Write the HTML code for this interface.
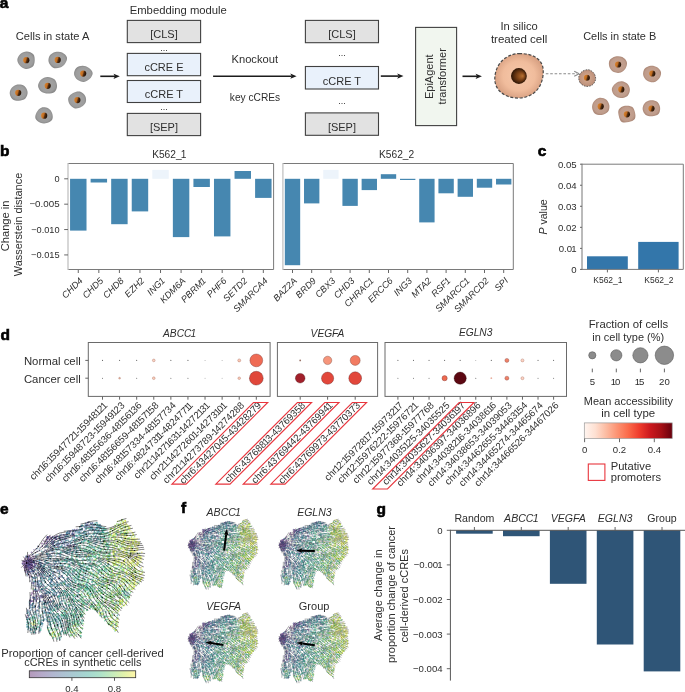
<!DOCTYPE html>
<html><head><meta charset="utf-8"><title>Figure</title>
<style>html,body{margin:0;padding:0;background:#fff;} svg{display:block;} text{font-family:'Liberation Sans', Arial, sans-serif;}</style>
</head><body>
<svg width="685" height="692" viewBox="0 0 685 692">
<defs>
<radialGradient id="gcell" cx="0.5" cy="0.5" r="0.5">
<stop offset="0" stop-color="#a6a6a6"/><stop offset="0.8" stop-color="#9d9d9d"/><stop offset="1" stop-color="#8a8a8a"/></radialGradient>
<radialGradient id="pcell" cx="0.5" cy="0.5" r="0.5">
<stop offset="0" stop-color="#c6a595"/><stop offset="0.8" stop-color="#bf9c8b"/><stop offset="1" stop-color="#ac8877"/></radialGradient>
<linearGradient id="nuc" x1="0" x2="1" y1="0.3" y2="0.6">
<stop offset="0" stop-color="#d8842e"/><stop offset="0.42" stop-color="#c06c22"/><stop offset="0.62" stop-color="#4e2a0e"/><stop offset="1" stop-color="#1a0d04"/></linearGradient>
<radialGradient id="bigcell" cx="0.5" cy="0.5" r="0.55">
<stop offset="0" stop-color="#f6c8aa"/><stop offset="0.6" stop-color="#f0bc9c"/><stop offset="1" stop-color="#d49c7e"/></radialGradient>
<radialGradient id="bignuc" cx="0.5" cy="0.5" r="0.5" fx="0.75" fy="0.5">
<stop offset="0" stop-color="#b87030"/><stop offset="0.5" stop-color="#7a4016"/><stop offset="1" stop-color="#2c1405"/></radialGradient>
<radialGradient id="smallcell" cx="0.5" cy="0.5" r="0.55">
<stop offset="0" stop-color="#d7ad94"/><stop offset="1" stop-color="#b98c76"/></radialGradient>

<linearGradient id="reds" x1="0" x2="1" y1="0" y2="0">
<stop offset="0" stop-color="#fff5f0"/><stop offset="0.125" stop-color="#fee0d2"/><stop offset="0.25" stop-color="#fcbba1"/>
<stop offset="0.375" stop-color="#fc9272"/><stop offset="0.5" stop-color="#fb6a4a"/><stop offset="0.625" stop-color="#ef3b2c"/>
<stop offset="0.75" stop-color="#cb181d"/><stop offset="0.875" stop-color="#a50f15"/><stop offset="1" stop-color="#67000d"/></linearGradient>
<linearGradient id="vir" x1="0" x2="1" y1="0" y2="0"><stop offset="0.000" stop-color="rgb(68, 1, 84)" stop-opacity="0.4"/><stop offset="0.111" stop-color="rgb(72, 40, 120)" stop-opacity="0.4"/><stop offset="0.222" stop-color="rgb(62, 74, 137)" stop-opacity="0.4"/><stop offset="0.333" stop-color="rgb(49, 104, 142)" stop-opacity="0.4"/><stop offset="0.444" stop-color="rgb(38, 130, 142)" stop-opacity="0.4"/><stop offset="0.556" stop-color="rgb(31, 158, 137)" stop-opacity="0.4"/><stop offset="0.667" stop-color="rgb(53, 183, 121)" stop-opacity="0.4"/><stop offset="0.778" stop-color="rgb(109, 205, 89)" stop-opacity="0.4"/><stop offset="0.889" stop-color="rgb(180, 222, 44)" stop-opacity="0.4"/><stop offset="1.000" stop-color="rgb(253, 231, 37)" stop-opacity="0.4"/></linearGradient>
<g id="fblob"><path d="M36.2 566.9h0M27.4 561.8h0M30.5 567.2h0M28.2 563.1h0M29.4 563.2h0M26.0 561.6h0M31.7 563.0h0M33.1 558.9h0M29.1 564.2h0M23.1 564.8h0M29.2 562.5h0M23.6 564.7h0M28.0 558.6h0M28.4 563.3h0M30.2 561.5h0M27.0 562.9h0M28.0 562.6h0M33.6 565.7h0M28.8 566.1h0M28.8 563.8h0M29.4 563.2h0M28.0 562.3h0M28.6 562.0h0M25.0 563.8h0M30.4 562.3h0M31.3 567.7h0M29.0 564.0h0M36.7 562.6h0M29.8 557.6h0M27.9 563.4h0M28.8 563.1h0M28.3 561.1h0M26.6 559.9h0M28.0 563.0h0M27.6 563.7h0M30.3 564.7h0M27.4 562.8h0M27.5 568.6h0M31.9 563.6h0M28.3 563.8h0M31.3 563.4h0M25.1 563.4h0M25.4 564.0h0M28.6 563.1h0M29.1 561.9h0M26.5 555.8h0M29.4 556.1h0M28.1 563.7h0M32.3 561.5h0M29.9 559.8h0M30.2 557.9h0M28.2 564.4h0M30.3 564.7h0M27.8 559.9h0M29.8 554.3h0M24.7 563.6h0M31.4 561.4h0M32.2 561.8h0M25.7 557.2h0M29.6 572.2h0M29.2 563.1h0M29.4 561.9h0M30.2 570.1h0M30.2 568.9h0M27.1 561.4h0M27.5 562.4h0M29.0 562.9h0M28.6 557.0h0M28.2 563.6h0M29.8 566.4h0M23.4 567.7h0M27.3 564.5h0M29.1 563.1h0M26.3 566.3h0M27.2 560.6h0M27.5 566.9h0M25.7 557.4h0M32.0 566.2h0M25.0 558.0h0M26.2 563.9h0M25.4 566.9h0M30.5 564.5h0M28.0 563.3h0M34.9 558.4h0M30.1 562.0h0M25.0 567.8h0M28.2 562.6h0M31.4 572.3h0M30.3 563.4h0M24.4 565.3h0M29.7 560.1h0M29.0 565.1h0M26.8 565.4h0M28.6 563.2h0M28.9 560.0h0M29.7 560.4h0M24.8 561.7h0M34.2 550.9h0M25.1 562.3h0M30.1 562.9h0M28.4 563.1h0M28.6 566.2h0M28.8 563.5h0M25.3 562.4h0M32.7 569.9h0M29.9 563.7h0M27.3 555.1h0M25.7 559.1h0M27.5 567.3h0M28.8 559.1h0M27.8 559.7h0M30.1 563.4h0M29.3 565.9h0M25.4 558.7h0M28.2 563.1h0M54.6 548.3h0M39.0 555.7h0M26.5 568.0h0M48.2 543.4h0M40.4 589.4h0M28.8 558.4h0M53.4 541.3h0M36.2 605.8h0M35.7 601.3h0M74.0 549.5h0M31.8 611.5h0M42.4 542.3h0M28.7 563.9h0M41.5 562.8h0M32.6 581.2h0M41.6 585.5h0M31.5 561.8h0M49.1 537.0h0M26.1 572.6h0M50.0 596.1h0M26.3 566.4h0M53.4 537.2h0M26.3 567.0h0M25.8 572.1h0M71.6 547.9h0M58.9 535.2h0M51.2 539.9h0M47.9 546.1h0M55.4 539.8h0M69.1 577.9h0M28.8 562.1h0M33.9 595.0h0M25.9 559.9h0M48.9 547.9h0M27.5 563.4h0M27.1 561.6h0M33.7 562.1h0M49.9 540.1h0M29.0 564.1h0M53.3 543.2h0M45.2 544.9h0M41.8 569.4h0M28.4 566.4h0M33.3 563.6h0M29.2 563.5h0M52.6 538.0h0M41.8 597.5h0M23.4 560.9h0M51.3 538.9h0M26.9 560.0h0M41.9 544.9h0M23.3 567.3h0M48.4 539.5h0M49.2 564.6h0M30.5 573.6h0M34.1 592.0h0M37.8 565.2h0M30.9 565.1h0M43.6 546.0h0M40.4 544.7h0M27.3 569.7h0M23.1 563.0h0M68.8 540.5h0M38.9 597.6h0M47.6 541.6h0M30.7 563.0h0M35.3 556.1h0M46.9 572.6h0M36.4 586.3h0M25.1 563.5h0M36.6 573.7h0M37.9 600.2h0M57.0 536.8h0M25.8 560.6h0M29.5 602.1h0M24.2 563.6h0M47.7 545.8h0M50.1 537.8h0" stroke="rgb(70, 16, 98)" stroke-opacity="0.5" stroke-width="2.5" stroke-linecap="round" fill="none"/>
<path d="M28.0 555.2h0M28.0 558.7h0M28.0 563.6h0M28.1 563.9h0M30.1 561.3h0M28.5 563.0h0M25.7 572.8h0M26.3 562.8h0M30.3 564.2h0M32.8 559.2h0M27.3 562.8h0M29.0 565.8h0M28.0 559.6h0M29.7 562.5h0M32.1 570.3h0M30.2 566.2h0M27.6 565.0h0M28.2 564.0h0M30.7 560.0h0M26.0 565.8h0M28.3 563.2h0M24.4 562.7h0M28.5 563.6h0M28.5 563.1h0M28.2 562.9h0M29.6 563.7h0M29.2 562.6h0M30.4 569.7h0M27.8 571.2h0M27.8 563.1h0M28.4 562.7h0M31.2 562.9h0M30.5 564.2h0M34.9 562.4h0M28.2 562.3h0M31.5 566.5h0M28.5 563.8h0M27.7 563.4h0M29.1 562.2h0M27.3 560.1h0M33.7 563.8h0M26.9 561.3h0M31.8 566.3h0M28.4 563.0h0M32.6 564.0h0M32.1 557.3h0M27.7 563.4h0M28.9 562.7h0M25.9 562.3h0M31.2 562.0h0M28.6 564.9h0M29.0 569.7h0M24.7 566.7h0M30.6 560.3h0M27.8 560.6h0M28.5 560.5h0M28.6 554.8h0M26.2 565.5h0M30.2 561.7h0M27.1 560.7h0M30.1 561.9h0M28.5 563.0h0M28.6 565.0h0M30.1 559.8h0M26.1 560.2h0M33.6 558.9h0M28.9 561.2h0M28.5 563.0h0M28.6 563.1h0M26.1 559.8h0M28.7 563.4h0M27.2 564.3h0M34.6 586.7h0M37.7 560.9h0M87.9 528.2h0M27.8 557.1h0M99.3 525.4h0M33.9 604.1h0M24.9 568.6h0M61.9 536.2h0M66.5 557.4h0M56.6 535.8h0M25.8 572.7h0M29.9 571.0h0M43.4 571.5h0M63.5 544.2h0M32.4 562.6h0M60.5 541.7h0M33.3 551.9h0M30.0 554.0h0M62.0 538.3h0M35.0 594.7h0M34.0 599.6h0M28.3 566.3h0M49.2 542.6h0M32.0 603.3h0M38.2 578.9h0M34.2 567.2h0M32.3 554.4h0M42.7 594.9h0M41.2 564.3h0M35.2 548.9h0M62.2 538.8h0M65.4 568.9h0M55.9 538.1h0M90.5 529.6h0M88.6 527.2h0M72.5 547.7h0M58.6 535.2h0M54.5 601.6h0M23.1 564.3h0M36.9 601.4h0M58.0 538.7h0M32.4 579.1h0M25.3 557.2h0M53.4 543.3h0M36.3 560.8h0M29.4 603.7h0M52.1 593.3h0M48.5 539.9h0M31.7 563.1h0M33.5 555.3h0M64.2 547.3h0M83.2 528.4h0M47.8 581.4h0M44.0 558.1h0M49.2 602.0h0M62.8 536.9h0M35.9 575.3h0M39.9 560.3h0M49.0 563.7h0M58.2 535.2h0M39.5 594.6h0M31.0 567.4h0M96.8 527.0h0M38.6 574.1h0M85.3 524.6h0M47.0 537.7h0M51.1 593.0h0M35.2 589.0h0M52.0 538.3h0M97.6 539.7h0M55.4 540.1h0M48.1 587.3h0M34.4 598.6h0M61.1 557.3h0M77.3 537.8h0M33.2 565.9h0M34.5 596.0h0M32.3 566.2h0M36.5 557.4h0M56.1 542.4h0M44.6 553.2h0M44.0 560.1h0M39.6 593.6h0M33.4 605.7h0M71.8 565.2h0M58.5 537.0h0M57.8 578.2h0M67.1 535.5h0M91.7 529.4h0M43.4 548.9h0M35.1 584.5h0M65.4 539.4h0M46.3 554.2h0M53.5 544.8h0M56.2 570.3h0" stroke="rgb(71, 44, 122)" stroke-opacity="0.5" stroke-width="2.5" stroke-linecap="round" fill="none"/>
<path d="M24.7 569.7h0M24.8 567.4h0M30.2 562.4h0M27.7 560.9h0M25.5 557.4h0M40.5 592.9h0M39.0 594.7h0M64.9 535.4h0M50.3 558.8h0M45.0 571.6h0M49.1 615.4h0M32.3 571.1h0M53.5 578.3h0M49.6 541.5h0M47.7 604.9h0M58.7 617.6h0M79.3 532.1h0M27.5 558.2h0M36.1 601.5h0M34.9 568.6h0M59.9 613.3h0M45.6 588.8h0M65.1 556.0h0M41.0 591.5h0M60.3 576.1h0M75.8 529.9h0M56.9 583.7h0M61.9 573.3h0M54.0 575.5h0M56.8 582.7h0M31.1 579.4h0M67.5 547.4h0M93.9 534.3h0M64.6 532.8h0M52.0 614.9h0M57.6 567.4h0M55.3 573.9h0M53.7 556.9h0M54.0 571.7h0M66.9 592.3h0M58.1 556.9h0M72.3 532.6h0M34.8 554.3h0M91.1 522.7h0M46.4 603.8h0M32.4 596.7h0M46.8 577.9h0M71.1 542.0h0M34.7 587.6h0M31.2 617.8h0M33.2 566.1h0M39.2 592.1h0M56.8 575.7h0M49.2 551.0h0M62.7 583.7h0M36.5 588.9h0M85.9 525.2h0M46.2 557.4h0M56.3 544.3h0M31.2 570.5h0M53.2 597.5h0M29.6 558.5h0M36.5 613.5h0M71.9 543.7h0M55.6 549.6h0M39.5 567.6h0M65.0 538.5h0M31.6 601.8h0M39.6 584.2h0M40.0 609.6h0M68.0 548.4h0M53.1 552.8h0M88.0 523.7h0M57.7 578.5h0M33.8 591.7h0M61.6 541.5h0M47.8 536.5h0M28.6 573.6h0M52.2 537.3h0M34.4 586.9h0M57.3 581.4h0M39.7 574.1h0M84.0 526.7h0M54.8 564.5h0M36.9 631.5h0M39.0 577.6h0M62.0 542.1h0M59.8 578.8h0M46.6 554.7h0M71.7 554.8h0M62.1 615.6h0M43.9 554.1h0M68.9 540.7h0M50.8 548.8h0M38.5 590.2h0M35.9 614.0h0M27.7 618.6h0M41.8 595.0h0M53.2 573.0h0M68.0 539.7h0M33.5 586.7h0M29.0 557.7h0M49.2 606.7h0M39.1 553.0h0M88.7 532.1h0M34.1 564.2h0M53.0 537.4h0M37.4 565.7h0M63.4 535.7h0M50.9 593.4h0M86.9 525.6h0M41.6 590.9h0M83.7 554.0h0M61.7 536.7h0M56.8 539.2h0M56.3 551.2h0M67.5 536.5h0M48.7 608.5h0M66.2 583.0h0M56.5 595.6h0M40.9 590.3h0M49.5 546.5h0M39.8 601.2h0M58.9 554.8h0M77.4 559.3h0M97.5 525.4h0M38.1 594.2h0M31.0 573.9h0M33.3 609.8h0M31.6 578.1h0M38.4 569.9h0M94.5 522.9h0M74.9 542.8h0M36.0 575.3h0M59.6 538.5h0M41.6 565.6h0M50.7 558.7h0M71.0 534.4h0M48.7 546.5h0M50.0 598.7h0M50.8 573.4h0M61.5 542.9h0M53.4 605.6h0M58.1 535.3h0M32.1 574.1h0M47.8 570.1h0M57.5 576.3h0M48.1 549.5h0M65.4 572.0h0M57.4 541.2h0M22.8 563.3h0M80.0 540.8h0M31.3 593.8h0M64.2 540.1h0M52.2 564.8h0M38.1 599.0h0M60.5 537.4h0M50.2 551.6h0M28.8 569.3h0M103.1 530.1h0M40.6 600.8h0M41.9 571.0h0M48.2 601.7h0M52.6 538.0h0M32.4 613.9h0M50.2 580.1h0M92.6 530.3h0M38.5 581.9h0M50.3 538.3h0M54.5 539.5h0M50.5 549.6h0M31.9 566.3h0M76.5 535.2h0M38.6 632.2h0M40.3 565.7h0M28.3 574.9h0M40.4 575.6h0M34.7 599.0h0M33.3 570.6h0M42.2 579.4h0M38.5 590.6h0M30.1 573.8h0M71.9 544.1h0M83.5 589.6h0M33.1 561.1h0" stroke="rgb(63, 70, 135)" stroke-opacity="0.5" stroke-width="2.5" stroke-linecap="round" fill="none"/>
<path d="M53.3 540.9h0M45.6 575.7h0M34.4 580.8h0M100.5 588.2h0M27.0 573.8h0M81.1 553.9h0M65.3 622.7h0M48.3 552.5h0M50.6 595.0h0M31.9 606.2h0M53.3 612.6h0M74.1 532.0h0M32.6 578.9h0M74.8 550.8h0M44.7 616.8h0M46.4 552.9h0M50.5 563.8h0M72.2 537.9h0M78.6 588.6h0M68.7 597.9h0M103.3 528.6h0M32.9 577.8h0M61.4 576.3h0M87.7 525.6h0M66.5 550.0h0M31.7 617.3h0M57.7 541.1h0M71.6 616.5h0M57.9 621.3h0M31.6 579.4h0M75.2 529.8h0M52.5 601.6h0M55.9 568.2h0M98.4 594.4h0M73.7 534.6h0M50.4 544.6h0M60.2 601.0h0M56.9 587.4h0M80.2 562.4h0M45.2 578.8h0M34.1 568.5h0M58.9 539.1h0M40.8 584.2h0M29.8 559.6h0M62.6 542.9h0M32.3 581.8h0M53.5 568.8h0M91.6 545.8h0M64.8 599.0h0M72.5 542.4h0M100.0 529.1h0M64.7 603.7h0M50.9 547.5h0M41.3 594.1h0M48.4 563.0h0M61.2 574.6h0M59.3 612.3h0M68.2 534.0h0M86.4 533.0h0M68.9 617.4h0M59.7 578.8h0M61.9 599.5h0M62.9 577.0h0M67.6 540.0h0M52.3 610.3h0M55.8 612.3h0M89.2 525.0h0M97.9 539.5h0M87.5 535.2h0M95.0 538.4h0M67.7 575.8h0M56.6 581.3h0M38.6 586.7h0M49.2 604.0h0M80.4 526.1h0M74.8 536.2h0M53.9 609.5h0M71.0 564.9h0M56.7 602.2h0M43.1 601.8h0M44.0 569.7h0M49.1 557.6h0M48.3 591.4h0M37.8 603.7h0M51.0 547.1h0M33.1 573.5h0M61.5 546.1h0M53.2 610.9h0M35.3 632.7h0M62.3 570.3h0M56.6 594.7h0M105.2 528.7h0M69.5 535.3h0M90.1 534.4h0M44.2 565.7h0M85.1 570.0h0M96.6 525.7h0M39.5 619.1h0M47.8 552.7h0M65.7 576.3h0M59.9 550.7h0M82.3 567.8h0M83.6 532.2h0M86.6 561.7h0M77.0 531.5h0M65.2 533.7h0M48.1 586.8h0M31.6 610.2h0M47.0 566.3h0M33.6 613.8h0M56.6 562.5h0M60.2 575.6h0M38.6 630.1h0M59.6 613.4h0M37.3 560.8h0M46.3 600.2h0M48.9 545.9h0M63.7 549.9h0M40.3 589.3h0M44.6 606.1h0M87.3 524.1h0M52.4 598.0h0M39.7 578.1h0M46.6 581.5h0M92.6 526.6h0M41.3 617.7h0M40.3 563.9h0M87.2 530.4h0M96.5 579.3h0M86.1 527.6h0M62.5 559.8h0M95.3 538.6h0M79.5 604.1h0M50.9 603.8h0M61.9 547.1h0M50.7 570.5h0M40.6 571.2h0M42.0 600.5h0M52.2 579.7h0M44.4 550.7h0M36.0 561.1h0M32.7 615.9h0M53.3 542.8h0M74.1 547.6h0M81.8 525.7h0M47.7 570.5h0M44.6 576.4h0M91.9 529.7h0M45.2 567.1h0M46.3 601.6h0M67.9 531.7h0M40.1 598.5h0M74.2 554.5h0M65.8 539.9h0M88.2 526.1h0M35.5 596.6h0M34.9 594.2h0M30.5 601.2h0M33.2 608.0h0M57.1 594.0h0M26.8 560.5h0M27.6 568.1h0M58.9 608.3h0M91.3 524.3h0M94.5 531.8h0M47.3 616.2h0M57.4 578.1h0M49.9 591.9h0M65.1 602.6h0M57.0 602.6h0M73.6 575.8h0M59.5 555.6h0M38.8 618.0h0M60.5 596.0h0M57.5 580.4h0M57.2 542.7h0M42.0 598.1h0M36.8 559.8h0M58.2 547.8h0M27.4 621.3h0M56.3 593.6h0M67.3 590.7h0M92.9 530.0h0M76.2 534.8h0M53.9 566.6h0M43.9 585.0h0M64.0 598.6h0M56.0 578.2h0M55.4 552.6h0M43.9 617.6h0M55.5 540.4h0M54.5 601.2h0M73.1 596.2h0M54.6 589.2h0M32.4 552.3h0M92.1 527.0h0M54.7 557.7h0M86.0 558.6h0M65.4 540.0h0M64.6 625.1h0M63.0 549.6h0M44.1 562.9h0M62.8 548.4h0M43.3 569.0h0M43.3 596.2h0M59.3 598.0h0M40.2 604.1h0M49.8 604.3h0M44.1 564.5h0M48.2 599.6h0M54.2 540.3h0M92.6 545.8h0M40.5 612.7h0M40.6 624.2h0M94.1 535.7h0M67.0 538.2h0M65.8 612.0h0M61.6 549.3h0M61.9 547.4h0M62.7 578.9h0" stroke="rgb(54, 93, 140)" stroke-opacity="0.5" stroke-width="2.5" stroke-linecap="round" fill="none"/>
<path d="M37.0 604.8h0M63.0 584.3h0M59.9 542.9h0M95.4 525.4h0M84.8 537.2h0M32.3 614.4h0M40.2 577.5h0M50.5 560.0h0M53.9 586.3h0M55.0 550.3h0M78.6 528.2h0M56.0 547.0h0M74.3 597.6h0M48.4 577.3h0M61.6 583.3h0M46.8 620.6h0M102.9 614.3h0M55.0 563.9h0M51.5 603.0h0M101.4 583.8h0M64.6 598.9h0M85.3 535.1h0M51.8 609.8h0M88.4 524.8h0M77.5 567.9h0M56.4 613.5h0M74.1 536.2h0M80.2 563.7h0M49.1 554.8h0M54.9 622.8h0M66.5 588.9h0M52.7 540.7h0M53.8 589.5h0M88.6 529.0h0M89.6 527.3h0M64.9 607.6h0M64.0 537.0h0M68.8 577.9h0M38.2 614.1h0M63.5 565.3h0M45.9 567.9h0M59.9 618.6h0M64.8 540.7h0M95.7 550.8h0M64.0 576.1h0M68.9 566.5h0M62.4 591.9h0M47.0 611.5h0M82.8 611.9h0M61.8 551.2h0M49.0 585.9h0M45.0 578.2h0M62.7 571.8h0M104.5 539.6h0M54.6 601.5h0M83.3 567.3h0M82.0 526.7h0M94.5 524.5h0M51.8 604.6h0M48.4 574.0h0M76.1 530.6h0M52.5 582.3h0M63.1 600.5h0M65.8 591.6h0M68.8 604.4h0M55.0 595.1h0M48.6 609.6h0M61.4 564.3h0M64.9 600.1h0M52.2 542.5h0M41.1 586.7h0M52.1 548.7h0M62.6 570.1h0M35.4 574.1h0M62.8 584.5h0M57.2 596.2h0M54.7 559.1h0M39.9 631.3h0M60.0 571.3h0M50.3 610.4h0M88.4 589.5h0M63.7 551.9h0M61.5 625.5h0M83.0 531.8h0M53.0 639.1h0M50.6 545.6h0M76.2 558.7h0M101.9 589.5h0M43.1 618.7h0M80.0 560.8h0M95.6 535.7h0M62.2 553.2h0M47.4 622.1h0M43.4 622.0h0M41.7 627.8h0M87.9 529.0h0M57.2 612.6h0M47.3 608.9h0M40.9 583.2h0M63.3 594.2h0M57.0 580.7h0M93.5 523.0h0M55.2 549.4h0M47.4 614.3h0M72.5 577.8h0M55.7 606.9h0M46.8 554.5h0M64.7 532.9h0M53.7 619.3h0M49.9 592.6h0M53.4 590.5h0M53.4 547.7h0M77.9 551.3h0M103.2 544.1h0M62.6 608.7h0M36.7 574.4h0M88.3 560.4h0M72.9 540.5h0M60.0 558.2h0M37.2 569.6h0M62.1 552.6h0M68.3 549.4h0M30.8 553.0h0M101.7 525.5h0M54.8 571.8h0M64.4 537.5h0M47.5 570.2h0M94.4 535.1h0M72.1 557.1h0M47.9 611.5h0M34.3 611.3h0M79.1 533.5h0M69.2 556.6h0M76.7 530.8h0M77.0 572.5h0M96.2 589.8h0M59.8 566.0h0M42.7 605.5h0M31.2 618.8h0M77.5 591.0h0M84.1 531.5h0M65.6 539.7h0M100.0 524.9h0M32.4 605.1h0M37.6 569.6h0M78.1 530.2h0M28.1 618.7h0M66.7 591.3h0M75.6 572.3h0M93.5 529.3h0M78.7 536.1h0M26.8 623.6h0M104.6 528.4h0M50.9 562.4h0M87.8 540.4h0M33.1 615.3h0M73.6 535.8h0M72.0 575.5h0M95.4 526.5h0M55.3 585.7h0M88.9 554.1h0M67.4 597.5h0M101.7 532.8h0M62.4 550.6h0M51.3 624.1h0M95.4 525.3h0M49.6 548.5h0M60.8 544.0h0M56.5 555.2h0M81.1 579.0h0M82.8 589.9h0M35.9 564.5h0M83.6 535.2h0M48.1 597.6h0M46.6 595.3h0M89.3 538.9h0M30.6 568.2h0M43.0 621.2h0M77.2 563.8h0M108.4 600.1h0M84.5 529.7h0M100.1 537.4h0M57.0 607.4h0M63.7 550.9h0M76.0 561.0h0M88.6 529.6h0M55.1 572.8h0M53.9 564.5h0M53.1 622.7h0M67.4 534.8h0M62.8 564.0h0M53.9 615.5h0M93.6 546.0h0M55.5 545.6h0M99.2 534.1h0M79.7 530.9h0M44.5 620.9h0M48.9 625.4h0M75.4 572.2h0M72.5 590.3h0M68.8 552.6h0M41.2 628.3h0M49.5 605.1h0M108.4 550.6h0M98.4 536.1h0M100.5 530.6h0M68.2 552.9h0M78.1 605.2h0M57.8 608.5h0M68.9 579.1h0M38.2 568.5h0M50.2 563.6h0M60.1 542.4h0M67.5 562.4h0M128.2 594.4h0M82.7 561.9h0M41.5 579.6h0M37.1 577.4h0M37.3 577.1h0M99.3 545.5h0M70.5 572.9h0M35.0 589.5h0M95.2 569.8h0M80.7 546.2h0M70.7 549.4h0M75.8 580.3h0M31.9 607.6h0M77.2 530.3h0M65.3 595.0h0M57.3 563.0h0M84.2 565.5h0M39.2 570.1h0M52.3 551.4h0M70.6 591.9h0M97.0 532.1h0M95.9 547.0h0M78.5 544.7h0M33.8 610.9h0M61.1 551.1h0M27.8 625.9h0M62.4 617.8h0M108.4 530.6h0M98.4 525.6h0M45.4 608.9h0M40.6 625.0h0M34.3 610.0h0M55.0 618.2h0M64.8 547.9h0M38.9 568.6h0M26.7 616.4h0M78.4 567.7h0M96.7 531.5h0" stroke="rgb(45, 114, 142)" stroke-opacity="0.5" stroke-width="2.5" stroke-linecap="round" fill="none"/>
<path d="M70.2 576.3h0M71.9 579.5h0M74.5 574.5h0M101.7 537.3h0M52.4 606.0h0M106.2 564.2h0M83.8 546.7h0M68.8 556.2h0M46.7 559.2h0M47.4 621.9h0M59.1 609.0h0M34.6 568.5h0M73.8 568.6h0M86.0 552.6h0M80.9 615.1h0M60.0 594.0h0M53.3 578.9h0M64.6 601.2h0M66.3 606.9h0M42.4 572.7h0M72.0 606.9h0M81.3 538.8h0M95.7 536.2h0M40.7 628.1h0M69.1 633.2h0M83.5 533.6h0M64.2 569.7h0M81.9 580.0h0M92.8 568.3h0M45.7 613.7h0M76.0 532.5h0M82.8 562.5h0M66.3 572.7h0M83.2 527.2h0M120.4 576.1h0M88.6 595.0h0M63.2 577.1h0M60.1 632.1h0M59.4 599.2h0M66.0 604.9h0M67.6 582.4h0M87.7 580.9h0M29.5 619.0h0M62.7 624.7h0M59.6 564.2h0M63.6 619.8h0M56.9 608.3h0M75.3 567.1h0M84.7 548.5h0M79.8 578.2h0M65.9 568.8h0M81.1 554.2h0M88.6 530.1h0M75.4 609.3h0M86.0 589.2h0M47.0 608.0h0M47.3 595.6h0M60.4 636.7h0M41.7 602.7h0M59.6 565.2h0M38.9 631.6h0M72.3 530.9h0M34.1 581.8h0M47.6 612.1h0M60.2 610.8h0M50.2 553.2h0M73.3 610.1h0M67.7 551.5h0M75.5 593.9h0M60.3 617.8h0M54.3 619.5h0M79.1 566.2h0M62.8 600.1h0M42.7 593.6h0M61.9 599.4h0M61.4 591.5h0M36.6 617.4h0M64.5 592.9h0M39.3 628.1h0M91.3 530.6h0M79.8 635.8h0M55.9 551.0h0M34.6 615.1h0M75.2 578.0h0M58.3 588.6h0M58.4 607.0h0M71.8 625.9h0M65.1 546.8h0M62.7 592.3h0M63.0 605.2h0M55.4 624.2h0M61.6 620.3h0M127.9 594.4h0M52.4 568.8h0M75.5 542.3h0M62.6 562.2h0M74.0 601.5h0M79.3 579.4h0M68.4 620.1h0M60.8 534.4h0M114.5 579.4h0M64.9 550.1h0M82.0 542.4h0M102.2 585.7h0M60.9 626.6h0M84.7 527.8h0M72.4 535.0h0M47.6 624.4h0M96.5 582.3h0M82.4 535.7h0M76.8 605.5h0M99.9 539.8h0M73.2 591.4h0M53.5 605.1h0M95.6 544.7h0M36.8 632.8h0M80.6 618.9h0M41.2 580.8h0M71.8 569.6h0M40.6 576.2h0M62.7 548.4h0M79.1 568.4h0M57.2 601.5h0M67.1 623.5h0M89.4 560.8h0M86.2 548.1h0M49.0 579.0h0M57.5 596.8h0M57.6 581.4h0M62.6 603.9h0M42.1 578.3h0M104.4 530.0h0M105.0 566.2h0M83.4 563.6h0M54.7 609.8h0M84.1 581.5h0M55.8 587.2h0M60.9 553.7h0M69.8 551.7h0M48.3 614.0h0M84.2 617.8h0M89.6 534.2h0M91.5 540.4h0M68.1 580.7h0M41.9 595.9h0M58.3 556.3h0M77.4 614.6h0M64.3 596.2h0M102.1 544.1h0M69.5 551.6h0M34.6 629.0h0M65.8 574.9h0M52.5 616.9h0M102.3 601.5h0M83.1 570.8h0M92.6 595.7h0M54.7 603.3h0M76.8 608.5h0M92.7 595.2h0M96.1 537.5h0M79.4 536.9h0M34.6 624.9h0M65.3 540.3h0M92.9 581.3h0M81.2 537.1h0M29.8 621.3h0M105.6 532.4h0M51.8 583.3h0M82.8 578.0h0M51.5 553.0h0M94.8 525.8h0M62.5 540.9h0M89.9 532.6h0M106.6 560.0h0M66.6 603.1h0M92.0 535.5h0M88.3 535.1h0M37.8 575.6h0M95.5 547.5h0M99.5 584.3h0M78.4 551.1h0M89.2 571.9h0M58.6 613.7h0M71.5 536.0h0M86.6 557.2h0M61.5 581.8h0M65.6 546.3h0M104.6 568.4h0M85.6 539.7h0M63.3 612.7h0M101.4 548.2h0M65.5 587.8h0M111.7 587.0h0M34.3 605.4h0M41.7 548.5h0M83.2 543.1h0M73.3 607.3h0M56.5 559.5h0M60.6 584.0h0M81.3 583.5h0M53.9 585.3h0M77.8 637.3h0M63.1 558.5h0M63.4 623.1h0M68.6 566.4h0M74.6 573.8h0M104.3 617.1h0M79.0 552.5h0M81.1 552.2h0M78.5 582.9h0M63.9 568.7h0M52.0 556.2h0M78.3 585.4h0M83.6 556.0h0M87.6 539.1h0M46.5 584.0h0M54.8 579.6h0M57.1 597.5h0M57.6 542.4h0M80.0 553.9h0M59.2 585.3h0M106.7 535.1h0M97.2 536.8h0M104.3 535.0h0M38.4 611.2h0M70.5 609.9h0M56.1 601.2h0M90.6 596.8h0M46.1 613.4h0M38.4 552.3h0M69.8 549.1h0M66.0 626.5h0M34.4 628.0h0M65.0 603.1h0M80.1 615.9h0M69.7 588.1h0M71.2 557.1h0M108.1 549.2h0M57.7 570.7h0M89.4 531.6h0M77.6 533.2h0M44.0 576.7h0M90.9 559.0h0M96.4 544.8h0M80.9 536.1h0M83.7 599.7h0M97.5 606.1h0M61.0 583.5h0M74.2 618.5h0M64.9 561.0h0M55.9 585.5h0M66.8 573.7h0M80.4 600.1h0M63.3 552.6h0M73.9 593.0h0M81.7 539.9h0M76.6 581.3h0M81.0 591.9h0M62.8 550.4h0M39.1 622.2h0M52.5 571.5h0M45.2 613.9h0M55.4 579.4h0M74.8 561.6h0M77.1 618.3h0M79.0 591.4h0M82.7 538.4h0M52.8 567.3h0M76.9 611.3h0M74.9 556.9h0M33.0 581.1h0M74.2 592.7h0M29.3 627.7h0M64.3 552.2h0M128.5 576.3h0M98.9 590.8h0" stroke="rgb(37, 134, 141)" stroke-opacity="0.5" stroke-width="2.5" stroke-linecap="round" fill="none"/>
<path d="M73.6 621.2h0M108.7 608.8h0M80.2 635.1h0M35.2 615.0h0M76.4 575.1h0M103.6 586.5h0M82.7 606.3h0M63.5 614.9h0M34.7 613.9h0M116.2 544.9h0M58.5 599.2h0M97.4 590.7h0M110.1 585.0h0M68.1 598.5h0M86.9 567.4h0M97.8 535.1h0M108.7 591.2h0M51.9 568.2h0M48.9 628.4h0M91.4 582.3h0M71.8 593.1h0M77.1 613.2h0M84.0 605.8h0M80.3 632.2h0M80.2 605.7h0M82.1 598.7h0M69.7 621.0h0M104.3 604.1h0M59.3 557.8h0M99.7 549.0h0M79.8 588.6h0M48.8 578.4h0M93.7 607.1h0M70.7 579.5h0M50.8 552.2h0M103.7 574.7h0M77.5 570.7h0M51.1 569.9h0M92.7 606.4h0M77.7 605.6h0M31.3 608.0h0M91.3 539.2h0M80.6 595.7h0M70.0 535.7h0M67.1 608.3h0M82.0 563.3h0M77.2 575.3h0M81.2 588.5h0M70.8 558.9h0M74.1 567.2h0M70.7 610.2h0M61.8 594.5h0M94.9 527.0h0M83.1 543.8h0M111.2 587.5h0M113.6 591.8h0M49.2 578.2h0M126.3 587.4h0M73.3 595.7h0M47.2 600.4h0M68.5 611.8h0M54.6 605.8h0M89.7 587.8h0M62.9 590.5h0M72.7 623.7h0M40.7 599.1h0M67.6 628.9h0M86.5 559.3h0M95.3 607.4h0M68.0 623.4h0M71.9 593.2h0M65.9 633.5h0M102.5 606.6h0M70.6 589.8h0M69.4 568.2h0M41.9 620.1h0M74.0 604.1h0M72.0 534.9h0M108.7 623.6h0M67.1 632.5h0M73.4 567.0h0M85.2 594.8h0M88.9 597.9h0M130.5 591.1h0M99.1 550.0h0M91.3 605.0h0M56.3 554.3h0M99.2 562.7h0M83.9 595.0h0M75.4 533.2h0M80.0 618.8h0M111.8 567.6h0M90.8 572.5h0M95.2 544.4h0M51.7 623.2h0M74.0 539.2h0M55.1 536.0h0M102.3 530.6h0M104.8 543.5h0M100.1 599.2h0M124.2 592.2h0M58.0 589.7h0M34.1 631.3h0M65.4 609.4h0M76.0 600.4h0M68.9 538.9h0M73.4 569.0h0M33.3 627.0h0M100.5 538.7h0M97.9 555.9h0M78.1 542.0h0M73.1 556.3h0M55.2 615.9h0M103.3 575.9h0M118.8 541.2h0M68.2 620.0h0M70.7 580.4h0M63.9 616.7h0M79.0 558.9h0M64.1 600.4h0M50.1 589.2h0M71.1 623.7h0M109.1 605.4h0M106.5 581.4h0M38.1 581.8h0M65.3 614.2h0M85.7 593.3h0M103.8 581.1h0M65.5 603.6h0M69.9 560.4h0M74.2 585.8h0M36.1 624.8h0M76.5 563.3h0M97.5 544.5h0M52.7 596.0h0M37.2 627.2h0M80.5 572.1h0M82.0 628.0h0M53.9 579.5h0M94.9 588.9h0M28.5 614.2h0M95.2 551.5h0M98.8 576.8h0M123.9 592.0h0M61.1 604.2h0M111.1 604.0h0M53.2 550.1h0M58.1 607.7h0M61.7 621.8h0M87.2 542.4h0M101.5 614.1h0M32.6 632.3h0M90.0 593.0h0M75.2 575.6h0M50.0 630.0h0M57.7 629.5h0M94.3 569.1h0M84.6 555.4h0M28.2 610.3h0M84.6 587.7h0M89.4 600.9h0M74.0 636.2h0M96.6 601.6h0M91.7 567.7h0M75.3 562.5h0M85.7 551.9h0M81.6 622.3h0M30.3 621.8h0M105.3 560.9h0M67.3 588.8h0M97.7 559.2h0M102.1 576.6h0M52.9 618.2h0M59.9 556.8h0M108.4 554.4h0M74.7 543.9h0M84.9 594.8h0M80.5 555.9h0M52.5 592.4h0M52.0 613.0h0M72.4 575.0h0M71.4 572.0h0M67.0 572.7h0M77.7 569.7h0M126.9 568.8h0M118.5 578.3h0M70.9 617.0h0M126.7 591.5h0M109.3 606.5h0M78.9 543.1h0M99.2 538.4h0M41.8 610.6h0M78.7 565.3h0M82.2 539.6h0M89.1 533.2h0M72.5 569.3h0M94.6 546.7h0M99.5 549.2h0M63.9 584.1h0M81.3 529.2h0M63.2 606.8h0M100.7 532.3h0M57.5 552.7h0M107.0 552.4h0M64.8 594.6h0M100.6 547.8h0M122.0 591.8h0M58.8 603.0h0M89.5 563.4h0M89.1 526.6h0M101.3 570.4h0M94.3 543.6h0M100.4 554.1h0M56.9 573.2h0M82.2 603.5h0M88.1 535.0h0M112.8 594.4h0M85.8 553.5h0M96.7 549.9h0M91.8 523.8h0M69.3 584.0h0M77.7 550.3h0M95.5 574.1h0M76.6 598.8h0M67.9 589.7h0M52.4 626.9h0M84.5 572.9h0M100.8 603.2h0M76.5 555.4h0M54.0 574.4h0M62.5 561.8h0M78.8 540.1h0M60.0 613.3h0M85.0 595.7h0M61.5 610.1h0M73.9 612.5h0M104.8 532.1h0M93.2 552.4h0M55.1 611.1h0M46.2 575.5h0M89.6 586.2h0M86.3 564.5h0M87.7 602.1h0M80.7 626.5h0M76.3 585.3h0M61.6 619.9h0M52.7 630.1h0M51.5 621.7h0M47.5 613.1h0M98.9 600.7h0M60.4 606.7h0M81.2 612.0h0M61.6 592.7h0M63.9 624.5h0M89.2 562.3h0M91.8 593.6h0M63.8 577.6h0M57.9 566.1h0" stroke="rgb(32, 154, 138)" stroke-opacity="0.5" stroke-width="2.5" stroke-linecap="round" fill="none"/>
<path d="M124.8 591.8h0M97.0 571.4h0M71.5 630.6h0M85.6 583.0h0M104.4 600.4h0M96.4 608.6h0M59.5 588.4h0M79.1 541.8h0M109.3 584.1h0M86.8 588.8h0M78.8 592.9h0M79.9 557.7h0M68.3 590.4h0M33.3 628.9h0M75.2 565.4h0M73.9 583.2h0M105.3 614.0h0M81.7 626.1h0M115.0 624.8h0M106.3 590.0h0M67.0 607.6h0M89.7 552.7h0M69.7 596.0h0M108.2 612.4h0M81.8 555.5h0M108.6 546.5h0M112.1 586.7h0M110.5 589.1h0M105.4 577.8h0M128.7 539.2h0M88.3 572.6h0M134.9 568.6h0M81.8 608.3h0M66.0 602.1h0M79.4 533.2h0M37.3 622.3h0M95.1 602.8h0M125.2 567.0h0M106.8 612.1h0M36.5 630.7h0M100.8 598.6h0M103.0 550.2h0M103.4 555.5h0M82.2 611.4h0M82.6 597.5h0M68.2 560.2h0M96.6 533.8h0M29.8 620.2h0M56.2 563.3h0M57.7 624.1h0M67.8 601.7h0M35.2 619.4h0M95.7 562.7h0M103.2 564.6h0M123.0 588.8h0M100.6 543.3h0M111.4 586.2h0M77.8 620.0h0M91.7 565.1h0M78.7 582.7h0M91.4 579.4h0M55.0 580.1h0M83.0 601.2h0M72.6 570.4h0M45.3 576.2h0M109.7 559.7h0M105.8 573.4h0M122.5 588.0h0M115.4 623.8h0M88.5 572.7h0M103.4 563.1h0M69.2 626.9h0M106.7 593.7h0M121.5 575.4h0M99.0 587.6h0M90.3 570.2h0M108.5 532.5h0M31.1 628.8h0M84.4 611.5h0M91.9 555.1h0M59.8 542.2h0M70.0 609.8h0M97.0 587.6h0M95.7 600.2h0M88.0 593.5h0M80.3 622.6h0M97.1 589.3h0M85.1 553.0h0M75.2 560.0h0M66.1 623.4h0M106.4 618.9h0M56.3 626.0h0M109.9 611.9h0M97.2 594.0h0M65.8 598.6h0M92.6 602.1h0M105.1 608.0h0M97.0 603.2h0M75.6 623.9h0M85.4 579.8h0M112.3 595.8h0M74.9 580.9h0M110.0 584.8h0M116.2 532.0h0M97.9 588.7h0M51.6 636.9h0M65.7 558.9h0M85.2 613.5h0M79.6 603.6h0M91.5 586.9h0M88.0 602.5h0M77.1 628.5h0M80.3 598.5h0M117.0 581.5h0M73.4 589.0h0M108.9 579.1h0M93.8 553.4h0M65.9 597.6h0M110.3 547.3h0M84.9 605.3h0M100.4 559.4h0M48.6 627.8h0M84.0 575.7h0M111.9 570.5h0M88.8 606.8h0M110.3 595.6h0M93.9 525.3h0M111.4 568.5h0M68.5 563.6h0M106.3 547.8h0M114.1 619.3h0M38.4 619.8h0M87.3 600.7h0M114.2 618.3h0M82.6 561.3h0M109.0 544.1h0M68.9 628.7h0M65.5 598.5h0M81.5 588.9h0M128.1 591.3h0M57.2 630.8h0M104.9 589.9h0M99.0 553.2h0M83.7 611.8h0M100.9 582.1h0M98.9 580.6h0M106.4 595.3h0M103.5 609.5h0M33.9 624.8h0M79.6 585.5h0M104.1 578.4h0M77.5 621.7h0M91.9 552.8h0M40.5 623.2h0M109.4 556.1h0M111.4 576.8h0M123.4 596.4h0M82.6 600.0h0M105.9 536.0h0M68.6 566.4h0M87.1 555.5h0M75.4 619.0h0M71.9 586.0h0M100.1 582.0h0M68.6 618.4h0M106.5 622.3h0M96.0 564.5h0M106.2 544.1h0M110.5 546.3h0M73.9 568.9h0M114.8 619.3h0M74.5 586.4h0M113.8 582.6h0M85.3 535.6h0M110.7 613.9h0M100.3 531.2h0M79.2 594.3h0M118.2 584.9h0M99.6 598.9h0M95.3 563.6h0M116.3 582.8h0M69.1 612.4h0M83.6 593.2h0M121.3 522.7h0M83.6 548.3h0M73.3 575.0h0M98.8 611.9h0M99.6 568.1h0M111.7 612.2h0M109.4 562.9h0M96.9 552.5h0M75.8 588.6h0M57.6 614.3h0M68.8 595.1h0M96.6 573.5h0M114.6 610.6h0M75.7 601.7h0M84.0 531.4h0M99.5 535.8h0M38.0 624.2h0M77.8 583.6h0M106.2 538.0h0M72.2 593.4h0M77.5 557.5h0M64.4 536.2h0M81.6 577.9h0M83.3 550.8h0M82.7 572.0h0M52.6 581.8h0M95.7 591.4h0M59.9 617.2h0M109.6 603.3h0M107.1 547.9h0M76.6 636.0h0M104.0 591.2h0M72.0 580.0h0M58.6 611.3h0M82.9 553.9h0M54.9 626.6h0M101.4 574.1h0M106.7 596.1h0M91.0 593.3h0M122.5 578.7h0M115.4 558.7h0M75.6 606.6h0M59.2 569.1h0M91.5 563.0h0M29.6 616.3h0M116.6 604.0h0M90.2 571.1h0M95.6 531.0h0M70.7 562.8h0M104.2 547.6h0M66.1 603.5h0M123.7 604.6h0M85.7 606.2h0M90.4 577.8h0M110.9 584.5h0M70.9 629.2h0M53.7 630.0h0M39.9 607.2h0M107.6 554.2h0M109.2 592.5h0M91.0 552.0h0M66.8 611.5h0M86.7 548.0h0M101.7 532.5h0M58.6 625.6h0M103.0 606.2h0M76.0 599.4h0M57.7 636.4h0M107.0 570.9h0M98.3 558.7h0M99.6 588.3h0M76.9 563.0h0M68.0 585.4h0M81.8 567.0h0M89.9 608.0h0M59.6 627.7h0M81.1 613.0h0M87.7 541.7h0M105.8 555.7h0M77.0 597.2h0" stroke="rgb(45, 174, 127)" stroke-opacity="0.5" stroke-width="2.5" stroke-linecap="round" fill="none"/>
<path d="M100.2 585.0h0M118.7 573.0h0M86.4 546.3h0M123.0 594.7h0M120.3 552.8h0M128.4 538.0h0M122.0 574.4h0M96.8 595.5h0M131.4 579.4h0M122.8 546.8h0M98.4 575.8h0M140.7 567.7h0M85.2 587.1h0M127.1 574.9h0M111.1 580.6h0M116.8 581.8h0M119.5 541.1h0M93.1 585.7h0M71.7 561.4h0M129.2 532.3h0M77.3 632.5h0M81.5 627.8h0M83.4 605.0h0M125.5 565.1h0M79.6 610.5h0M100.6 584.7h0M103.2 531.0h0M86.0 605.5h0M110.5 620.2h0M78.2 602.7h0M115.7 620.7h0M112.4 542.3h0M95.8 596.5h0M72.5 624.8h0M121.1 575.2h0M112.8 548.8h0M126.6 596.7h0M75.7 576.3h0M99.5 594.8h0M70.8 596.1h0M128.6 556.2h0M117.0 581.7h0M63.2 617.2h0M128.7 567.8h0M34.7 621.5h0M109.4 624.5h0M82.8 595.1h0M103.8 536.5h0M78.3 554.4h0M86.7 589.8h0M118.2 532.9h0M96.5 584.2h0M115.8 575.2h0M69.8 632.5h0M121.3 582.8h0M116.8 572.2h0M134.9 585.5h0M119.7 571.8h0M87.6 591.8h0M107.9 615.6h0M78.6 560.6h0M131.9 580.4h0M49.1 622.8h0M71.4 604.6h0M84.2 541.5h0M71.1 627.7h0M116.9 570.7h0M123.1 605.4h0M126.6 578.6h0M83.7 607.3h0M117.8 522.7h0M90.2 548.0h0M116.2 630.2h0M37.0 626.3h0M104.8 612.6h0M118.9 525.7h0M105.6 610.0h0M74.4 588.5h0M113.9 614.2h0M112.6 568.1h0M121.7 548.3h0M108.1 580.2h0M79.7 564.2h0M126.6 586.9h0M131.9 531.2h0M110.0 555.0h0M120.4 541.5h0M76.6 635.8h0M106.4 594.6h0M94.4 591.4h0M113.8 526.6h0M101.2 609.2h0M72.8 594.8h0M109.6 553.2h0M114.1 594.1h0M114.2 530.2h0M86.6 557.4h0M123.5 581.2h0M103.3 596.4h0M93.5 563.9h0M121.4 589.7h0M123.6 579.5h0M102.7 594.8h0M111.9 580.3h0M133.5 575.1h0M89.8 559.5h0M32.3 622.6h0M75.7 619.0h0M54.1 625.0h0M86.5 606.3h0M78.3 598.5h0M106.3 583.1h0M99.3 598.7h0M109.6 549.0h0M122.5 595.8h0M85.6 543.6h0M99.6 580.5h0M119.1 538.0h0M98.6 553.5h0M92.3 587.6h0M99.6 596.7h0M91.6 587.4h0M112.2 597.2h0M109.9 609.9h0M108.9 602.1h0M72.1 627.3h0M120.8 571.4h0M102.2 603.5h0M91.8 602.5h0M127.2 593.7h0M104.3 580.9h0M102.7 563.6h0M134.2 568.6h0M104.3 559.2h0M120.5 540.8h0M108.7 598.8h0M108.3 567.5h0M112.6 592.8h0M117.9 602.2h0M50.2 631.7h0M37.1 628.9h0M90.1 571.9h0M72.3 633.4h0M105.2 602.9h0M107.1 599.7h0M112.0 554.3h0M130.0 587.3h0M121.8 584.8h0M113.7 536.5h0M90.6 573.6h0M132.0 573.6h0M80.0 578.4h0M107.6 613.0h0M77.1 588.1h0M82.6 604.6h0M55.9 635.8h0M74.0 604.6h0M128.0 596.7h0M122.4 539.6h0M113.8 537.6h0M112.8 537.9h0M125.7 529.0h0M118.3 555.4h0M93.7 584.1h0M127.1 579.3h0M98.6 565.6h0M132.5 550.0h0M62.8 624.3h0M118.0 617.6h0M122.2 576.0h0M77.0 582.5h0M119.0 582.2h0M82.8 616.3h0M113.3 542.9h0M112.8 579.4h0M67.1 633.9h0M73.6 633.9h0M116.4 592.3h0M111.2 554.7h0M118.9 600.9h0M101.2 559.4h0M99.2 551.4h0M100.1 535.9h0M114.7 552.1h0M106.0 539.9h0M126.0 560.5h0M78.2 624.8h0M96.9 597.3h0M102.4 579.8h0M46.7 620.0h0M118.0 599.1h0M101.0 565.5h0M99.7 606.2h0M108.8 563.6h0M101.0 568.1h0M76.7 637.2h0M117.0 559.9h0M79.7 611.6h0M128.6 573.1h0M117.3 532.7h0M128.0 527.3h0M72.1 560.0h0M83.5 605.6h0M111.3 545.1h0M128.6 545.9h0M106.3 562.3h0M97.7 567.3h0M93.7 558.9h0M98.8 569.1h0M136.7 584.6h0M107.6 606.3h0M109.6 539.7h0M84.7 565.6h0M67.4 631.4h0M121.2 564.3h0M115.2 572.7h0" stroke="rgb(74, 191, 109)" stroke-opacity="0.5" stroke-width="2.5" stroke-linecap="round" fill="none"/>
<path d="M92.0 568.6h0M109.0 567.2h0M85.5 572.0h0M124.5 557.7h0M135.1 572.6h0M91.9 607.8h0M123.4 579.7h0M71.2 630.8h0M118.3 541.4h0M93.7 597.7h0M118.9 548.2h0M127.4 572.3h0M105.2 534.0h0M79.2 615.2h0M118.7 537.9h0M122.4 596.0h0M106.9 561.8h0M114.6 605.6h0M113.9 596.8h0M90.4 603.2h0M107.8 554.2h0M33.2 621.7h0M125.4 545.3h0M125.8 532.2h0M142.3 568.9h0M127.8 538.6h0M84.0 596.3h0M120.6 602.4h0M123.4 574.7h0M32.5 620.8h0M106.3 603.6h0M108.7 595.3h0M135.6 560.5h0M111.6 599.3h0M56.4 635.9h0M76.3 614.9h0M67.2 581.7h0M108.3 611.0h0M51.1 633.9h0M121.3 588.7h0M107.4 572.6h0M125.8 522.7h0M131.4 570.1h0M111.3 554.4h0M120.8 538.4h0M130.2 551.5h0M120.3 558.6h0M126.0 574.2h0M134.9 583.9h0M101.1 549.3h0M75.1 633.4h0M115.0 574.2h0M120.3 580.7h0M123.9 596.9h0M99.6 603.4h0M103.6 566.2h0M137.8 570.0h0M49.6 629.1h0M122.0 598.3h0M74.1 626.5h0M117.9 572.4h0M91.1 557.1h0M118.8 557.8h0M99.7 565.5h0M109.5 611.6h0M94.5 580.2h0M111.3 553.2h0M114.2 588.9h0M122.2 541.6h0M109.8 619.4h0M112.5 563.4h0M104.9 605.1h0M52.6 560.6h0M138.0 572.6h0M133.4 566.4h0M121.1 560.7h0M85.4 607.8h0M100.5 596.4h0M109.4 588.7h0M117.3 532.2h0M116.4 553.0h0M107.8 595.3h0M129.3 544.9h0M131.4 531.7h0M104.2 546.9h0M80.1 617.7h0M115.1 607.2h0M72.6 628.8h0M115.1 543.8h0M99.8 555.2h0M110.4 619.4h0M141.7 572.2h0M82.5 629.2h0M92.5 598.0h0M131.1 565.9h0M119.3 570.0h0M137.4 551.0h0M94.6 569.0h0M135.0 556.2h0M121.8 526.7h0M81.8 552.5h0M94.9 595.5h0M117.0 568.5h0M106.0 583.7h0M58.8 629.7h0M106.6 586.7h0M54.6 630.9h0M94.7 603.2h0M113.6 620.1h0M120.2 565.6h0M129.3 578.8h0M117.7 558.4h0M110.6 535.4h0M119.6 536.2h0M125.6 587.9h0M95.1 605.1h0M123.2 580.1h0M129.8 528.0h0M103.6 600.9h0M133.8 580.5h0M117.6 527.7h0M90.1 554.8h0M124.6 569.3h0M127.2 567.4h0M114.0 550.1h0M129.1 543.7h0M113.9 562.0h0M112.6 602.9h0M99.4 584.7h0M113.6 578.3h0M140.4 578.3h0M131.9 584.7h0M102.7 595.1h0M98.9 611.6h0M129.5 549.0h0M69.2 614.2h0M124.1 534.4h0M127.2 571.5h0M103.6 615.0h0M125.0 555.1h0M126.9 587.6h0M129.6 587.5h0M83.1 585.2h0M118.1 619.1h0M108.0 582.1h0M113.0 535.2h0M123.9 547.9h0M126.7 544.3h0M129.1 572.2h0M68.0 608.7h0M111.1 561.9h0M125.0 572.3h0M96.4 609.0h0M117.5 616.6h0M103.6 612.6h0M117.1 567.6h0M116.8 630.0h0M104.9 562.9h0M105.5 552.9h0M110.0 614.5h0M119.5 546.0h0M98.9 564.1h0M136.9 557.9h0M126.7 592.3h0M51.9 636.1h0M127.6 587.2h0M94.5 553.8h0M126.3 541.1h0M124.6 567.0h0M117.7 541.1h0M71.4 628.3h0M135.3 580.3h0M95.5 595.7h0M114.1 602.6h0M110.3 567.3h0M73.9 587.1h0M118.8 580.3h0M104.6 585.2h0M113.0 556.5h0M119.0 541.7h0M130.5 590.1h0M112.0 560.9h0M136.9 540.4h0M83.0 571.4h0M89.7 573.0h0M87.7 587.2h0M113.0 542.8h0M70.9 584.4h0M123.8 568.6h0M113.1 605.1h0M119.8 584.2h0M118.4 603.8h0M136.1 578.8h0M116.8 620.1h0M114.9 570.9h0M92.7 607.9h0M121.7 538.1h0M119.3 562.1h0M122.5 576.6h0M119.3 582.0h0M137.9 565.3h0M130.8 543.7h0M115.6 546.2h0M124.0 582.6h0M137.8 575.7h0M116.3 544.7h0M119.0 536.4h0M114.4 549.2h0M122.2 580.8h0M110.0 540.2h0M113.4 582.1h0M116.9 584.3h0M117.6 523.6h0M132.7 583.4h0M94.0 584.0h0M131.3 550.4h0M48.2 630.4h0M124.3 571.7h0M120.0 564.0h0M124.1 543.1h0" stroke="rgb(118, 207, 83)" stroke-opacity="0.5" stroke-width="2.5" stroke-linecap="round" fill="none"/>
<path d="M132.6 575.0h0M129.1 541.7h0M128.0 526.6h0M77.8 637.0h0M122.1 534.7h0M102.9 568.4h0M122.6 558.5h0M134.5 570.4h0M115.1 531.8h0M138.8 558.6h0M131.0 557.1h0M138.1 568.5h0M126.4 587.3h0M118.5 538.6h0M107.9 586.4h0M114.5 570.7h0M121.5 556.6h0M114.3 625.0h0M137.3 573.2h0M85.4 586.2h0M116.2 552.2h0M128.3 593.8h0M109.8 577.5h0M101.9 609.0h0M114.0 542.3h0M130.9 583.8h0M127.6 559.4h0M101.4 600.3h0M133.9 576.9h0M119.9 584.2h0M124.7 522.6h0M129.1 528.8h0M140.5 555.8h0M109.9 579.7h0M113.6 526.9h0M131.5 561.6h0M117.2 575.7h0M118.7 604.4h0M130.4 586.3h0M136.8 542.6h0M130.5 570.1h0M127.7 589.1h0M134.5 565.4h0M135.3 543.0h0M99.6 592.0h0M117.8 598.4h0M135.9 561.6h0M118.6 536.9h0M142.0 567.8h0M136.3 542.8h0M112.7 544.7h0M105.9 568.1h0M113.8 544.3h0M119.9 566.6h0M115.2 595.7h0M132.2 576.7h0M135.9 574.5h0M132.3 544.9h0M131.6 545.1h0M104.1 592.4h0M102.2 570.1h0M117.1 533.9h0M136.3 552.2h0M123.4 604.7h0M110.9 576.6h0M131.7 567.4h0M129.2 538.9h0M122.7 537.2h0M56.6 635.6h0M121.7 544.9h0M79.5 635.6h0M126.6 584.0h0M135.5 568.3h0M109.1 568.1h0M114.9 618.9h0M120.8 605.6h0M125.6 581.2h0M57.5 633.6h0M68.9 634.3h0M100.3 580.7h0M100.6 605.3h0M110.1 554.1h0M133.8 547.5h0M118.7 554.7h0M134.6 554.3h0M82.5 625.8h0M116.9 613.3h0M121.7 559.2h0M127.7 534.1h0M117.4 543.2h0M125.6 530.6h0M127.8 553.1h0M113.9 531.2h0M133.4 586.9h0M130.5 548.5h0M112.8 589.9h0M105.9 580.0h0M113.0 628.3h0M124.7 521.3h0M133.1 582.5h0M53.6 631.8h0M123.9 523.5h0M119.0 558.1h0M92.7 572.9h0M117.0 591.1h0M77.0 634.8h0M124.9 587.9h0M96.9 573.1h0M140.7 560.5h0M99.5 563.8h0M120.7 539.3h0M117.2 579.7h0M126.3 539.9h0M35.6 620.6h0M128.9 554.9h0M75.7 618.8h0M76.9 617.8h0M139.3 566.5h0M124.5 545.1h0M105.9 599.1h0M116.8 546.2h0M123.1 571.1h0M135.0 572.9h0M118.9 552.7h0M122.6 601.7h0M129.6 528.9h0M132.9 588.5h0M76.6 624.4h0M128.2 547.1h0M120.5 565.7h0M135.5 560.1h0M78.6 626.8h0M103.0 573.1h0M108.5 596.9h0M109.7 532.9h0M98.8 596.5h0M131.1 539.9h0M110.0 553.4h0M122.4 541.6h0M132.9 536.7h0M113.9 626.5h0M121.5 548.3h0" stroke="rgb(171, 220, 50)" stroke-opacity="0.5" stroke-width="2.5" stroke-linecap="round" fill="none"/>
<path d="M111.1 559.9h0M131.5 543.0h0M124.2 538.4h0M106.8 621.2h0M122.0 555.6h0M101.4 575.4h0M102.2 611.8h0M126.7 529.9h0M139.7 548.8h0M135.2 559.4h0M124.5 549.7h0M127.1 545.7h0M115.3 583.6h0M130.0 552.9h0M141.8 569.0h0M97.5 607.5h0M113.1 553.7h0M129.5 591.0h0M114.1 607.6h0M122.3 552.5h0M132.1 557.9h0M121.4 539.8h0M141.0 568.1h0M119.7 587.1h0M53.8 634.0h0M110.9 589.1h0M90.5 577.1h0M128.3 526.4h0M116.4 540.9h0M138.5 549.6h0M93.1 558.0h0M134.8 563.0h0M111.1 532.3h0M130.5 558.4h0M142.4 571.9h0M136.0 584.5h0M113.0 613.8h0M139.7 554.9h0M124.3 599.6h0M59.5 630.8h0M134.9 550.2h0M118.1 529.8h0M109.2 623.3h0M129.6 527.1h0M117.2 622.6h0M126.7 528.2h0M124.7 588.0h0M141.3 558.3h0M138.8 552.1h0M74.5 635.6h0M108.4 615.1h0M123.0 587.7h0M107.3 600.2h0M108.9 618.1h0M140.0 548.1h0M132.3 562.8h0M118.7 614.3h0M110.6 560.9h0M125.1 536.5h0M118.2 591.3h0M123.2 534.6h0M141.5 553.1h0M125.6 546.5h0M128.4 540.2h0M141.7 551.1h0M111.9 529.7h0M115.7 556.7h0M137.2 568.3h0M131.0 576.7h0M139.7 557.8h0M116.5 525.3h0M135.6 537.1h0M118.6 611.6h0M134.7 579.5h0M128.6 587.8h0M136.1 562.2h0M122.3 543.9h0M117.1 599.0h0M121.0 551.6h0M114.1 620.3h0M120.1 544.9h0M122.0 563.6h0M139.7 543.6h0M121.0 540.5h0M137.4 549.1h0M122.9 585.7h0M120.1 554.5h0M136.7 544.7h0M119.1 584.5h0M134.2 540.0h0M110.5 592.7h0M125.7 545.5h0M125.9 549.3h0M86.9 598.7h0M119.3 524.6h0M133.0 584.4h0M116.6 566.1h0M119.6 531.2h0M121.6 526.0h0M121.2 551.9h0M132.5 589.0h0M126.8 536.9h0M123.0 551.4h0M111.4 616.3h0M114.3 541.4h0M136.1 544.9h0M122.3 581.5h0M129.4 546.3h0M131.2 564.6h0M139.5 543.8h0M134.2 551.9h0M114.9 544.1h0M131.4 554.9h0M127.3 545.4h0M126.4 528.9h0M116.0 581.7h0M100.8 613.9h0M138.8 557.3h0M141.7 576.9h0M124.9 542.2h0M135.1 550.7h0M124.1 531.4h0M117.1 536.6h0M134.9 577.3h0M123.6 578.9h0M124.5 550.1h0M141.5 574.0h0M130.5 548.2h0M133.9 551.9h0M137.3 571.1h0M54.9 629.0h0M137.1 551.7h0M124.6 533.1h0M118.6 592.2h0M127.5 532.4h0M132.2 560.9h0M118.7 557.0h0M133.5 560.3h0M131.3 569.2h0M129.5 549.4h0M115.3 545.3h0M135.4 586.0h0M118.8 543.6h0M133.8 586.6h0M123.4 572.3h0M74.1 630.6h0M119.4 520.5h0M126.4 549.9h0M117.6 533.1h0M110.8 626.5h0M117.6 534.5h0M122.2 577.1h0M133.0 559.2h0M114.6 579.0h0M130.7 561.5h0M134.1 562.1h0M125.6 560.5h0M123.7 579.3h0M130.4 553.8h0M137.7 578.6h0M138.5 580.6h0M121.9 541.9h0M123.8 530.1h0M122.6 548.4h0M113.8 567.8h0M138.4 560.7h0M120.1 531.3h0M135.5 579.0h0M121.0 563.7h0M128.6 589.7h0M138.1 554.0h0M131.2 576.0h0M140.4 566.1h0M120.2 584.0h0M112.7 564.9h0M112.9 606.4h0M122.6 519.9h0M106.9 604.2h0M97.5 591.1h0M135.6 570.0h0M134.0 546.5h0M120.5 561.2h0M125.6 551.0h0M125.4 564.5h0M137.5 544.8h0M125.0 553.6h0M79.3 629.4h0M131.9 559.8h0M128.6 549.8h0M128.9 546.9h0M140.0 549.7h0M115.6 525.9h0M101.0 559.1h0M141.6 554.5h0M126.0 554.5h0M128.1 568.0h0M117.5 530.7h0M118.1 563.9h0M131.6 589.9h0M110.3 583.2h0" stroke="rgb(226, 228, 40)" stroke-opacity="0.5" stroke-width="2.5" stroke-linecap="round" fill="none"/>
<path d="M94.4 561.7L97.3 562.7L100.4 564.5L102.6 566.4L106.8 570.8L109.7 572.9L113.0 574.2L121.3 575.9M90.8 601.7L95.7 606.9L97.6 609.3L99.3 612.4L100.9 616.9M107.0 535.4L111.4 533.6L123.3 527.9L126.7 526.8L131.4 525.7M26.8 563.6L27.0 563.1L26.9 563.7L27.0 563.1L28.3 559.1L30.0 555.9L32.0 553.7L36.8 550.0L38.9 548.0L40.8 545.6L43.6 541.0M85.1 559.0L89.3 558.7L92.3 558.8L95.2 559.4L98.6 560.5L101.3 561.8L103.3 563.1L109.8 568.5L112.8 570.5M116.9 582.2L118.4 583.2L120.2 584.9L124.1 590.9L126.0 593.2L128.3 595.1L131.5 596.9M46.3 583.0L48.4 585.1L53.6 589.2L55.3 591.0L56.3 592.4L57.3 593.9L58.2 596.1L59.9 601.9L60.7 604.2L61.8 606.3L63.2 608.3M51.0 611.6L54.9 617.7L56.9 621.4L58.8 626.4L61.7 635.6M72.7 561.6L76.7 562.7L80.2 563.5L89.8 564.4L93.3 565.2L95.5 566.1L97.5 567.4L99.4 568.9L101.5 571.1M68.4 618.0L68.8 620.3L69.5 626.3L70.5 629.7L71.9 632.4L75.7 637.0L77.0 639.0M88.0 542.5L91.4 543.7L98.5 546.9L101.3 547.8L104.9 548.4L113.3 549.1L118.0 550.0M70.4 616.3L71.0 619.2L71.6 625.2L72.0 626.9L72.7 628.6L74.3 631.1L79.2 636.4L81.0 639.5M62.0 562.1L64.4 562.2L66.8 562.6L72.0 564.1L75.3 565.6L83.8 570.0L90.9 573.3M50.2 553.8L55.0 553.2L58.5 553.5L62.0 554.5L69.8 557.7L73.2 558.9L76.7 559.6L80.3 559.9M76.3 541.8L82.5 539.4L84.8 538.9L87.2 538.6L90.8 538.6L97.3 539.5L100.3 539.7L103.3 539.7L106.9 539.3M35.1 553.7L40.1 551.9L42.8 550.6L45.7 548.4L50.9 543.4L53.7 541.1L57.3 539.1L61.3 537.8M108.2 538.5L113.0 537.8L116.6 537.8L120.1 538.3L126.4 540.2L129.4 540.9L133.0 541.1L138.4 540.9M95.4 579.4L100.8 583.1L108.4 586.8L110.9 588.4L113.1 590.5L117.1 595.0L120.0 597.9M40.7 563.3L46.8 566.0L50.8 567.2L54.3 567.9L61.5 568.5L64.4 569.2L67.1 570.5L68.6 571.6L69.8 572.9M60.4 542.0L65.7 540.8L69.1 539.7L72.4 538.3L83.1 532.9L86.5 531.6L89.4 530.9M61.2 582.1L63.9 585.2L66.5 587.8L73.4 593.6L80.3 600.2L84.1 603.1M79.7 569.3L84.3 572.1L92.9 576.3L101.4 581.9L107.0 584.3M106.1 601.1L113.3 604.1L116.0 605.4L118.5 607.1L121.1 609.6M63.6 589.2L65.8 592.0L67.5 594.5L72.5 604.1L78.4 611.7L80.6 615.2M28.5 563.3L34.3 564.8L39.3 566.8L43.9 569.7L48.9 573.9M112.3 541.0L116.3 542.0L124.0 545.5L128.0 546.7L130.4 546.9L132.8 546.9L142.3 545.9M114.9 536.6L117.9 536.4L120.3 536.5L128.0 537.8L131.0 538.0L134.5 537.9L138.7 537.3M119.5 550.0L127.6 552.4L132.2 553.4L135.8 553.9L144.8 554.3M43.3 598.9L44.3 602.3L45.4 610.1L47.5 618.2L48.3 626.0L49.1 629.4M67.7 585.9L70.6 588.0L76.3 591.2L78.8 593.0L80.9 595.1L86.1 600.9L91.6 605.6M24.7 615.9L26.5 621.6L27.2 624.6L27.4 627.6L26.9 632.3M69.5 582.6L70.9 583.7L73.0 584.9L80.3 587.6L81.9 588.4L83.4 589.4L84.7 590.6L86.2 592.5L89.1 597.8L90.7 600.3M82.6 585.9L84.3 586.7L85.8 587.7L87.9 589.8L89.2 591.8L91.8 597.2L93.3 599.8L99.3 607.3L101.2 610.3M70.2 607.4L72.6 611.6L73.8 614.4L74.6 617.3L75.5 623.2L76.5 626.0L78.3 628.4L82.3 632.0M71.8 552.0L75.9 552.7L83.7 553.1L87.9 553.7L92.5 554.9L102.2 558.1M48.4 568.5L52.3 570.1L58.6 572.2L61.8 573.8L64.5 576.1L68.6 581.3M81.5 582.5L84.4 583.3L86.6 584.3L88.2 585.2L90.0 586.7L92.3 589.4L96.0 595.6L97.8 598.1L100.2 600.7L103.5 603.3M109.0 561.8L119.0 565.9L123.3 567.9L127.0 569.9L134.1 574.5L136.7 575.9M90.4 551.8L98.2 555.0L103.9 556.6L108.7 557.1L117.1 556.9L120.7 557.4M77.0 599.7L79.2 601.7L81.1 603.1L88.4 607.3L90.9 609.0M71.4 598.3L74.1 602.2L76.5 604.9L78.7 606.9L85.9 612.4M106.0 542.8L110.2 543.2L113.1 543.8L116.0 544.8L123.1 547.9L127.1 549.0L131.3 549.5L136.1 549.1M57.3 569.4L62.0 570.4L63.7 571.1L65.2 572.0L67.5 573.9L71.6 579.1L72.9 580.4L74.4 581.4L77.1 582.6L83.5 584.4M40.9 582.3L42.0 585.1L43.3 587.1L45.0 588.8L49.6 592.6L52.0 595.3L53.5 597.9L56.3 603.9L58.7 607.3M122.6 576.2L124.8 577.2L126.8 578.5L133.1 584.0L137.0 586.8M96.6 585.4L101.7 589.7L105.9 593.0L109.4 595.4L118.1 600.8L121.8 603.8M105.8 562.8L111.2 566.6L113.7 568.2L116.5 569.4L122.7 571.5L125.5 572.6L128.7 574.3L133.2 577.2M95.6 598.5L97.4 600.8L102.3 606.1L104.6 608.9L106.0 611.5L108.4 617.0L110.0 619.6L111.6 621.3L114.1 623.0M55.9 566.4L60.7 566.3L63.7 566.5L66.1 567.0L68.3 567.8L69.9 568.6L71.8 570.1L76.3 574.9L78.2 576.4L80.2 577.7L83.0 578.7M63.9 547.5L71.0 548.4L78.8 548.4L81.8 548.6L85.3 549.4L89.2 550.9M55.8 607.7L62.1 614.0L63.6 615.9L64.5 617.5L65.7 620.8L66.7 627.4L67.2 629.7L68.0 632.0L69.3 634.7M78.6 528.8L87.9 526.6L92.1 526.1L95.7 526.2L103.3 527.7L106.9 527.7M28.0 564.4L30.2 566.4L36.2 570.4L37.6 571.6L38.7 573.0L40.2 575.6L42.0 581.9L43.3 584.6M38.9 587.2L40.6 590.4L44.8 595.5L46.4 598.0L50.0 605.6L51.5 608.2L53.2 610.6L55.6 613.3M71.2 604.6L76.5 613.2L77.7 616.0L79.2 621.2L80.2 623.4L81.6 625.3L83.3 627.0M116.5 577.4L120.5 578.5L122.2 579.2L123.7 580.2L125.9 582.2L130.6 587.6L132.5 589.1L134.5 590.4M43.5 560.9L47.5 562.2L51.0 562.7L54.0 562.8L60.6 562.2M95.5 576.2L99.8 579.4L102.4 580.9L105.2 582.1L111.4 584.1L114.1 585.5L115.5 586.7L116.6 588.0L120.3 593.5M113.0 593.4L122.9 602.2L124.9 604.5L126.2 606.4M41.5 606.7L41.5 610.9L42.7 619.2L42.7 621.6L42.3 624.0M104.4 606.5L107.0 609.8L110.6 616.0L112.3 618.5L114.6 620.4L118.7 622.9M74.0 545.4L80.5 544.2L82.9 544.2L85.3 544.5L87.0 544.9L89.2 545.8L95.5 549.4L98.2 550.7L101.0 551.6L103.4 552.1M109.1 578.2L116.7 579.6L119.0 580.4L120.6 581.3L122.0 582.5L123.2 583.8L126.7 588.7L128.2 590.5L130.1 592.0L132.7 593.5M26.7 565.1L27.0 566.9L27.7 568.6L31.3 574.1L32.1 575.7L32.6 577.4L32.8 580.4L32.0 588.2L32.2 592.3M49.6 611.8L52.4 617.1L53.8 620.4L59.1 633.8L59.9 636.7L60.4 639.1M60.2 564.2L63.2 564.1L65.6 564.3L67.9 564.8L70.8 565.8L74.4 567.8L80.1 572.3L82.0 573.7L84.2 574.8L88.0 576.4M115.0 555.1L118.0 555.1L121.0 555.6L123.8 556.5L126.0 557.5L128.0 558.8L129.9 560.3L136.6 567.2L139.0 568.9L141.2 569.9M105.1 602.3L112.0 605.9L114.6 607.5L117.4 609.7L120.8 613.1M30.8 568.7L34.8 572.3L35.9 573.7L36.7 575.3L37.5 578.2L37.8 583.6L38.2 586.0M25.6 562.9L20.6 564.8M34.5 603.3L33.8 607.4L33.9 610.4L34.4 612.7L36.2 618.5L36.7 622.0L36.2 625.6L34.6 631.4L34.2 633.7M47.0 625.5L47.4 628.5L48.1 630.8L52.3 638.0L53.2 640.3L53.7 642.0M114.9 560.0L119.6 561.0L123.0 562.3L126.0 564.3L131.9 569.4L134.8 571.5L138.0 573.2L142.0 574.5M41.0 550.3L42.5 549.3L44.3 547.6L49.9 540.6L51.6 538.9L53.4 537.4L55.9 535.7L58.1 534.7L61.0 533.9L63.9 533.4M32.1 593.5L32.2 598.3L31.2 605.4L31.1 609.0L31.8 612.6L34.4 619.3L34.7 621.1L34.9 622.8M67.9 584.2L70.8 586.3L77.9 589.6L80.9 591.6L83.0 593.7L87.6 600.0L91.3 603.9M69.0 558.8L74.1 560.5L78.8 561.4L82.4 561.5L89.6 561.1L93.2 561.3M47.9 613.6L49.6 618.7L51.4 626.9L52.5 629.7L56.0 636.7L56.9 639.5L57.2 641.9M84.9 566.3L90.1 567.6L93.5 569.0L96.4 571.0L101.4 575.4L103.3 576.8L105.4 577.9L108.2 578.9M117.8 553.1L120.1 553.5L123.0 554.3L125.8 555.3L128.6 556.6L132.6 559.2L139.3 565.2L141.9 566.7L144.1 567.5M45.1 572.2L50.4 578.0L56.7 583.6L59.6 586.6L63.4 591.2L65.7 595.4M29.5 559.5L30.9 558.4L32.5 557.6L34.3 557.1L36.1 556.9L39.1 557.2L46.1 558.7L49.0 559.2L52.0 559.3L59.8 559.0M65.0 533.0L70.4 532.7L73.9 532.2L78.0 531.3L83.7 529.5M89.5 534.7L92.5 534.5L99.7 534.7L102.1 534.4L104.5 534.0L107.3 533.1L110.1 531.9L119.1 527.1M104.7 604.0L110.4 608.3L116.7 614.7L119.9 617.5M38.5 595.3L39.3 598.2L39.6 600.6L39.4 603.0L38.7 607.7L38.7 610.7L39.9 617.8L40.1 620.2L39.9 623.2L39.3 626.1M113.3 586.6L115.5 588.7L119.0 593.5L120.9 595.9L126.8 601.8L128.8 604.0M52.8 546.9L55.5 545.8L57.9 545.2L66.2 544.2L69.1 543.7L72.0 542.8L75.3 541.4M36.3 567.7L39.4 569.5L41.6 571.5L43.6 573.8L46.7 578.9L48.1 580.8L50.3 582.9L55.3 587.2L57.8 589.8M56.8 614.0L59.8 617.7L61.5 620.9L62.4 623.7L64.2 631.3L65.7 635.9M63.2 609.6L66.2 613.4L67.8 616.6M49.8 573.3L56.6 578.3L60.1 581.6M36.4 554.4L44.0 553.0L52.0 550.2L54.9 549.5L56.7 549.3L59.1 549.4L63.1 550.4M115.3 584.5L116.7 585.6L117.9 586.9L121.5 592.5L123.4 594.8L126.0 597.3L129.7 600.3M90.5 530.3L94.0 530.1L100.6 530.7L103.6 530.7L107.7 529.9L112.2 528.3M93.6 581.0L99.9 585.6L107.4 590.6L114.4 596.2M77.6 525.9L81.7 525.5L89.9 523.7L93.5 523.3L95.3 523.3L97.7 523.6L104.7 525.3M34.4 578.7L34.1 587.7L34.3 590.0L35.6 597.1L35.7 599.5L35.3 601.9M93.7 550.3L98.6 552.6L100.9 553.3L103.2 553.8L106.8 554.0L113.4 553.4L116.4 553.4M108.7 527.9L113.3 526.5L123.8 521.9L128.4 520.8M104.5 618.9L105.8 621.6L107.2 623.5L109.5 625.5L113.5 628.1L115.3 629.7L116.9 631.5L118.1 634.2M63.3 551.5L70.5 554.6L75.1 555.9L78.7 556.2L85.9 555.9L89.5 556.1M90.9 556.1L94.4 556.9L98.4 558.1L102.9 559.9L107.8 562.1M29.6 593.4L29.7 598.2L29.0 605.4L29.0 608.4L29.6 611.9L30.9 615.3M41.4 589.3L46.4 594.6L48.3 596.9L49.5 598.9L52.6 604.7L54.3 607.2M58.5 590.8L59.8 592.8L60.8 595.0L61.5 597.3L62.7 602.5L63.7 605.3L64.8 607.4L68.1 612.5L69.4 615.2M137.6 549.0L141.1 548.4L144.1 548.3M51.3 571.5L57.2 574.4L60.2 576.4L62.3 578.5L66.6 583.6M41.1 548.4L43.0 546.2L48.1 538.7L50.1 536.5L52.3 534.5M42.1 594.1L43.8 596.6L45.1 599.2L47.7 607.2L49.1 610.6M63.4 593.4L64.8 596.7L66.3 602.5L67.1 604.8L68.1 606.9L71.0 612.2L72.0 614.4M28.7 562.1L31.6 561.3L33.9 561.3L36.9 561.8L39.7 562.8M80.6 616.7L82.3 620.5L83.6 622.5M106.4 615.9L107.9 619.2L108.9 620.7L110.1 622.0L112.0 623.5L116.6 626.3L118.5 627.7M41.4 555.8L46.8 556.2L54.6 555.8L58.2 555.9L62.3 556.8L67.4 558.5M116.6 539.7L119.4 540.6L125.5 543.1L129.0 544.0L132.6 544.3L142.2 543.7M83.6 580.0L88.2 581.5L91.8 583.6L95.0 586.4L100.4 592.0M123.5 574.1L125.7 575.0L127.8 576.2L134.6 581.0L139.7 584.1M62.7 537.0L71.5 535.2L79.4 532.3M102.9 571.5L105.6 573.9L108.1 575.4L111.0 576.4L115.1 577.1M26.5 607.7L26.8 610.7L27.3 613.0L30.3 620.2L30.9 622.5L31.2 625.5L30.8 628.5M84.5 540.7L86.9 540.6L89.9 541.0L100.3 544.0L110.4 545.4L115.0 546.6M73.6 603.5L75.9 606.2L82.3 612.6L85.2 616.4M109.6 536.1L115.9 534.1L120.0 533.0L124.1 532.3L130.7 531.4L134.2 530.6M25.6 565.5L25.3 567.3L25.4 569.7L27.2 576.0L27.7 578.4M92.1 585.2L94.6 587.7L99.5 593.8L102.6 596.6L104.6 598.0L106.7 599.1L116.1 603.0M71.1 573.7L74.2 577.4L76.5 579.3L79.2 580.5L85.0 582.1M91.5 606.9L94.2 609.3L96.4 612.2M39.1 627.6L38.3 631.7L38.3 634.7M137.6 576.7L143.8 578.9M101.7 611.3L103.7 617.6M120.8 551.9L125.4 553.3L131.0 555.3L143.2 560.5M80.1 566.4L88.5 569.5L91.8 571.0L94.8 572.9L102.0 578.3L104.6 579.7L107.5 580.6M91.6 545.8L97.3 549.0L99.6 549.9L101.9 550.5L105.5 550.9L114.5 550.9L119.2 551.6M103.2 557.8L107.9 558.9L113.9 559.6M35.6 576.7L36.0 579.1L35.9 585.1L36.1 587.4L36.9 590.3L38.5 594.2M67.0 529.6L73.6 529.7L77.2 529.4M26.5 560.4L25.5 557.0L24.4 554.8M76.2 572.1L78.8 574.6L81.3 576.2L89.2 579.2L92.4 580.8M105.4 606.0L108.7 609.4L114.1 616.6L116.3 618.6L119.3 620.6M113.9 571.3L116.2 572.1L122.0 573.5M125.8 550.6L129.4 551.4L132.9 551.7L135.3 551.6L141.3 550.9L144.3 550.8M120.6 526.6L125.6 524.5L130.3 523.4M130.0 563.1L134.2 567.5L137.0 569.7L138.5 570.6L140.8 571.5L144.9 572.4M66.8 543.1L69.7 542.3L72.4 541.2L83.1 535.6L85.9 534.6L88.2 534.0M31.4 617.7L32.6 621.0L32.9 622.8L33.0 624.6L32.7 627.0L31.0 634.6M116.5 535.4L121.3 535.0L130.9 535.2L133.9 534.9L136.8 534.2M134.1 578.1L141.6 581.9M64.2 549.6L70.4 551.7M116.3 522.1L123.0 519.5L126.5 518.6M131.0 556.5L134.2 558.2L140.7 562.6L143.3 564.0M88.0 537.1L91.6 537.0L100.0 537.4L102.9 537.1L105.9 536.4M45.9 586.4L51.5 590.9L54.0 593.6L55.7 596.7L58.5 604.0L60.1 606.5L61.9 608.9M73.8 599.8L76.2 602.5L78.5 604.5L80.9 606.2L88.1 610.6M31.0 559.8L33.3 559.2L35.7 559.1L38.6 559.7L42.0 560.9M61.0 559.3L65.7 560.0L71.5 561.7M121.3 558.4L123.0 559.0L125.1 560.2L127.1 561.6L128.8 563.2M109.1 598.5L114.6 600.9L118.3 603.0L121.1 605.2L123.5 607.9M26.5 569.0L27.1 570.7L29.2 575.0L29.8 576.7L30.1 579.7L29.9 582.7M24.9 564.3L23.2 566.8L21.8 569.5M72.9 619.0L73.5 624.4L74.0 626.1L74.8 627.8L76.6 630.2L80.1 633.4L81.7 635.2M25.4 561.7L21.4 560.3M109.0 580.5L113.1 581.4L115.4 582.1M31.2 553.0L35.8 547.5L39.7 541.4M38.7 560.9L46.0 563.7L49.4 564.7L53.6 565.2L59.0 565.0M45.2 550.2L53.5 544.3L56.2 543.0L59.0 542.0" stroke="#222" stroke-opacity="0.75" stroke-width="0.8" fill="none"/></g>
</defs>
<text x="-0.30" y="8.20" font-size="15.5" fill="#000" font-weight="bold" stroke="#000" stroke-width="0.6">a</text>
<text x="0.00" y="155.80" font-size="15.5" fill="#000" font-weight="bold" stroke="#000" stroke-width="0.6">b</text>
<text x="537.80" y="156.00" font-size="15.5" fill="#000" font-weight="bold" stroke="#000" stroke-width="0.6">c</text>
<text x="0.40" y="339.80" font-size="15.5" fill="#000" font-weight="bold" stroke="#000" stroke-width="0.6">d</text>
<text x="0.00" y="513.60" font-size="15.5" fill="#000" font-weight="bold" stroke="#000" stroke-width="0.6">e</text>
<text x="181.00" y="513.30" font-size="15.5" fill="#000" font-weight="bold" stroke="#000" stroke-width="0.6">f</text>
<text x="376.60" y="513.50" font-size="15.5" fill="#000" font-weight="bold" stroke="#000" stroke-width="0.6">g</text>
<path d="M32.61,66.83 C31.12,68.21 27.88,69.15 25.75,68.94 C23.62,68.73 21.24,67.10 19.84,65.56 C18.43,64.03 17.23,61.64 17.32,59.71 C17.41,57.78 18.78,55.32 20.37,53.97 C21.95,52.62 24.68,51.55 26.84,51.61 C29.00,51.68 32.02,52.85 33.34,54.36 C34.65,55.87 34.82,58.58 34.70,60.66 C34.58,62.74 34.11,65.45 32.61,66.83Z" fill="url(#gcell)"/>
<circle cx="26.30" cy="60.20" r="3.1" fill="url(#nuc)"/>
<path d="M66.97,57.42 C67.45,59.29 66.17,62.01 65.01,63.68 C63.85,65.35 62.00,66.78 60.02,67.44 C58.03,68.10 54.99,68.50 53.10,67.64 C51.22,66.79 49.30,64.29 48.72,62.30 C48.14,60.32 48.52,57.42 49.61,55.72 C50.71,54.01 53.21,52.62 55.30,52.07 C57.38,51.53 60.19,51.54 62.14,52.43 C64.08,53.32 66.49,55.54 66.97,57.42Z" fill="url(#gcell)"/>
<circle cx="57.70" cy="59.90" r="3.1" fill="url(#nuc)"/>
<path d="M83.89,82.03 C81.84,82.20 79.10,81.14 77.46,79.84 C75.83,78.55 74.28,76.22 74.08,74.25 C73.87,72.28 74.82,69.43 76.23,68.02 C77.65,66.61 80.50,65.86 82.56,65.81 C84.62,65.76 86.92,66.53 88.60,67.72 C90.29,68.91 92.46,71.07 92.66,72.92 C92.85,74.78 91.23,77.34 89.77,78.86 C88.31,80.38 85.94,81.87 83.89,82.03Z" fill="url(#gcell)"/>
<circle cx="83.20" cy="73.60" r="3.1" fill="url(#nuc)"/>
<path d="M18.94,100.64 C16.80,100.75 14.05,100.32 12.52,99.13 C10.98,97.94 9.85,95.39 9.73,93.50 C9.61,91.61 10.50,89.27 11.78,87.78 C13.06,86.29 15.32,84.87 17.42,84.56 C19.52,84.26 22.67,84.69 24.36,85.93 C26.06,87.17 27.42,89.94 27.60,92.02 C27.77,94.10 26.84,96.99 25.39,98.42 C23.95,99.86 21.09,100.52 18.94,100.64Z" fill="url(#gcell)"/>
<circle cx="18.20" cy="92.80" r="3.1" fill="url(#nuc)"/>
<path d="M40.99,79.72 C42.57,78.24 45.32,77.07 47.56,77.00 C49.79,76.94 52.83,77.90 54.41,79.34 C55.99,80.79 57.01,83.55 57.04,85.67 C57.08,87.78 56.13,90.73 54.60,92.04 C53.06,93.36 50.01,93.61 47.83,93.57 C45.64,93.52 43.10,93.07 41.47,91.80 C39.84,90.52 38.14,87.95 38.06,85.94 C37.98,83.92 39.41,81.21 40.99,79.72Z" fill="url(#gcell)"/>
<circle cx="47.70" cy="85.80" r="3.1" fill="url(#nuc)"/>
<path d="M79.92,91.59 C81.95,92.09 84.24,94.19 85.21,95.97 C86.18,97.75 86.36,100.44 85.74,102.25 C85.12,104.06 83.28,105.80 81.48,106.82 C79.68,107.85 76.92,108.84 74.94,108.41 C72.96,107.97 70.70,106.00 69.61,104.22 C68.51,102.45 67.79,99.65 68.37,97.77 C68.94,95.89 71.13,93.97 73.05,92.94 C74.98,91.91 77.90,91.08 79.92,91.59Z" fill="url(#gcell)"/>
<circle cx="77.40" cy="100.10" r="3.1" fill="url(#nuc)"/>
<path d="M40.41,122.80 C38.51,122.02 36.08,120.19 35.46,118.43 C34.84,116.66 35.72,114.00 36.70,112.21 C37.68,110.42 39.43,108.33 41.33,107.69 C43.24,107.04 46.33,107.42 48.13,108.35 C49.93,109.27 51.44,111.37 52.13,113.23 C52.82,115.08 53.14,117.81 52.26,119.46 C51.38,121.10 48.82,122.52 46.84,123.08 C44.87,123.63 42.30,123.57 40.41,122.80Z" fill="url(#gcell)"/>
<circle cx="44.20" cy="115.70" r="3.1" fill="url(#nuc)"/>
<path d="M609.42,67.01 C608.72,65.05 608.59,62.07 609.60,60.32 C610.60,58.57 613.33,57.06 615.45,56.52 C617.57,55.98 620.40,56.15 622.30,57.06 C624.19,57.97 626.26,60.12 626.82,61.98 C627.38,63.84 626.67,66.46 625.66,68.22 C624.65,69.98 622.74,71.89 620.77,72.54 C618.80,73.18 615.71,73.01 613.82,72.09 C611.93,71.17 610.13,68.97 609.42,67.01Z" fill="url(#pcell)"/>
<circle cx="618.10" cy="64.50" r="3.1" fill="url(#nuc)"/>
<path d="M643.19,74.88 C642.85,72.87 643.51,69.99 644.80,68.46 C646.09,66.93 648.88,65.89 650.94,65.68 C652.99,65.48 655.47,66.13 657.15,67.22 C658.83,68.30 660.64,70.34 661.01,72.18 C661.37,74.01 660.54,76.56 659.34,78.23 C658.14,79.90 655.89,81.82 653.82,82.20 C651.74,82.58 648.65,81.74 646.88,80.52 C645.11,79.30 643.54,76.89 643.19,74.88Z" fill="url(#pcell)"/>
<circle cx="652.30" cy="73.50" r="3.1" fill="url(#nuc)"/>
<path d="M620.78,98.04 C618.60,97.91 615.89,96.69 614.39,95.16 C612.90,93.64 611.61,90.86 611.81,88.91 C612.01,86.95 613.94,84.71 615.60,83.45 C617.26,82.20 619.78,81.26 621.78,81.37 C623.78,81.49 626.28,82.70 627.63,84.12 C628.98,85.53 629.91,87.88 629.89,89.85 C629.87,91.81 629.04,94.53 627.52,95.90 C626.01,97.26 622.97,98.16 620.78,98.04Z" fill="url(#pcell)"/>
<circle cx="621.30" cy="89.40" r="3.1" fill="url(#nuc)"/>
<path d="M607.98,111.79 C606.71,113.37 603.96,114.67 601.75,114.95 C599.54,115.22 596.32,114.71 594.71,113.44 C593.10,112.17 592.22,109.33 592.09,107.32 C591.96,105.31 592.67,102.98 593.93,101.38 C595.18,99.78 597.55,98.03 599.63,97.74 C601.72,97.45 604.82,98.37 606.44,99.65 C608.06,100.94 609.10,103.45 609.36,105.47 C609.62,107.49 609.25,110.21 607.98,111.79Z" fill="url(#pcell)"/>
<circle cx="600.70" cy="106.40" r="3.1" fill="url(#nuc)"/>
<path d="M634.99,112.60 C635.46,114.63 635.83,117.38 634.79,118.96 C633.76,120.53 630.95,121.55 628.77,122.05 C626.59,122.55 623.38,122.96 621.72,121.95 C620.05,120.94 619.28,118.07 618.80,116.00 C618.32,113.93 617.82,111.23 618.83,109.54 C619.84,107.85 622.67,106.32 624.87,105.87 C627.06,105.41 630.30,105.67 631.99,106.79 C633.67,107.92 634.53,110.57 634.99,112.60Z" fill="url(#pcell)"/>
<circle cx="626.90" cy="114.30" r="3.1" fill="url(#nuc)"/>
<path d="M645.72,114.91 C644.13,113.74 642.83,111.17 642.65,109.21 C642.48,107.25 643.32,104.63 644.67,103.14 C646.02,101.64 648.61,100.46 650.74,100.25 C652.87,100.05 655.88,100.65 657.44,101.91 C659.00,103.17 659.94,105.79 660.12,107.81 C660.30,109.83 659.85,112.62 658.53,114.03 C657.22,115.43 654.35,116.07 652.21,116.21 C650.08,116.36 647.32,116.07 645.72,114.91Z" fill="url(#pcell)"/>
<circle cx="651.50" cy="108.50" r="3.1" fill="url(#nuc)"/>
<text x="15.80" y="40.00" font-size="11" fill="#2e2e2e" textLength="73.60" lengthAdjust="spacingAndGlyphs">Cells in state A</text>
<text x="129.70" y="14.40" font-size="11" fill="#2e2e2e" textLength="97.20" lengthAdjust="spacingAndGlyphs">Embedding module</text>
<rect x="127.30" y="20.40" width="73.30" height="22.20" fill="#e2e2e2" stroke="#404040" stroke-width="1.1"/>
<text x="163.95" y="38.20" font-size="11" text-anchor="middle" fill="#2e2e2e">[CLS]</text>
<rect x="127.30" y="53.40" width="73.30" height="22.30" fill="#e9f1fb" stroke="#404040" stroke-width="1.1"/>
<text x="163.95" y="71.30" font-size="11" text-anchor="middle" fill="#2e2e2e">cCRE E</text>
<rect x="127.30" y="80.50" width="73.30" height="22.00" fill="#e9f1fb" stroke="#404040" stroke-width="1.1"/>
<text x="163.95" y="98.10" font-size="11" text-anchor="middle" fill="#2e2e2e">cCRE T</text>
<rect x="127.30" y="113.40" width="73.30" height="22.20" fill="#e2e2e2" stroke="#404040" stroke-width="1.1"/>
<text x="163.95" y="131.20" font-size="11" text-anchor="middle" fill="#2e2e2e">[SEP]</text>
<text x="163.90" y="51.00" font-size="9" text-anchor="middle" fill="#2e2e2e">...</text>
<text x="163.90" y="110.00" font-size="9" text-anchor="middle" fill="#2e2e2e">...</text>
<rect x="305.40" y="20.40" width="73.10" height="22.30" fill="#e2e2e2" stroke="#404040" stroke-width="1.1"/>
<text x="341.95" y="38.30" font-size="11" text-anchor="middle" fill="#2e2e2e">[CLS]</text>
<rect x="305.40" y="66.50" width="73.10" height="22.50" fill="#e9f1fb" stroke="#404040" stroke-width="1.1"/>
<text x="341.95" y="84.60" font-size="11" text-anchor="middle" fill="#2e2e2e">cCRE T</text>
<rect x="305.40" y="112.90" width="73.10" height="22.40" fill="#e2e2e2" stroke="#404040" stroke-width="1.1"/>
<text x="341.95" y="130.90" font-size="11" text-anchor="middle" fill="#2e2e2e">[SEP]</text>
<text x="341.90" y="56.40" font-size="9" text-anchor="middle" fill="#2e2e2e">...</text>
<text x="341.90" y="104.30" font-size="9" text-anchor="middle" fill="#2e2e2e">...</text>
<line x1="100.30" y1="76.30" x2="115.00" y2="76.30" stroke="#1c1c1c" stroke-width="1.6"/>
<path d="M119.80,76.30 L113.50,73.70 L114.89,76.30 L113.50,78.90Z" fill="#1c1c1c"/>
<line x1="213.10" y1="76.20" x2="291.80" y2="76.20" stroke="#1c1c1c" stroke-width="1.6"/>
<path d="M296.60,76.20 L290.30,73.60 L291.69,76.20 L290.30,78.80Z" fill="#1c1c1c"/>
<line x1="380.80" y1="76.10" x2="398.70" y2="76.10" stroke="#1c1c1c" stroke-width="1.6"/>
<path d="M403.50,76.10 L397.20,73.50 L398.59,76.10 L397.20,78.70Z" fill="#1c1c1c"/>
<line x1="462.50" y1="76.30" x2="477.10" y2="76.30" stroke="#1c1c1c" stroke-width="1.6"/>
<path d="M481.90,76.30 L475.60,73.70 L476.99,76.30 L475.60,78.90Z" fill="#1c1c1c"/>
<text x="231.50" y="62.60" font-size="11" fill="#2e2e2e" textLength="46.50" lengthAdjust="spacingAndGlyphs">Knockout</text>
<text x="229.80" y="100.70" font-size="11" fill="#2e2e2e" textLength="50.40" lengthAdjust="spacingAndGlyphs">key cCREs</text>
<rect x="415.60" y="27.40" width="41.00" height="98.20" fill="#f1f6ef" stroke="#404040" stroke-width="1.1"/>
<text x="433.40" y="76.70" font-size="11" text-anchor="middle" fill="#2e2e2e" transform="rotate(-90 433.40 76.70)">EpiAgent</text>
<text x="446.50" y="76.30" font-size="11" text-anchor="middle" fill="#2e2e2e" transform="rotate(-90 446.50 76.30)">transformer</text>
<text x="500.50" y="29.90" font-size="11" fill="#2e2e2e" textLength="37.30" lengthAdjust="spacingAndGlyphs">In silico</text>
<text x="490.90" y="42.70" font-size="11" fill="#2e2e2e" textLength="56.50" lengthAdjust="spacingAndGlyphs">treated cell</text>
<text x="583.20" y="39.90" font-size="11" fill="#2e2e2e" textLength="73.10" lengthAdjust="spacingAndGlyphs">Cells in state B</text>
<path d="M519,53.6 C531,53.2 542.6,58 543.2,70 C543.8,82 538,95.5 522,97.8 C508,99.6 494.8,92 494.8,79 C494.8,65 505,54 519,53.6Z" fill="url(#bigcell)" stroke="#4a4a4a" stroke-width="1.2" stroke-dasharray="3,1.7"/>
<circle cx="518.9" cy="76" r="7.9" fill="url(#bignuc)"/>
<line x1="545.8" y1="73.7" x2="577" y2="73.7" stroke="#8a8a8a" stroke-width="1.1" stroke-dasharray="2.6,1.8"/>
<path d="M579.2,73.7 L574.2,71.2 M579.2,73.7 L574.2,76.2" stroke="#8a8a8a" stroke-width="1.1" fill="none"/>
<path d="M580.16,82.68 C579.04,81.07 578.46,78.53 578.82,76.66 C579.17,74.78 580.63,72.60 582.28,71.44 C583.93,70.29 586.74,69.38 588.70,69.72 C590.67,70.07 592.94,71.86 594.08,73.50 C595.22,75.14 595.88,77.65 595.56,79.57 C595.23,81.50 593.81,83.93 592.14,85.05 C590.47,86.17 587.53,86.69 585.53,86.30 C583.53,85.90 581.28,84.28 580.16,82.68Z" fill="url(#smallcell)" stroke="#4a4a4a" stroke-width="0.8" stroke-dasharray="1.6,1.1"/>
<circle cx="586.9" cy="77.7" r="3" fill="url(#nuc)"/>
<rect x="70.06" y="178.80" width="16.45" height="51.80" fill="#4687b0" stroke="none" stroke-width="1"/>
<line x1="78.28" y1="269.50" x2="78.28" y2="273.00" stroke="#666" stroke-width="1"/>
<text x="83.28" y="281.30" font-size="9.2" text-anchor="end" fill="#2e2e2e" font-style="italic" transform="rotate(-45 83.28 281.30)">CHD4</text>
<rect x="90.62" y="178.80" width="16.45" height="3.70" fill="#4687b0" stroke="none" stroke-width="1"/>
<line x1="98.84" y1="269.50" x2="98.84" y2="273.00" stroke="#666" stroke-width="1"/>
<text x="103.84" y="281.30" font-size="9.2" text-anchor="end" fill="#2e2e2e" font-style="italic" transform="rotate(-45 103.84 281.30)">CHD5</text>
<rect x="111.18" y="178.80" width="16.45" height="45.40" fill="#4687b0" stroke="none" stroke-width="1"/>
<line x1="119.40" y1="269.50" x2="119.40" y2="273.00" stroke="#666" stroke-width="1"/>
<text x="124.40" y="281.30" font-size="9.2" text-anchor="end" fill="#2e2e2e" font-style="italic" transform="rotate(-45 124.40 281.30)">CHD8</text>
<rect x="131.74" y="178.80" width="16.45" height="32.60" fill="#4687b0" stroke="none" stroke-width="1"/>
<line x1="139.96" y1="269.50" x2="139.96" y2="273.00" stroke="#666" stroke-width="1"/>
<text x="144.96" y="281.30" font-size="9.2" text-anchor="end" fill="#2e2e2e" font-style="italic" transform="rotate(-45 144.96 281.30)">EZH2</text>
<rect x="152.30" y="169.90" width="16.45" height="8.90" fill="#edf4fb" stroke="none" stroke-width="1"/>
<line x1="160.52" y1="269.50" x2="160.52" y2="273.00" stroke="#666" stroke-width="1"/>
<text x="165.52" y="281.30" font-size="9.2" dx="0 0 0 -0.77" text-anchor="end" fill="#2e2e2e" font-style="italic" transform="rotate(-45 165.52 281.30)">ING1</text>
<rect x="172.86" y="178.80" width="16.45" height="58.30" fill="#4687b0" stroke="none" stroke-width="1"/>
<line x1="181.08" y1="269.50" x2="181.08" y2="273.00" stroke="#666" stroke-width="1"/>
<text x="186.08" y="281.30" font-size="9.2" text-anchor="end" fill="#2e2e2e" font-style="italic" transform="rotate(-45 186.08 281.30)">KDM6A</text>
<rect x="193.42" y="178.80" width="16.45" height="8.20" fill="#4687b0" stroke="none" stroke-width="1"/>
<line x1="201.64" y1="269.50" x2="201.64" y2="273.00" stroke="#666" stroke-width="1"/>
<text x="206.64" y="281.30" font-size="9.2" dx="0 0 0 0 -0.77" text-anchor="end" fill="#2e2e2e" font-style="italic" transform="rotate(-45 206.64 281.30)">PBRM1</text>
<rect x="213.98" y="178.80" width="16.45" height="57.60" fill="#4687b0" stroke="none" stroke-width="1"/>
<line x1="222.20" y1="269.50" x2="222.20" y2="273.00" stroke="#666" stroke-width="1"/>
<text x="227.20" y="281.30" font-size="9.2" text-anchor="end" fill="#2e2e2e" font-style="italic" transform="rotate(-45 227.20 281.30)">PHF6</text>
<rect x="234.54" y="171.00" width="16.45" height="7.80" fill="#4687b0" stroke="none" stroke-width="1"/>
<line x1="242.76" y1="269.50" x2="242.76" y2="273.00" stroke="#666" stroke-width="1"/>
<text x="247.76" y="281.30" font-size="9.2" text-anchor="end" fill="#2e2e2e" font-style="italic" transform="rotate(-45 247.76 281.30)">SETD2</text>
<rect x="255.10" y="178.80" width="16.45" height="19.10" fill="#4687b0" stroke="none" stroke-width="1"/>
<line x1="263.32" y1="269.50" x2="263.32" y2="273.00" stroke="#666" stroke-width="1"/>
<text x="268.32" y="281.30" font-size="9.2" text-anchor="end" fill="#2e2e2e" font-style="italic" transform="rotate(-45 268.32 281.30)">SMARCA4</text>
<path d="M68.00,163.50 H273.60 V269.50 H68.00" fill="none" stroke="#7a7a7a" stroke-width="1"/>
<line x1="68.00" y1="163.00" x2="68.00" y2="270.00" stroke="#c2c2c2" stroke-width="1.3"/>
<text x="169.30" y="158.40" font-size="10.2" dx="0 0 0 0 0 -0.86" text-anchor="middle" fill="#2e2e2e">K562_1</text>
<rect x="284.82" y="178.80" width="15.36" height="86.40" fill="#4687b0" stroke="none" stroke-width="1"/>
<line x1="292.50" y1="269.50" x2="292.50" y2="273.00" stroke="#666" stroke-width="1"/>
<text x="297.50" y="281.30" font-size="9.2" text-anchor="end" fill="#2e2e2e" font-style="italic" transform="rotate(-45 297.50 281.30)">BAZ2A</text>
<rect x="304.02" y="178.80" width="15.36" height="24.60" fill="#4687b0" stroke="none" stroke-width="1"/>
<line x1="311.70" y1="269.50" x2="311.70" y2="273.00" stroke="#666" stroke-width="1"/>
<text x="316.70" y="281.30" font-size="9.2" text-anchor="end" fill="#2e2e2e" font-style="italic" transform="rotate(-45 316.70 281.30)">BRD9</text>
<rect x="323.22" y="169.90" width="15.36" height="8.90" fill="#edf4fb" stroke="none" stroke-width="1"/>
<line x1="330.90" y1="269.50" x2="330.90" y2="273.00" stroke="#666" stroke-width="1"/>
<text x="335.90" y="281.30" font-size="9.2" text-anchor="end" fill="#2e2e2e" font-style="italic" transform="rotate(-45 335.90 281.30)">CBX3</text>
<rect x="342.42" y="178.80" width="15.36" height="27.10" fill="#4687b0" stroke="none" stroke-width="1"/>
<line x1="350.10" y1="269.50" x2="350.10" y2="273.00" stroke="#666" stroke-width="1"/>
<text x="355.10" y="281.30" font-size="9.2" text-anchor="end" fill="#2e2e2e" font-style="italic" transform="rotate(-45 355.10 281.30)">CHD3</text>
<rect x="361.62" y="178.80" width="15.36" height="11.30" fill="#4687b0" stroke="none" stroke-width="1"/>
<line x1="369.30" y1="269.50" x2="369.30" y2="273.00" stroke="#666" stroke-width="1"/>
<text x="374.30" y="281.30" font-size="9.2" dx="0 0 0 0 0 -0.77" text-anchor="end" fill="#2e2e2e" font-style="italic" transform="rotate(-45 374.30 281.30)">CHRAC1</text>
<rect x="380.82" y="174.20" width="15.36" height="4.60" fill="#4687b0" stroke="none" stroke-width="1"/>
<line x1="388.50" y1="269.50" x2="388.50" y2="273.00" stroke="#666" stroke-width="1"/>
<text x="393.50" y="281.30" font-size="9.2" text-anchor="end" fill="#2e2e2e" font-style="italic" transform="rotate(-45 393.50 281.30)">ERCC6</text>
<rect x="400.02" y="178.80" width="15.36" height="1.20" fill="#4687b0" stroke="none" stroke-width="1"/>
<line x1="407.70" y1="269.50" x2="407.70" y2="273.00" stroke="#666" stroke-width="1"/>
<text x="412.70" y="281.30" font-size="9.2" text-anchor="end" fill="#2e2e2e" font-style="italic" transform="rotate(-45 412.70 281.30)">ING3</text>
<rect x="419.22" y="178.80" width="15.36" height="43.60" fill="#4687b0" stroke="none" stroke-width="1"/>
<line x1="426.90" y1="269.50" x2="426.90" y2="273.00" stroke="#666" stroke-width="1"/>
<text x="431.90" y="281.30" font-size="9.2" text-anchor="end" fill="#2e2e2e" font-style="italic" transform="rotate(-45 431.90 281.30)">MTA2</text>
<rect x="438.42" y="178.80" width="15.36" height="14.50" fill="#4687b0" stroke="none" stroke-width="1"/>
<line x1="446.10" y1="269.50" x2="446.10" y2="273.00" stroke="#666" stroke-width="1"/>
<text x="451.10" y="281.30" font-size="9.2" dx="0 0 0 -0.77" text-anchor="end" fill="#2e2e2e" font-style="italic" transform="rotate(-45 451.10 281.30)">RSF1</text>
<rect x="457.62" y="178.80" width="15.36" height="18.00" fill="#4687b0" stroke="none" stroke-width="1"/>
<line x1="465.30" y1="269.50" x2="465.30" y2="273.00" stroke="#666" stroke-width="1"/>
<text x="470.30" y="281.30" font-size="9.2" dx="0 0 0 0 0 0 -0.77" text-anchor="end" fill="#2e2e2e" font-style="italic" transform="rotate(-45 470.30 281.30)">SMARCC1</text>
<rect x="476.82" y="178.80" width="15.36" height="8.90" fill="#4687b0" stroke="none" stroke-width="1"/>
<line x1="484.50" y1="269.50" x2="484.50" y2="273.00" stroke="#666" stroke-width="1"/>
<text x="489.50" y="281.30" font-size="9.2" text-anchor="end" fill="#2e2e2e" font-style="italic" transform="rotate(-45 489.50 281.30)">SMARCD2</text>
<rect x="496.02" y="178.80" width="15.36" height="5.70" fill="#4687b0" stroke="none" stroke-width="1"/>
<line x1="503.70" y1="269.50" x2="503.70" y2="273.00" stroke="#666" stroke-width="1"/>
<text x="508.70" y="281.30" font-size="9.2" text-anchor="end" fill="#2e2e2e" font-style="italic" transform="rotate(-45 508.70 281.30)">SPI</text>
<path d="M282.90,163.50 H513.30 V269.50 H282.90" fill="none" stroke="#7a7a7a" stroke-width="1"/>
<line x1="282.90" y1="163.00" x2="282.90" y2="270.00" stroke="#c2c2c2" stroke-width="1.3"/>
<text x="396.60" y="158.40" font-size="10.2" text-anchor="middle" fill="#2e2e2e">K562_2</text>
<line x1="64.20" y1="178.80" x2="68.00" y2="178.80" stroke="#666" stroke-width="1"/>
<text x="59.60" y="181.90" font-size="9.2" text-anchor="end" fill="#2e2e2e">0</text>
<line x1="64.20" y1="204.18" x2="68.00" y2="204.18" stroke="#666" stroke-width="1"/>
<text x="59.60" y="207.28" font-size="9.2" text-anchor="end" fill="#2e2e2e" textLength="30.20" lengthAdjust="spacingAndGlyphs">−0.005</text>
<line x1="64.20" y1="229.55" x2="68.00" y2="229.55" stroke="#666" stroke-width="1"/>
<text x="59.60" y="232.65" font-size="9.2" text-anchor="end" fill="#2e2e2e" textLength="28.40" lengthAdjust="spacingAndGlyphs">−0.010</text>
<line x1="64.20" y1="254.93" x2="68.00" y2="254.93" stroke="#666" stroke-width="1"/>
<text x="59.60" y="258.03" font-size="9.2" text-anchor="end" fill="#2e2e2e" textLength="28.60" lengthAdjust="spacingAndGlyphs">−0.015</text>
<text x="9.00" y="225.90" font-size="10.8" text-anchor="middle" fill="#2e2e2e" textLength="50.50" lengthAdjust="spacingAndGlyphs" transform="rotate(-90 9.00 225.90)">Change in</text>
<text x="22.00" y="224.50" font-size="10.6" text-anchor="middle" fill="#2e2e2e" textLength="103.50" lengthAdjust="spacingAndGlyphs" transform="rotate(-90 22.00 224.50)">Wasserstein distance</text>
<rect x="587.00" y="256.30" width="40.80" height="13.10" fill="#3376aa" stroke="none" stroke-width="1"/>
<rect x="638.20" y="241.90" width="40.40" height="27.50" fill="#3376aa" stroke="none" stroke-width="1"/>
<path d="M582.00,164.20 H683.30 V269.40 H582.00" fill="none" stroke="#7a7a7a" stroke-width="1"/>
<line x1="582.00" y1="163.70" x2="582.00" y2="269.90" stroke="#777" stroke-width="1.0"/>
<line x1="580.00" y1="269.40" x2="582.00" y2="269.40" stroke="#666" stroke-width="1"/>
<text x="576.60" y="272.80" font-size="9.6" text-anchor="end" fill="#2e2e2e">0</text>
<line x1="580.00" y1="248.36" x2="582.00" y2="248.36" stroke="#666" stroke-width="1"/>
<text x="576.60" y="251.76" font-size="9.6" dx="0 0 0 -0.81" text-anchor="end" fill="#2e2e2e">0.01</text>
<line x1="580.00" y1="227.32" x2="582.00" y2="227.32" stroke="#666" stroke-width="1"/>
<text x="576.60" y="230.72" font-size="9.6" text-anchor="end" fill="#2e2e2e">0.02</text>
<line x1="580.00" y1="206.28" x2="582.00" y2="206.28" stroke="#666" stroke-width="1"/>
<text x="576.60" y="209.68" font-size="9.6" text-anchor="end" fill="#2e2e2e">0.03</text>
<line x1="580.00" y1="185.24" x2="582.00" y2="185.24" stroke="#666" stroke-width="1"/>
<text x="576.60" y="188.64" font-size="9.6" text-anchor="end" fill="#2e2e2e">0.04</text>
<line x1="580.00" y1="164.20" x2="582.00" y2="164.20" stroke="#666" stroke-width="1"/>
<text x="576.60" y="167.60" font-size="9.6" text-anchor="end" fill="#2e2e2e">0.05</text>
<line x1="607.40" y1="269.40" x2="607.40" y2="272.40" stroke="#666" stroke-width="1"/>
<text x="607.90" y="282.90" font-size="9.4" text-anchor="middle" fill="#2e2e2e" textLength="29.30" lengthAdjust="spacingAndGlyphs">K562_1</text>
<line x1="658.40" y1="269.40" x2="658.40" y2="272.40" stroke="#666" stroke-width="1"/>
<text x="658.90" y="282.90" font-size="9.4" text-anchor="middle" fill="#2e2e2e" textLength="29.30" lengthAdjust="spacingAndGlyphs">K562_2</text>
<text x="547" y="216.9" font-size="10.6" fill="#2e2e2e" text-anchor="middle" transform="rotate(-90 547 216.9)"><tspan font-style="italic">P</tspan> value</text>
<circle cx="102.50" cy="360.40" r="0.55" fill="#6b6b6b"/>
<circle cx="102.50" cy="378.20" r="0.55" fill="#6b6b6b"/>
<line x1="102.50" y1="396.40" x2="102.50" y2="399.70" stroke="#555" stroke-width="0.9"/>
<text x="108.10" y="406.00" font-size="9.7" dx="0 0 0 -0.81 -1.22 0 -0.81 -1.22 0 0 0 0 0 -0.81 -1.22 -0.81 -1.22 0 0 0 -0.81 -1.22 -0.81" text-anchor="end" fill="#2e2e2e" transform="rotate(-45 108.10 406.00)">chr16:15947721-15948121</text>
<circle cx="119.59" cy="360.40" r="0.55" fill="#6b6b6b"/>
<circle cx="119.59" cy="378.20" r="0.9" fill="#e9b5a2" stroke="#a07060" stroke-width="0.45" stroke-opacity="0.8"/>
<line x1="119.59" y1="396.40" x2="119.59" y2="399.70" stroke="#555" stroke-width="0.9"/>
<text x="125.19" y="406.00" font-size="9.7" dx="0 0 0 -0.81 -1.22 0 -0.81 -1.22 0 0 0 0 0 0 0 -0.81 -1.22 0 0 0 -0.81 -1.22 0" text-anchor="end" fill="#2e2e2e" transform="rotate(-45 125.19 406.00)">chr16:15948723-15949123</text>
<circle cx="136.68" cy="360.40" r="0.55" fill="#6b6b6b"/>
<circle cx="136.68" cy="378.20" r="0.55" fill="#6b6b6b"/>
<line x1="136.68" y1="396.40" x2="136.68" y2="399.70" stroke="#555" stroke-width="0.9"/>
<text x="142.28" y="406.00" font-size="9.7" dx="0 0 0 -0.81 -1.22 0 0 0 -0.81 -1.22 0 0 0 0 0 0 0 -0.81 -1.22 0 -0.81 -1.22 0" text-anchor="end" fill="#2e2e2e" transform="rotate(-45 142.28 406.00)">chr16:48155636-48156136</text>
<circle cx="153.77" cy="360.40" r="1.35" fill="#fbd3c2" stroke="#a06050" stroke-width="0.45" stroke-opacity="0.8"/>
<circle cx="153.77" cy="378.20" r="1.35" fill="#fbd0bd" stroke="#a06050" stroke-width="0.45" stroke-opacity="0.8"/>
<line x1="153.77" y1="396.40" x2="153.77" y2="399.70" stroke="#555" stroke-width="0.9"/>
<text x="159.37" y="406.00" font-size="9.7" dx="0 0 0 -0.81 -1.22 0 0 0 -0.81 -1.22 0 0 0 0 0 0 0 -0.81 -1.22 0 -0.81 -1.22 0" text-anchor="end" fill="#2e2e2e" transform="rotate(-45 159.37 406.00)">chr16:48156659-48157158</text>
<circle cx="170.86" cy="360.40" r="0.55" fill="#6b6b6b"/>
<circle cx="170.86" cy="378.20" r="0.55" fill="#6b6b6b"/>
<line x1="170.86" y1="396.40" x2="170.86" y2="399.70" stroke="#555" stroke-width="0.9"/>
<text x="176.46" y="406.00" font-size="9.7" dx="0 0 0 -0.81 -1.22 0 0 0 -0.81 -1.22 0 0 0 0 0 0 0 -0.81 -1.22 0 0 0 0" text-anchor="end" fill="#2e2e2e" transform="rotate(-45 176.46 406.00)">chr16:48157334-48157734</text>
<circle cx="187.95" cy="360.40" r="0.55" fill="#6b6b6b"/>
<circle cx="187.95" cy="378.20" r="0.55" fill="#6b6b6b"/>
<line x1="187.95" y1="396.40" x2="187.95" y2="399.70" stroke="#555" stroke-width="0.9"/>
<text x="193.55" y="406.00" font-size="9.7" dx="0 0 0 -0.81 -1.22 0 0 0 0 0 0 0 -0.81 -2.04 -1.22 0 0 0 0 0 0 -0.81 -2.04" text-anchor="end" fill="#2e2e2e" transform="rotate(-45 193.55 406.00)">chr16:48247311-48247711</text>
<circle cx="205.04" cy="360.40" r="0.5" fill="#aaaaaa"/>
<circle cx="205.04" cy="378.20" r="0.5" fill="#aaaaaa"/>
<line x1="205.04" y1="396.40" x2="205.04" y2="399.70" stroke="#555" stroke-width="0.9"/>
<text x="210.64" y="406.00" font-size="9.7" dx="0 0 0 0 -0.81 -1.22 -0.81 -1.22 0 0 -0.81 -1.22 0 -0.81 -1.22 -0.81 -1.22 0 0 0 -0.81 -1.22 -0.81" text-anchor="end" fill="#2e2e2e" transform="rotate(-45 210.64 406.00)">chr21:14271631-14272131</text>
<circle cx="222.13" cy="360.40" r="0.5" fill="#aaaaaa"/>
<circle cx="222.13" cy="378.20" r="0.5" fill="#aaaaaa"/>
<line x1="222.13" y1="396.40" x2="222.13" y2="399.70" stroke="#555" stroke-width="0.9"/>
<text x="227.73" y="406.00" font-size="9.7" dx="0 0 0 0 -0.81 -1.22 -0.81 -1.22 0 0 0 0 0 -0.81 -1.22 -0.81 -1.22 0 0 0 -0.81 -1.22 -0.81" text-anchor="end" fill="#2e2e2e" transform="rotate(-45 227.73 406.00)">chr21:14272601-14273101</text>
<circle cx="239.22" cy="360.40" r="1.5" fill="#fbcab6" stroke="#a06050" stroke-width="0.45" stroke-opacity="0.8"/>
<circle cx="239.22" cy="378.20" r="1.3" fill="#fbcdb9" stroke="#a06050" stroke-width="0.45" stroke-opacity="0.8"/>
<line x1="239.22" y1="396.40" x2="239.22" y2="399.70" stroke="#555" stroke-width="0.9"/>
<text x="244.82" y="406.00" font-size="9.7" dx="0 0 0 0 -0.81 -1.22 -0.81 -1.22 0 0 0 0 0 0 0 -0.81 -1.22 0 0 0 0 0 0" text-anchor="end" fill="#2e2e2e" transform="rotate(-45 244.82 406.00)">chr21:14273789-14274288</text>
<circle cx="256.31" cy="360.40" r="6.4" fill="#ef6b54" stroke="#6a3030" stroke-width="0.45" stroke-opacity="0.8"/>
<circle cx="256.31" cy="378.20" r="6.9" fill="#e0473a" stroke="#5a2020" stroke-width="0.45" stroke-opacity="0.8"/>
<line x1="256.31" y1="396.40" x2="256.31" y2="399.70" stroke="#555" stroke-width="0.9"/>
<text x="261.91" y="406.00" font-size="9.7" text-anchor="end" fill="#2e2e2e" transform="rotate(-45 261.91 406.00)">chr6:43427045-43428279</text>
<path d="M253.51,402.5 L267.71,402.5 L186.11,484.1 L171.91,484.1Z" fill="none" stroke="#e8353d" stroke-width="1.1"/>
<rect x="88.3" y="342.5" width="181.80" height="53.90" fill="none" stroke="#6a6a6a" stroke-width="1"/>
<text x="179.60" y="336.90" font-size="10.2" dx="0 0 0 0 -0.86" text-anchor="middle" fill="#2e2e2e" font-style="italic">ABCC1</text>
<circle cx="300.20" cy="360.40" r="0.9" fill="#9a7468"/>
<circle cx="300.20" cy="378.20" r="4.8" fill="#a2202b" stroke="#4a1515" stroke-width="0.45" stroke-opacity="0.8"/>
<line x1="300.20" y1="396.40" x2="300.20" y2="399.70" stroke="#555" stroke-width="0.9"/>
<text x="305.80" y="406.00" font-size="9.7" dx="0 0 0 0 0 0 0 0 0 0 0 -0.81 -1.22 0 0 0 0 0 0 0 0 0" text-anchor="end" fill="#2e2e2e" transform="rotate(-45 305.80 406.00)">chr6:43768813-43769358</text>
<path d="M297.40,402.5 L311.60,402.5 L230.00,484.1 L215.80,484.1Z" fill="none" stroke="#e8353d" stroke-width="1.1"/>
<circle cx="327.60" cy="360.40" r="4.2" fill="#f6957b" stroke="#6a3a30" stroke-width="0.45" stroke-opacity="0.8"/>
<circle cx="327.60" cy="378.20" r="6.1" fill="#e2473b" stroke="#5a2020" stroke-width="0.45" stroke-opacity="0.8"/>
<line x1="327.60" y1="396.40" x2="327.60" y2="399.70" stroke="#555" stroke-width="0.9"/>
<text x="333.20" y="406.00" font-size="9.7" dx="0 0 0 0 0 0 0 0 0 0 0 0 0 0 0 0 0 0 0 0 0 -0.81" text-anchor="end" fill="#2e2e2e" transform="rotate(-45 333.20 406.00)">chr6:43769442-43769941</text>
<path d="M324.80,402.5 L339.00,402.5 L257.40,484.1 L243.20,484.1Z" fill="none" stroke="#e8353d" stroke-width="1.1"/>
<circle cx="355.20" cy="360.40" r="5.0" fill="#f27b62" stroke="#6a3a30" stroke-width="0.45" stroke-opacity="0.8"/>
<circle cx="355.20" cy="378.20" r="6.4" fill="#e2473b" stroke="#5a2020" stroke-width="0.45" stroke-opacity="0.8"/>
<line x1="355.20" y1="396.40" x2="355.20" y2="399.70" stroke="#555" stroke-width="0.9"/>
<text x="360.80" y="406.00" font-size="9.7" text-anchor="end" fill="#2e2e2e" transform="rotate(-45 360.80 406.00)">chr6:43769973-43770373</text>
<path d="M352.40,402.5 L366.60,402.5 L285.00,484.1 L270.80,484.1Z" fill="none" stroke="#e8353d" stroke-width="1.1"/>
<rect x="277.4" y="342.5" width="100.20" height="53.90" fill="none" stroke="#6a6a6a" stroke-width="1"/>
<text x="327.50" y="336.90" font-size="10.2" text-anchor="middle" fill="#2e2e2e" font-style="italic">VEGFA</text>
<circle cx="397.90" cy="360.40" r="0.55" fill="#6b6b6b"/>
<circle cx="397.90" cy="378.20" r="0.55" fill="#6b6b6b"/>
<line x1="397.90" y1="396.40" x2="397.90" y2="399.70" stroke="#555" stroke-width="0.9"/>
<text x="403.50" y="406.00" font-size="9.7" dx="0 0 0 -0.81 -1.22 0 -0.81 -1.22 0 0 0 0 -0.81 -1.22 0 -0.81 -1.22 0 0 0 0 -0.81 -1.22" text-anchor="end" fill="#2e2e2e" transform="rotate(-45 403.50 406.00)">chr12:15972817-15973217</text>
<circle cx="413.47" cy="360.40" r="0.55" fill="#6b6b6b"/>
<circle cx="413.47" cy="378.20" r="0.55" fill="#6b6b6b"/>
<line x1="413.47" y1="396.40" x2="413.47" y2="399.70" stroke="#555" stroke-width="0.9"/>
<text x="419.07" y="406.00" font-size="9.7" dx="0 0 0 -0.81 -1.22 0 -0.81 -1.22 0 0 0 0 0 0 0 -0.81 -1.22 0 0 0 0 0 -0.81" text-anchor="end" fill="#2e2e2e" transform="rotate(-45 419.07 406.00)">chr12:15976222-15976721</text>
<circle cx="429.04" cy="360.40" r="0.55" fill="#6b6b6b"/>
<circle cx="429.04" cy="378.20" r="0.55" fill="#6b6b6b"/>
<line x1="429.04" y1="396.40" x2="429.04" y2="399.70" stroke="#555" stroke-width="0.9"/>
<text x="434.64" y="406.00" font-size="9.7" dx="0 0 0 -0.81 -1.22 0 -0.81 -1.22 0 0 0 0 0 0 0 -0.81 -1.22 0 0 0 0 0 0" text-anchor="end" fill="#2e2e2e" transform="rotate(-45 434.64 406.00)">chr12:15977368-15977768</text>
<circle cx="444.61" cy="360.40" r="0.55" fill="#6b6b6b"/>
<circle cx="444.61" cy="378.20" r="2.6" fill="#ee6a50" stroke="#6a3030" stroke-width="0.45" stroke-opacity="0.8"/>
<line x1="444.61" y1="396.40" x2="444.61" y2="399.70" stroke="#555" stroke-width="0.9"/>
<text x="450.21" y="406.00" font-size="9.7" dx="0 0 0 -0.81 -1.22 0 0 0 0 0 0 -0.81 -1.22 0 0 0 0 0 0 0 0 0 0" text-anchor="end" fill="#2e2e2e" transform="rotate(-45 450.21 406.00)">chr14:34035125-34035525</text>
<circle cx="460.18" cy="360.40" r="0.55" fill="#6b6b6b"/>
<circle cx="460.18" cy="378.20" r="6.1" fill="#5c0812" stroke="#2a0505" stroke-width="0.45" stroke-opacity="0.8"/>
<line x1="460.18" y1="396.40" x2="460.18" y2="399.70" stroke="#555" stroke-width="0.9"/>
<text x="465.78" y="406.00" font-size="9.7" dx="0 0 0 -0.81 -1.22 0 0 0 0 0 0 0 0 0 0 0 0 0 0 0 -0.81 -1.22 0" text-anchor="end" fill="#2e2e2e" transform="rotate(-45 465.78 406.00)">chr14:34035627-34036197</text>
<path d="M459.18,402.5 L473.98,402.5 L387.48,489.0 L372.68,489.0Z" fill="none" stroke="#e8353d" stroke-width="1.1"/>
<circle cx="475.75" cy="360.40" r="0.5" fill="#aaaaaa"/>
<circle cx="475.75" cy="378.20" r="0.55" fill="#6b6b6b"/>
<line x1="475.75" y1="396.40" x2="475.75" y2="399.70" stroke="#555" stroke-width="0.9"/>
<text x="481.35" y="406.00" font-size="9.7" dx="0 0 0 -0.81 -1.22 0 0 0 0 0 0 0 0 0 0 0 0 0 0 0 0 0 0" text-anchor="end" fill="#2e2e2e" transform="rotate(-45 481.35 406.00)">chr14:34036397-34036896</text>
<circle cx="491.32" cy="360.40" r="0.55" fill="#6b6b6b"/>
<circle cx="491.32" cy="378.20" r="0.9" fill="#e9b0a0"/>
<line x1="491.32" y1="396.40" x2="491.32" y2="399.70" stroke="#555" stroke-width="0.9"/>
<text x="496.92" y="406.00" font-size="9.7" dx="0 0 0 -0.81 -1.22 0 0 0 0 0 0 0 -0.81 -1.22 0 0 0 0 0 0 0 -0.81 -1.22" text-anchor="end" fill="#2e2e2e" transform="rotate(-45 496.92 406.00)">chr14:34038216-34038616</text>
<circle cx="506.89" cy="360.40" r="2.0" fill="#f08268" stroke="#7a4040" stroke-width="0.45" stroke-opacity="0.8"/>
<circle cx="506.89" cy="378.20" r="2.0" fill="#f08268" stroke="#7a4040" stroke-width="0.45" stroke-opacity="0.8"/>
<line x1="506.89" y1="396.40" x2="506.89" y2="399.70" stroke="#555" stroke-width="0.9"/>
<text x="512.49" y="406.00" font-size="9.7" dx="0 0 0 -0.81 -1.22 0 0 0 0 0 0 0 0 0 0 0 0 0 0 0 0 0 0" text-anchor="end" fill="#2e2e2e" transform="rotate(-45 512.49 406.00)">chr14:34038653-34039053</text>
<circle cx="522.46" cy="360.40" r="1.5" fill="#fdd5c5" stroke="#a06050" stroke-width="0.45" stroke-opacity="0.8"/>
<circle cx="522.46" cy="378.20" r="1.5" fill="#fdd5c5" stroke="#a06050" stroke-width="0.45" stroke-opacity="0.8"/>
<line x1="522.46" y1="396.40" x2="522.46" y2="399.70" stroke="#555" stroke-width="0.9"/>
<text x="528.06" y="406.00" font-size="9.7" dx="0 0 0 -0.81 -1.22 0 0 0 0 0 0 0 0 0 0 0 0 0 0 0 -0.81 -1.22 0" text-anchor="end" fill="#2e2e2e" transform="rotate(-45 528.06 406.00)">chr14:34462655-34463154</text>
<circle cx="538.03" cy="360.40" r="0.55" fill="#6b6b6b"/>
<circle cx="538.03" cy="378.20" r="0.55" fill="#6b6b6b"/>
<line x1="538.03" y1="396.40" x2="538.03" y2="399.70" stroke="#555" stroke-width="0.9"/>
<text x="543.63" y="406.00" font-size="9.7" dx="0 0 0 -0.81 -1.22 0 0 0 0 0 0 0 0 0 0 0 0 0 0 0 0 0 0" text-anchor="end" fill="#2e2e2e" transform="rotate(-45 543.63 406.00)">chr14:34465274-34465674</text>
<circle cx="553.60" cy="360.40" r="0.55" fill="#6b6b6b"/>
<circle cx="553.60" cy="378.20" r="0.55" fill="#6b6b6b"/>
<line x1="553.60" y1="396.40" x2="553.60" y2="399.70" stroke="#555" stroke-width="0.9"/>
<text x="559.20" y="406.00" font-size="9.7" dx="0 0 0 -0.81 -1.22 0 0 0 0 0 0 0 0 0 0 0 0 0 0 0 0 0 0" text-anchor="end" fill="#2e2e2e" transform="rotate(-45 559.20 406.00)">chr14:34466526-34467026</text>
<rect x="385.0" y="342.5" width="181.50" height="53.90" fill="none" stroke="#6a6a6a" stroke-width="1"/>
<text x="475.70" y="336.40" font-size="10.2" text-anchor="middle" fill="#2e2e2e" font-style="italic">EGLN3</text>
<line x1="85.30" y1="360.40" x2="88.30" y2="360.40" stroke="#555" stroke-width="0.9"/>
<text x="80.70" y="364.80" font-size="11" text-anchor="end" fill="#2e2e2e" textLength="56.80" lengthAdjust="spacingAndGlyphs">Normal cell</text>
<line x1="85.30" y1="378.20" x2="88.30" y2="378.20" stroke="#555" stroke-width="0.9"/>
<text x="80.70" y="382.60" font-size="11" text-anchor="end" fill="#2e2e2e" textLength="56.80" lengthAdjust="spacingAndGlyphs">Cancer cell</text>
<text x="628.40" y="328.10" font-size="10.4" text-anchor="middle" fill="#2e2e2e" textLength="79.40" lengthAdjust="spacingAndGlyphs">Fraction of cells</text>
<text x="628.20" y="340.50" font-size="10.4" text-anchor="middle" fill="#2e2e2e" textLength="71.90" lengthAdjust="spacingAndGlyphs">in cell type (%)</text>
<circle cx="592.3" cy="355.3" r="3.6" fill="#8c8c8c" stroke="#5a5a5a" stroke-width="0.6"/>
<line x1="592.30" y1="368.60" x2="592.30" y2="372.30" stroke="#555" stroke-width="0.9"/>
<text x="592.30" y="384.70" font-size="9.6" text-anchor="middle" fill="#2e2e2e">5</text>
<circle cx="616.3" cy="355.3" r="5.6" fill="#8c8c8c" stroke="#5a5a5a" stroke-width="0.6"/>
<line x1="616.30" y1="368.60" x2="616.30" y2="372.30" stroke="#555" stroke-width="0.9"/>
<text x="616.30" y="384.70" font-size="9.6" dx="-0.81 -1.21" text-anchor="middle" fill="#2e2e2e">10</text>
<circle cx="640.4" cy="355.3" r="7.6" fill="#8c8c8c" stroke="#5a5a5a" stroke-width="0.6"/>
<line x1="640.40" y1="368.60" x2="640.40" y2="372.30" stroke="#555" stroke-width="0.9"/>
<text x="640.40" y="384.70" font-size="9.6" dx="-0.81 -1.21" text-anchor="middle" fill="#2e2e2e">15</text>
<circle cx="664.4" cy="355.3" r="9.2" fill="#8c8c8c" stroke="#5a5a5a" stroke-width="0.6"/>
<line x1="664.40" y1="368.60" x2="664.40" y2="372.30" stroke="#555" stroke-width="0.9"/>
<text x="664.40" y="384.70" font-size="9.6" text-anchor="middle" fill="#2e2e2e">20</text>
<text x="628.40" y="404.80" font-size="10.4" text-anchor="middle" fill="#2e2e2e" textLength="89.20" lengthAdjust="spacingAndGlyphs">Mean accessibility</text>
<text x="628.20" y="417.30" font-size="10.4" text-anchor="middle" fill="#2e2e2e" textLength="54.10" lengthAdjust="spacingAndGlyphs">in cell type</text>
<rect x="584.30" y="422.90" width="87.90" height="15.60" fill="url(#reds)" stroke="#9a9a9a" stroke-width="0.7"/>
<line x1="584.60" y1="438.50" x2="584.60" y2="442.20" stroke="#555" stroke-width="0.9"/>
<text x="584.60" y="453.40" font-size="9.6" text-anchor="middle" fill="#2e2e2e">0</text>
<line x1="619.50" y1="438.50" x2="619.50" y2="442.20" stroke="#555" stroke-width="0.9"/>
<text x="619.50" y="453.40" font-size="9.6" text-anchor="middle" fill="#2e2e2e">0.2</text>
<line x1="654.30" y1="438.50" x2="654.30" y2="442.20" stroke="#555" stroke-width="0.9"/>
<text x="654.30" y="453.40" font-size="9.6" text-anchor="middle" fill="#2e2e2e">0.4</text>
<rect x="588.30" y="464.00" width="16.60" height="16.40" fill="none" stroke="#e8353d" stroke-width="1.1"/>
<text x="610.70" y="469.80" font-size="11.2" fill="#2e2e2e">Putative</text>
<text x="610.70" y="480.80" font-size="11.2" fill="#2e2e2e">promoters</text>
<rect x="456.10" y="530.30" width="36.60" height="3.40" fill="#2f5577" stroke="none" stroke-width="1"/>
<line x1="474.40" y1="530.30" x2="474.40" y2="527.00" stroke="#555" stroke-width="0.9"/>
<text x="474.40" y="521.80" font-size="10.6" text-anchor="middle" fill="#2e2e2e">Random</text>
<rect x="503.00" y="530.30" width="36.60" height="5.90" fill="#2f5577" stroke="none" stroke-width="1"/>
<line x1="521.30" y1="530.30" x2="521.30" y2="527.00" stroke="#555" stroke-width="0.9"/>
<text x="521.30" y="521.80" font-size="10.6" dx="0 0 0 0 -0.89" text-anchor="middle" fill="#2e2e2e" font-style="italic">ABCC1</text>
<rect x="549.90" y="530.30" width="36.60" height="53.50" fill="#2f5577" stroke="none" stroke-width="1"/>
<line x1="568.20" y1="530.30" x2="568.20" y2="527.00" stroke="#555" stroke-width="0.9"/>
<text x="568.20" y="521.80" font-size="10.6" text-anchor="middle" fill="#2e2e2e" font-style="italic">VEGFA</text>
<rect x="596.80" y="530.30" width="36.60" height="114.20" fill="#2f5577" stroke="none" stroke-width="1"/>
<line x1="615.10" y1="530.30" x2="615.10" y2="527.00" stroke="#555" stroke-width="0.9"/>
<text x="615.10" y="521.80" font-size="10.6" text-anchor="middle" fill="#2e2e2e" font-style="italic">EGLN3</text>
<rect x="643.70" y="530.30" width="36.60" height="141.10" fill="#2f5577" stroke="none" stroke-width="1"/>
<line x1="662.00" y1="530.30" x2="662.00" y2="527.00" stroke="#555" stroke-width="0.9"/>
<text x="662.00" y="521.80" font-size="10.6" text-anchor="middle" fill="#2e2e2e">Group</text>
<line x1="450.40" y1="530.30" x2="685.00" y2="530.30" stroke="#555" stroke-width="1"/>
<line x1="450.40" y1="529.80" x2="450.40" y2="680.60" stroke="#555" stroke-width="1"/>
<line x1="446.80" y1="530.30" x2="450.40" y2="530.30" stroke="#555" stroke-width="0.9"/>
<text x="442.60" y="533.70" font-size="9.6" text-anchor="end" fill="#2e2e2e">0</text>
<line x1="446.80" y1="564.90" x2="450.40" y2="564.90" stroke="#555" stroke-width="0.9"/>
<text x="442.60" y="568.30" font-size="9.6" dx="0 0 0 0 0 -0.81" text-anchor="end" fill="#2e2e2e">−0.001</text>
<line x1="446.80" y1="599.50" x2="450.40" y2="599.50" stroke="#555" stroke-width="0.9"/>
<text x="442.60" y="602.90" font-size="9.6" text-anchor="end" fill="#2e2e2e">−0.002</text>
<line x1="446.80" y1="634.10" x2="450.40" y2="634.10" stroke="#555" stroke-width="0.9"/>
<text x="442.60" y="637.50" font-size="9.6" text-anchor="end" fill="#2e2e2e">−0.003</text>
<line x1="446.80" y1="668.70" x2="450.40" y2="668.70" stroke="#555" stroke-width="0.9"/>
<text x="442.60" y="672.10" font-size="9.6" text-anchor="end" fill="#2e2e2e">−0.004</text>
<text x="382.20" y="595.20" font-size="11" text-anchor="middle" fill="#2e2e2e" transform="rotate(-90 382.20 595.20)">Average change in</text>
<text x="395.40" y="594.50" font-size="11" text-anchor="middle" fill="#2e2e2e" transform="rotate(-90 395.40 594.50)">proportion change of cancer</text>
<text x="407.60" y="595.80" font-size="11" text-anchor="middle" fill="#2e2e2e" transform="rotate(-90 407.60 595.80)">cell-derived cCREs</text>
<g id="eblob"><path d="M31.5 565.7h0M28.5 562.9h0M35.3 556.3h0M28.8 564.7h0M28.6 563.5h0M28.7 565.1h0M26.1 563.8h0M28.9 562.2h0M28.7 563.3h0M29.2 561.3h0M23.9 562.8h0M28.5 563.7h0M30.1 567.2h0M27.7 561.0h0M25.8 562.8h0M25.2 566.6h0M28.6 563.0h0M26.8 563.0h0M28.9 562.3h0M32.5 561.3h0M28.3 565.5h0M31.1 563.1h0M33.3 557.3h0M31.7 564.6h0M29.5 567.1h0M26.0 567.3h0M31.4 563.7h0M29.7 557.7h0M29.1 561.7h0M29.2 563.1h0M28.5 571.0h0M26.6 562.6h0M25.6 563.7h0M25.5 565.2h0M26.6 561.0h0M28.8 563.0h0M27.1 562.4h0M27.0 560.3h0M28.2 564.1h0M26.1 572.0h0M30.3 562.0h0M28.5 563.2h0M35.5 565.3h0M25.1 560.8h0M27.6 564.1h0M30.2 564.8h0M27.0 563.0h0M27.4 565.8h0M25.2 570.1h0M30.7 560.3h0M30.1 562.8h0M28.6 562.7h0M31.6 561.8h0M27.1 562.4h0M29.2 563.5h0M30.5 558.0h0M30.4 560.9h0M34.9 563.7h0M29.5 564.2h0M28.7 563.2h0M28.1 564.9h0M31.7 566.2h0M28.2 562.7h0M28.3 562.3h0M26.3 562.2h0M30.7 564.7h0M31.2 561.6h0M28.6 568.7h0M30.8 564.6h0M29.6 563.8h0M29.0 560.5h0M32.5 570.9h0M34.0 567.0h0M28.8 560.2h0M25.7 571.0h0M28.2 563.9h0M32.8 559.1h0M27.3 559.0h0M28.5 564.6h0M31.0 558.4h0M26.7 566.9h0M28.5 563.0h0M24.2 563.0h0M27.6 560.2h0M28.2 563.0h0M26.4 564.8h0M34.7 558.2h0M33.1 558.3h0M30.5 568.4h0M28.5 562.9h0M27.8 562.9h0M31.5 567.9h0M29.5 562.3h0M29.6 558.6h0M27.6 565.3h0M28.5 563.0h0M28.0 562.3h0M29.9 569.9h0M27.6 560.1h0M30.1 562.6h0M30.9 558.8h0M28.1 563.5h0M34.2 561.7h0M28.4 563.1h0M26.2 565.3h0M27.4 563.1h0M29.1 565.7h0M26.2 560.8h0M23.6 562.5h0M30.5 558.4h0M31.8 563.1h0M28.2 558.9h0M23.8 563.3h0M28.4 562.9h0M26.8 560.6h0M29.6 555.6h0M29.9 558.7h0M28.3 566.5h0M26.7 562.3h0M27.5 562.9h0M28.4 563.1h0M28.1 563.0h0M24.4 567.0h0M29.0 565.4h0M27.6 562.0h0M27.7 565.1h0M28.9 562.6h0M26.5 564.3h0M28.7 563.6h0M30.0 562.7h0M26.4 560.7h0M25.8 567.4h0M28.0 559.5h0M30.8 565.5h0M30.5 565.0h0M30.0 563.5h0M34.5 561.1h0M31.5 565.8h0M26.8 565.3h0M29.5 560.3h0M28.8 564.4h0M25.7 571.2h0M31.2 560.9h0M32.4 565.0h0M30.9 563.9h0M28.5 561.8h0M30.0 563.8h0M26.0 567.8h0M25.0 562.3h0M25.9 565.2h0M28.4 559.0h0M28.5 564.4h0M30.2 561.7h0M32.5 564.9h0M31.1 566.7h0M32.1 566.1h0M57.8 536.6h0M72.6 533.3h0M53.1 541.6h0M33.6 601.8h0M46.0 539.7h0M48.9 539.1h0M28.4 562.8h0M51.9 608.3h0M32.3 593.3h0M53.9 542.3h0M28.4 556.6h0M29.8 559.2h0M46.5 543.0h0M42.3 546.3h0M41.6 589.8h0M32.2 562.2h0M49.8 536.5h0M46.4 539.7h0M24.1 562.7h0M40.1 566.1h0M47.9 536.7h0M47.3 539.4h0M61.9 567.9h0M28.6 572.1h0M37.1 599.1h0M26.5 561.3h0M33.8 571.5h0M45.7 595.7h0M43.9 540.9h0M41.8 543.7h0M59.5 536.4h0M36.2 586.8h0M29.4 574.8h0M42.1 543.4h0M29.3 558.6h0M28.4 572.2h0M30.6 560.4h0M70.9 546.0h0M62.7 565.1h0M26.0 565.9h0M46.7 607.7h0M45.0 602.1h0M54.9 564.6h0M40.9 596.0h0M41.7 568.8h0M27.1 617.5h0M62.3 576.2h0M90.0 526.3h0M31.6 563.5h0M45.3 543.0h0M26.5 556.3h0M56.2 537.1h0M26.3 565.0h0M28.0 571.2h0M39.3 606.7h0M50.0 537.0h0M58.0 554.2h0M35.6 591.3h0M28.6 567.9h0M31.5 594.2h0M37.6 596.2h0M28.7 555.3h0M37.2 591.3h0M24.5 565.7h0M69.3 532.7h0M28.5 564.6h0M32.9 568.0h0M24.7 559.5h0M47.8 542.1h0M48.9 621.8h0M22.4 563.5h0M30.8 562.6h0M71.0 530.8h0M46.0 562.7h0M67.3 545.4h0M50.9 541.3h0M43.4 590.1h0M46.5 537.7h0M58.3 578.9h0M52.3 543.3h0M86.0 523.5h0M28.3 569.7h0M24.9 564.4h0M26.3 567.5h0M44.6 543.5h0M34.0 593.7h0M23.6 561.1h0M55.5 538.2h0M28.7 566.3h0M33.5 582.6h0M22.2 563.3h0M32.1 592.5h0M32.0 564.2h0M64.9 541.9h0M58.0 567.1h0M32.3 568.0h0M55.2 538.9h0M25.3 567.7h0M41.7 597.7h0M39.9 595.8h0M55.6 536.5h0M47.0 541.7h0M25.8 557.0h0M41.3 563.2h0M33.1 596.6h0M58.0 585.0h0M33.1 556.4h0M28.9 568.5h0M38.7 563.1h0M37.7 566.3h0M28.1 571.0h0M30.4 559.1h0M33.5 591.2h0M46.3 543.3h0M32.1 568.7h0M24.0 567.6h0M36.4 563.5h0M42.6 563.4h0M57.7 611.5h0M34.3 590.8h0M30.5 599.5h0M31.5 594.9h0M29.7 563.1h0M50.7 547.1h0M33.1 598.4h0M81.7 528.7h0M30.4 557.1h0M51.7 539.4h0M52.6 537.6h0M38.2 603.0h0M50.0 569.6h0M28.1 557.5h0M73.8 545.6h0M27.4 615.5h0M27.8 562.9h0M94.3 530.9h0M72.6 535.3h0M30.5 566.4h0M26.5 557.4h0M49.6 536.6h0M70.3 531.9h0M64.7 542.5h0M23.8 565.6h0M29.3 565.9h0M33.7 562.0h0M47.1 538.0h0M26.8 569.0h0M73.5 545.1h0M31.4 601.2h0M25.1 560.9h0M37.1 582.0h0M25.8 572.4h0M37.4 584.2h0M70.1 544.8h0M80.7 526.2h0M28.3 559.7h0M24.8 568.8h0M46.8 539.7h0M35.9 560.3h0M50.7 601.1h0M25.4 558.5h0M32.6 567.3h0M47.0 539.6h0M56.4 539.3h0M53.0 544.6h0M30.2 602.8h0M41.7 560.6h0M58.1 538.5h0M32.3 601.1h0M47.1 541.0h0M47.1 537.0h0M46.5 539.9h0M28.5 556.6h0M68.9 533.1h0M49.8 539.5h0M57.8 546.6h0M23.5 562.2h0M45.9 594.0h0M33.2 571.8h0M44.0 603.6h0" stroke="rgb(70, 16, 98)" stroke-opacity="0.52" stroke-width="1.6" stroke-linecap="round" fill="none"/>
<path d="M28.9 556.8h0M28.4 563.1h0M28.6 561.4h0M28.4 562.9h0M27.3 556.5h0M26.3 561.1h0M26.7 560.6h0M28.3 562.8h0M26.4 567.3h0M28.2 561.2h0M29.0 562.5h0M30.3 566.9h0M26.9 567.5h0M31.8 562.2h0M27.9 561.3h0M29.1 561.6h0M29.0 563.4h0M27.9 565.9h0M29.0 559.5h0M29.0 567.4h0M28.0 567.2h0M28.5 563.9h0M28.4 559.9h0M29.3 563.1h0M33.2 561.8h0M27.3 561.5h0M27.4 565.8h0M30.7 560.6h0M27.5 562.6h0M31.4 560.8h0M29.4 564.9h0M31.5 552.4h0M32.2 565.1h0M29.3 564.1h0M28.9 568.3h0M29.3 563.3h0M31.2 559.4h0M30.9 560.0h0M29.7 560.7h0M28.2 557.9h0M28.5 563.0h0M31.3 564.0h0M33.7 561.1h0M25.6 565.6h0M28.5 566.0h0M28.4 564.3h0M28.6 562.5h0M24.4 561.4h0M26.1 561.4h0M27.5 564.7h0M33.4 562.5h0M28.0 562.3h0M26.1 565.2h0M24.7 563.5h0M22.6 561.8h0M28.3 559.1h0M27.9 559.7h0M28.7 563.6h0M31.3 567.5h0M27.6 562.1h0M29.6 560.6h0M34.3 565.4h0M28.7 557.2h0M34.8 563.8h0M27.3 563.4h0M30.0 564.3h0M32.3 562.0h0M23.2 564.4h0M31.7 559.0h0M43.2 597.3h0M51.7 564.7h0M38.0 590.3h0M47.6 537.4h0M64.8 567.6h0M33.6 570.9h0M49.4 576.0h0M48.9 538.1h0M31.7 583.0h0M32.6 566.3h0M29.8 600.2h0M52.5 536.6h0M56.9 535.7h0M27.1 569.7h0M63.4 548.3h0M41.3 572.0h0M65.2 535.0h0M56.5 539.3h0M93.0 525.5h0M62.0 539.1h0M34.6 565.6h0M42.7 589.0h0M59.7 572.3h0M54.4 537.1h0M66.1 538.8h0M45.7 588.6h0M34.0 578.6h0M48.6 557.5h0M54.4 537.1h0M93.9 539.7h0M49.2 541.3h0M43.6 604.0h0M47.2 621.0h0M36.3 600.9h0M36.9 561.9h0M55.5 561.6h0M42.4 545.9h0M70.4 535.5h0M38.0 594.0h0M39.0 587.1h0M28.9 569.0h0M27.8 610.1h0M38.3 589.9h0M41.3 576.6h0M62.5 538.0h0M69.1 547.2h0M48.3 537.4h0M60.7 537.9h0M55.8 595.3h0M54.8 546.5h0M87.3 525.2h0M49.7 554.6h0M64.4 535.4h0M35.8 588.7h0M37.7 598.8h0M49.5 602.6h0M40.8 565.5h0M67.6 534.0h0M46.2 572.1h0M54.2 538.6h0M47.5 536.7h0M32.1 564.4h0M29.9 576.3h0M86.2 525.5h0M76.2 529.8h0M34.4 562.9h0M62.3 537.4h0M43.8 596.3h0M34.9 607.0h0M55.0 578.0h0M52.0 549.1h0M31.9 570.1h0M48.3 595.2h0M35.7 600.1h0M30.2 575.7h0M47.0 543.8h0M30.6 576.4h0M44.5 568.2h0M51.2 580.7h0M34.0 597.4h0M50.6 538.5h0M48.4 564.7h0M30.6 568.3h0M55.3 538.7h0M31.0 604.5h0M87.2 524.9h0M33.4 583.3h0M27.7 570.7h0M36.6 591.4h0M66.0 540.2h0M50.6 548.4h0M66.1 605.7h0M37.9 573.4h0M97.2 533.7h0M37.7 573.8h0M44.4 578.3h0M52.9 572.9h0M44.5 600.7h0M64.2 539.6h0M54.3 537.3h0M50.0 543.7h0M64.1 539.1h0M94.5 529.0h0M67.3 578.8h0M41.8 589.7h0M54.4 595.2h0M26.0 563.3h0M69.8 546.6h0M41.6 569.7h0M49.1 550.2h0M79.9 572.1h0M28.8 559.6h0M31.2 565.4h0M50.6 597.1h0M35.4 590.3h0M66.0 539.1h0M30.8 601.4h0M39.2 562.6h0M52.4 579.6h0M59.9 538.9h0M37.1 551.4h0M30.8 572.8h0M72.7 533.4h0M70.6 550.3h0M62.6 538.0h0M41.0 554.5h0M28.1 565.4h0M86.6 536.6h0M34.6 570.9h0M40.2 587.0h0M39.1 590.7h0M27.4 573.6h0M28.4 557.6h0M58.1 545.5h0M60.8 576.9h0M59.8 536.9h0M36.1 596.3h0M74.2 537.0h0M47.6 538.4h0M63.6 534.8h0M72.4 534.0h0M80.4 529.9h0M84.9 530.4h0M39.9 566.5h0M53.4 588.9h0M39.9 597.3h0M43.2 586.6h0M75.4 530.9h0M98.3 527.0h0M80.2 537.6h0M43.4 600.3h0M77.1 529.2h0M49.6 539.7h0M62.5 537.1h0M39.5 568.4h0M74.3 533.1h0M31.5 562.4h0M51.1 581.7h0M66.5 533.7h0M62.5 543.3h0M53.6 544.0h0M36.8 595.2h0M38.2 575.6h0M46.8 545.8h0M40.1 581.6h0M42.6 568.0h0M36.3 548.8h0M87.8 522.8h0M43.8 595.9h0M35.3 597.9h0M68.5 543.7h0M38.3 567.7h0M45.1 602.4h0M75.2 544.3h0M29.8 603.9h0M42.9 571.1h0M29.6 577.5h0M36.0 596.9h0M37.9 593.8h0M36.4 564.3h0M65.3 538.8h0M49.9 592.1h0M58.5 570.0h0M32.7 571.4h0M54.1 541.0h0M54.6 593.1h0M40.5 575.4h0M96.6 539.0h0M85.1 527.4h0M74.5 529.5h0M73.4 531.1h0M25.2 566.2h0M34.0 549.8h0M91.9 527.4h0M29.7 572.8h0M66.3 608.5h0M43.2 572.8h0M61.6 541.5h0M32.4 554.9h0M59.2 544.3h0M73.5 534.5h0" stroke="rgb(71, 44, 122)" stroke-opacity="0.52" stroke-width="1.6" stroke-linecap="round" fill="none"/>
<path d="M29.2 565.2h0M29.0 560.7h0M31.1 560.4h0M29.4 568.0h0M25.1 567.4h0M29.4 563.5h0M29.8 565.1h0M28.2 563.3h0M28.4 564.0h0M28.3 565.6h0M28.1 560.9h0M25.9 560.7h0M34.8 564.9h0M26.5 564.4h0M35.3 565.4h0M53.6 542.2h0M59.9 554.7h0M34.7 586.1h0M87.8 524.3h0M97.7 527.6h0M63.3 534.8h0M65.9 621.8h0M46.8 612.4h0M60.2 592.6h0M67.6 574.0h0M32.7 597.5h0M56.8 536.3h0M47.7 536.8h0M39.6 563.4h0M46.8 550.9h0M40.1 547.2h0M40.7 565.0h0M49.0 570.3h0M81.7 526.0h0M56.7 549.5h0M53.3 543.1h0M52.4 553.6h0M67.9 536.5h0M44.6 544.3h0M38.6 605.4h0M59.7 573.4h0M68.9 530.9h0M39.8 630.2h0M34.5 597.7h0M33.2 560.7h0M40.6 597.0h0M46.6 551.9h0M72.5 542.2h0M27.4 566.4h0M46.5 588.5h0M60.8 535.4h0M96.8 525.8h0M41.6 574.6h0M49.8 601.6h0M51.1 605.8h0M101.1 531.1h0M50.4 559.0h0M70.4 541.2h0M26.8 613.4h0M71.8 563.0h0M45.2 594.8h0M42.3 554.6h0M88.5 522.4h0M25.2 571.5h0M97.4 528.0h0M35.8 591.9h0M48.5 609.9h0M46.2 546.4h0M45.5 600.6h0M41.6 589.4h0M53.1 605.9h0M41.1 574.4h0M90.8 523.2h0M37.9 576.1h0M58.7 548.8h0M36.2 593.9h0M27.4 611.6h0M27.6 617.5h0M49.1 563.2h0M33.1 561.4h0M75.2 540.7h0M47.7 537.7h0M93.2 529.9h0M32.1 573.7h0M41.9 566.3h0M61.7 601.0h0M67.9 545.3h0M34.5 562.1h0M52.9 537.2h0M40.5 566.7h0M69.9 531.3h0M33.7 603.3h0M75.0 530.7h0M27.4 575.7h0M39.4 560.0h0M64.5 544.5h0M56.6 582.4h0M60.6 542.5h0M39.5 563.4h0M53.3 573.1h0M79.8 532.6h0M70.9 580.4h0M39.8 584.2h0M49.3 608.8h0M58.2 544.1h0M35.3 599.4h0M43.2 573.9h0M36.1 601.3h0M30.6 597.9h0M56.7 605.9h0M74.6 536.2h0M82.3 528.4h0M69.9 560.2h0M32.1 605.2h0M40.7 562.5h0M59.4 562.0h0M85.8 526.8h0M33.8 583.9h0M43.5 597.2h0M66.6 532.8h0M42.7 576.6h0M94.3 525.4h0M33.2 577.9h0M37.8 586.3h0M62.3 565.8h0M66.8 545.6h0M92.3 522.9h0M55.9 544.2h0M39.3 631.6h0M88.0 522.2h0M44.9 561.8h0M41.9 594.5h0M36.8 584.0h0M73.0 574.1h0M52.8 539.9h0M68.3 577.9h0M49.6 593.0h0M49.7 565.0h0M48.1 584.8h0M43.1 584.2h0M71.3 578.5h0M44.4 570.6h0M29.1 628.3h0M59.6 576.7h0M44.2 551.2h0M33.7 561.4h0M73.2 548.2h0M39.7 550.7h0M50.9 559.6h0M71.6 534.5h0M30.1 601.5h0M51.9 553.2h0M44.3 564.9h0M31.3 571.5h0M48.7 612.4h0M50.3 604.5h0M38.6 572.2h0M45.6 593.5h0M77.6 556.4h0M68.2 558.7h0M34.0 570.6h0M53.0 552.0h0M64.4 542.2h0M47.0 556.3h0M31.8 564.6h0M71.3 546.4h0M73.8 601.3h0M68.9 537.4h0M38.9 605.8h0M48.0 573.3h0M43.2 573.7h0M52.8 537.2h0M99.3 527.7h0M53.3 545.3h0M50.9 537.5h0M42.7 591.9h0M74.1 550.4h0M35.5 556.7h0M48.7 547.4h0M40.9 570.3h0M61.5 534.2h0M67.7 567.3h0M40.3 564.0h0M38.0 583.3h0M37.6 607.3h0M77.5 595.6h0M43.6 620.4h0M78.1 580.0h0M61.3 536.7h0M56.3 619.5h0M55.2 598.5h0M33.0 603.7h0M47.4 598.1h0M50.6 582.5h0M50.0 575.3h0M42.0 596.9h0M48.9 570.5h0M64.8 551.9h0M41.0 601.6h0M40.1 600.9h0M42.2 623.1h0M39.6 585.7h0M88.6 534.4h0M76.4 546.3h0M73.7 535.4h0M42.4 596.1h0M48.0 602.2h0M52.9 542.9h0M40.1 598.7h0M83.0 533.5h0M51.2 579.0h0M43.6 613.4h0M34.1 589.6h0M89.2 522.3h0M67.1 534.9h0M50.4 597.0h0M63.6 618.2h0M65.4 584.1h0M67.7 550.5h0M59.8 596.5h0M29.6 608.3h0M57.6 543.5h0M32.2 577.2h0M59.1 571.1h0M61.6 540.9h0M51.7 571.3h0M43.1 568.0h0M33.5 563.0h0M62.8 543.4h0M56.2 563.3h0M47.5 598.3h0M46.2 571.6h0M50.4 554.8h0M50.4 609.9h0M57.3 566.3h0M79.4 540.6h0M45.8 595.6h0M64.7 536.3h0M44.6 593.2h0M30.0 568.0h0M30.6 581.1h0M30.3 563.1h0M41.3 565.0h0M22.7 563.9h0M38.6 588.6h0M33.9 597.8h0M33.4 603.5h0M59.1 592.7h0M102.1 530.7h0M33.4 563.3h0M58.8 537.2h0M55.0 546.1h0M51.4 541.9h0M59.9 605.5h0M40.1 631.8h0M33.5 566.8h0M37.8 546.2h0M78.7 531.7h0M63.2 547.2h0M35.8 632.9h0M63.1 581.5h0M45.2 549.9h0M100.3 536.9h0M49.7 554.6h0M37.1 609.9h0M67.2 537.0h0M47.0 576.5h0M65.0 546.1h0M58.2 543.3h0M52.9 575.9h0M66.8 542.6h0M61.9 580.7h0M48.7 576.3h0M86.5 539.6h0M62.0 575.6h0M36.3 610.9h0M33.2 600.7h0M49.2 556.0h0M34.6 566.6h0M46.2 553.6h0M50.4 593.3h0M40.6 595.9h0M29.8 571.5h0M56.0 558.0h0M47.7 554.9h0M46.1 547.2h0M72.6 562.7h0M27.6 573.1h0M74.3 545.1h0M56.0 572.1h0M26.5 569.9h0M41.9 572.0h0M38.1 569.9h0M31.0 569.1h0M73.8 535.0h0M43.0 576.1h0M57.0 566.7h0M44.6 547.2h0M29.1 569.5h0M69.0 531.0h0M56.1 568.1h0M52.3 550.2h0M59.7 540.0h0M39.1 627.8h0M31.0 600.7h0M28.2 574.5h0M41.9 569.2h0M31.0 628.9h0M63.2 540.0h0" stroke="rgb(63, 70, 135)" stroke-opacity="0.52" stroke-width="1.6" stroke-linecap="round" fill="none"/>
<path d="M52.2 586.6h0M86.1 529.2h0M62.0 557.9h0M36.3 561.3h0M89.6 583.8h0M54.6 551.8h0M39.2 549.1h0M31.5 607.6h0M51.8 602.0h0M76.1 531.7h0M39.2 580.5h0M52.2 618.0h0M40.4 564.0h0M99.4 529.9h0M38.5 606.5h0M95.2 540.8h0M41.8 557.6h0M38.4 572.3h0M54.8 541.5h0M47.8 553.1h0M46.6 553.9h0M46.0 560.7h0M60.1 570.5h0M67.3 585.6h0M51.8 588.9h0M89.8 552.8h0M54.5 565.0h0M41.6 596.2h0M61.0 582.4h0M41.9 604.1h0M33.3 573.5h0M81.8 541.2h0M91.3 540.0h0M57.1 621.0h0M55.0 618.3h0M52.1 540.7h0M47.6 593.1h0M47.1 604.3h0M83.0 577.7h0M59.7 538.7h0M26.5 616.7h0M70.2 563.0h0M52.8 595.9h0M59.9 598.5h0M75.6 552.0h0M34.4 612.5h0M72.0 558.0h0M81.0 527.1h0M29.5 605.1h0M71.8 553.5h0M60.6 553.1h0M66.0 561.6h0M124.4 594.2h0M67.6 540.0h0M52.5 607.6h0M83.4 590.4h0M70.5 543.5h0M68.4 549.9h0M72.8 604.5h0M57.4 560.7h0M66.2 614.9h0M70.1 585.1h0M68.0 556.2h0M67.4 622.3h0M38.2 597.6h0M39.3 599.5h0M99.3 531.6h0M88.5 526.1h0M52.0 579.5h0M69.3 570.9h0M69.3 531.8h0M88.1 526.2h0M67.9 581.0h0M48.4 592.1h0M79.4 529.8h0M33.5 572.3h0M56.4 579.8h0M86.4 528.3h0M57.1 581.6h0M68.6 552.2h0M49.8 583.5h0M53.7 562.1h0M61.7 585.2h0M34.5 612.6h0M84.8 533.1h0M46.6 602.2h0M70.5 545.9h0M32.2 583.0h0M93.2 563.7h0M67.3 532.4h0M77.6 597.1h0M61.6 544.0h0M37.9 560.9h0M34.3 558.9h0M54.1 591.8h0M65.7 584.5h0M73.4 534.3h0M49.6 597.8h0M44.5 578.4h0M77.0 531.5h0M86.6 526.6h0M53.9 558.7h0M65.0 624.1h0M65.1 542.6h0M75.5 598.0h0M56.8 604.0h0M38.2 615.7h0M66.3 544.0h0M56.2 538.8h0M85.9 525.1h0M90.8 527.9h0M86.1 535.1h0M93.7 535.0h0M92.8 523.0h0M67.2 554.0h0M100.1 525.7h0M71.2 613.6h0M87.8 522.6h0M39.9 581.0h0M57.7 564.4h0M59.5 543.9h0M26.7 619.5h0M58.6 567.8h0M61.5 554.6h0M92.5 527.0h0M90.6 523.1h0M56.7 544.7h0M48.5 559.5h0M51.5 580.4h0M61.8 603.3h0M43.2 571.9h0M98.1 539.1h0M79.5 530.0h0M52.2 581.6h0M37.8 586.7h0M46.3 592.1h0M39.5 587.2h0M95.3 529.5h0M51.4 597.2h0M56.5 582.3h0M58.1 618.3h0M67.8 544.1h0M40.1 573.4h0M54.9 584.1h0M58.3 542.2h0M53.3 601.4h0M61.4 627.4h0M57.8 624.6h0M69.2 552.4h0M30.7 605.2h0M38.6 584.3h0M69.4 554.1h0M31.9 571.4h0M72.6 529.8h0M45.7 590.5h0M45.3 602.2h0M60.3 556.9h0M70.0 559.9h0M103.6 584.2h0M88.4 532.4h0M30.7 607.0h0M88.9 551.7h0M30.4 612.7h0M53.5 575.7h0M61.6 570.9h0M49.1 613.4h0M74.2 547.3h0M36.0 566.6h0M65.0 580.0h0M66.5 617.0h0M100.3 527.1h0M70.1 577.3h0M33.1 554.1h0M51.7 590.1h0M52.2 542.1h0M45.5 615.7h0M63.3 537.3h0M100.9 552.2h0M49.8 605.9h0M54.9 625.1h0M36.2 560.5h0M53.5 562.6h0M45.1 604.8h0M49.9 613.2h0M73.5 530.4h0M54.8 606.5h0M46.4 593.2h0M83.9 531.3h0M95.6 544.7h0M29.5 603.3h0M81.1 525.9h0M54.6 537.4h0M30.7 595.8h0M65.7 609.8h0M69.4 620.3h0M37.9 568.9h0M56.5 544.7h0M52.0 540.1h0M28.9 565.8h0M49.0 597.6h0M44.0 593.5h0M42.5 616.4h0M55.5 618.9h0M51.9 544.4h0M63.0 558.8h0M82.3 530.0h0M74.3 530.4h0M41.3 586.1h0M82.1 605.6h0M64.4 538.8h0M57.0 586.2h0M91.1 537.3h0M30.5 607.6h0M38.6 613.9h0M72.8 531.2h0M48.9 617.7h0M58.0 591.9h0M69.8 584.0h0M90.4 524.3h0M35.9 581.3h0M63.5 550.8h0M48.5 570.7h0M102.5 531.8h0M75.0 570.4h0M98.3 530.2h0M51.4 555.7h0M35.9 595.9h0M70.0 542.5h0M74.3 548.5h0M56.7 543.6h0M29.0 611.5h0M69.3 533.5h0M44.1 611.3h0M51.1 546.7h0M50.6 564.2h0M59.3 618.1h0M71.4 580.6h0M58.2 609.3h0M35.1 576.6h0M57.1 582.2h0M94.4 564.2h0M44.3 568.7h0M72.7 551.8h0M72.4 540.2h0M36.9 582.1h0M88.1 531.4h0M47.1 541.4h0M70.0 531.2h0M66.4 633.1h0M59.2 577.3h0M72.4 553.3h0M67.5 599.2h0M64.8 592.3h0M44.5 603.9h0M58.0 545.8h0M78.3 548.1h0M52.1 547.9h0M84.1 526.7h0M44.5 611.8h0M48.8 567.2h0M76.6 536.4h0M42.3 608.7h0M72.8 544.7h0M95.3 537.4h0M81.0 532.1h0M60.1 592.8h0M34.6 567.9h0M47.8 555.9h0M41.8 624.0h0M58.3 622.7h0M34.1 582.3h0M48.1 600.3h0M37.8 570.2h0M54.4 589.1h0M80.9 622.8h0M89.6 542.5h0M87.2 546.5h0M46.1 558.8h0M41.2 622.1h0M27.9 627.0h0M92.4 523.5h0M60.6 620.5h0M91.2 524.3h0M59.1 571.7h0M37.2 610.5h0M29.7 605.7h0M49.2 579.2h0M98.6 530.4h0M54.3 565.9h0M73.6 540.5h0M50.5 550.3h0M49.2 576.3h0M33.3 607.8h0M70.0 537.0h0M41.9 582.0h0M100.0 524.7h0M61.3 551.7h0M40.7 560.3h0M36.0 612.2h0M85.5 534.1h0M50.7 543.5h0M59.6 536.7h0M34.1 562.3h0M66.2 586.1h0M70.0 569.6h0M91.9 528.4h0M67.0 534.2h0M46.6 576.4h0M34.1 607.4h0M72.3 563.0h0M29.5 613.6h0M31.9 569.7h0M82.3 553.9h0M38.2 583.1h0M46.7 603.4h0M62.7 628.5h0M35.0 606.7h0M64.0 544.1h0M71.9 533.2h0M73.9 538.1h0M55.0 574.8h0M67.2 578.4h0M47.5 563.7h0M55.9 621.3h0M89.0 538.7h0M55.6 577.2h0M68.7 546.3h0M32.9 610.7h0M48.9 605.4h0M41.4 578.0h0M57.8 592.1h0M53.9 549.4h0M42.9 585.7h0M59.1 578.5h0M97.8 524.9h0M35.0 574.8h0M74.0 568.7h0M52.7 545.2h0M52.6 600.3h0M53.9 546.2h0M70.0 552.1h0M55.7 561.6h0M81.9 525.2h0M38.7 564.0h0M58.2 561.0h0M68.0 543.1h0M50.4 602.6h0M65.6 536.8h0M89.2 526.0h0M78.5 585.2h0M89.4 529.3h0M66.2 538.1h0M63.9 577.9h0M92.0 547.0h0M54.0 600.9h0M67.7 595.9h0M65.0 539.4h0M47.5 537.5h0M35.0 581.9h0M80.0 543.3h0M56.9 542.0h0M30.1 571.5h0M51.2 584.6h0M67.5 595.6h0M34.8 614.7h0M59.2 546.2h0M77.7 532.9h0M43.5 608.0h0M74.7 536.2h0M65.7 537.1h0M51.1 569.0h0M60.0 546.4h0M83.9 536.6h0M34.7 605.5h0M53.4 590.0h0M57.3 571.8h0M41.7 617.6h0M53.2 614.1h0M31.0 614.5h0M34.2 577.3h0M39.7 591.9h0M88.8 526.0h0M80.2 608.5h0M81.2 567.7h0M38.9 584.6h0M30.5 610.8h0M55.0 574.0h0M35.0 569.1h0M42.2 570.1h0M54.5 542.0h0M90.7 529.2h0M57.2 588.5h0M62.3 543.4h0M69.1 558.9h0M63.1 551.9h0M89.5 526.3h0M87.7 603.0h0M34.9 578.5h0M65.1 537.5h0M51.5 542.9h0M75.8 615.8h0M32.1 571.5h0M49.6 592.9h0M40.7 566.5h0M71.9 580.0h0M62.5 571.3h0M54.8 578.0h0M30.0 630.3h0M66.6 535.5h0M70.2 541.9h0M82.6 562.1h0M70.4 574.0h0M77.2 544.3h0M47.5 545.1h0M98.9 572.2h0M57.4 561.0h0M45.7 615.5h0M29.0 615.4h0M54.8 554.1h0M53.5 582.9h0M49.1 598.3h0M64.7 546.8h0M50.4 550.4h0M40.9 583.2h0M56.7 593.1h0M66.7 532.8h0M83.8 535.7h0M48.4 580.5h0M65.0 608.5h0M33.1 585.2h0M46.1 563.2h0M38.3 580.7h0M78.3 533.1h0M98.8 530.2h0M86.3 524.5h0M62.0 623.6h0M51.7 551.2h0M30.7 629.9h0M62.3 545.3h0" stroke="rgb(54, 93, 140)" stroke-opacity="0.52" stroke-width="1.6" stroke-linecap="round" fill="none"/>
<path d="M34.9 598.6h0M58.7 561.1h0M63.5 577.7h0M54.9 584.6h0M67.2 575.8h0M106.2 545.3h0M86.9 587.6h0M84.5 538.9h0M52.8 550.9h0M80.2 567.4h0M41.7 623.1h0M102.4 584.1h0M37.9 584.3h0M73.8 551.0h0M94.4 556.7h0M54.6 563.6h0M99.2 533.9h0M47.2 612.4h0M43.3 578.3h0M76.8 574.3h0M46.6 591.3h0M50.9 579.1h0M75.7 535.6h0M91.6 531.0h0M97.1 552.3h0M75.6 581.5h0M69.9 550.9h0M48.9 609.5h0M47.6 591.4h0M92.8 529.4h0M67.5 618.6h0M58.8 615.5h0M96.8 531.1h0M60.4 601.8h0M42.0 589.5h0M69.5 563.7h0M75.6 562.4h0M49.0 592.5h0M75.1 609.1h0M29.2 622.4h0M42.6 569.7h0M44.6 619.7h0M35.0 618.3h0M48.9 609.7h0M42.9 569.5h0M87.2 557.3h0M47.0 607.7h0M43.1 552.2h0M61.7 545.9h0M67.5 532.3h0M66.3 548.2h0M69.8 565.2h0M50.6 584.5h0M82.6 549.0h0M48.8 585.0h0M53.6 560.6h0M57.2 586.4h0M39.4 608.6h0M91.5 530.3h0M52.7 629.3h0M77.4 531.0h0M85.3 554.8h0M66.7 634.1h0M42.3 579.6h0M42.2 573.7h0M59.6 553.7h0M53.1 613.7h0M39.7 601.3h0M48.7 556.8h0M94.3 524.5h0M38.6 615.9h0M77.5 622.2h0M45.4 561.0h0M43.2 567.5h0M88.7 541.8h0M44.8 582.9h0M93.8 534.4h0M36.2 555.1h0M26.8 574.2h0M45.4 573.1h0M84.8 525.9h0M78.7 607.6h0M99.3 528.4h0M95.4 544.1h0M50.7 569.7h0M100.2 540.5h0M75.9 596.5h0M43.6 565.0h0M51.2 606.7h0M48.2 543.8h0M42.3 589.1h0M56.9 627.4h0M111.7 602.0h0M101.0 553.5h0M94.8 543.4h0M69.1 625.1h0M44.5 578.1h0M64.7 563.8h0M57.9 548.5h0M73.0 619.8h0M47.0 608.8h0M33.6 597.6h0M85.4 528.4h0M59.2 595.6h0M49.6 610.2h0M76.9 555.4h0M31.9 609.3h0M40.7 586.2h0M50.8 606.0h0M84.1 571.8h0M63.7 607.5h0M64.8 551.1h0M50.0 568.4h0M90.1 562.3h0M88.5 573.1h0M77.6 537.3h0M63.6 542.8h0M69.2 586.8h0M90.8 547.1h0M57.3 570.3h0M47.0 554.3h0M75.2 546.9h0M97.8 526.3h0M66.5 567.3h0M57.0 609.7h0M63.3 572.8h0M44.5 570.9h0M100.0 524.6h0M27.9 626.2h0M82.4 529.1h0M58.0 559.8h0M72.2 608.2h0M84.0 536.7h0M79.9 575.8h0M56.2 605.8h0M74.2 573.6h0M27.8 610.4h0M53.5 546.1h0M58.0 625.7h0M60.1 623.7h0M100.5 548.7h0M50.0 589.7h0M74.8 543.5h0M56.9 559.2h0M78.7 530.1h0M47.5 617.9h0M68.8 552.7h0M50.7 619.0h0M48.1 612.3h0M32.7 605.1h0M39.5 608.2h0M39.9 562.4h0M52.7 590.4h0M127.8 592.5h0M53.9 594.2h0M39.2 575.0h0M66.0 581.4h0M67.3 533.3h0M80.5 555.2h0M73.1 536.8h0M33.4 562.0h0M74.6 547.4h0M54.2 567.9h0M43.9 620.1h0M65.4 540.6h0M61.3 631.8h0M70.1 548.7h0M43.8 558.7h0M50.9 619.3h0M82.2 528.7h0M84.3 527.0h0M107.8 557.4h0M81.1 530.3h0M53.7 585.0h0M83.1 578.0h0M83.8 575.8h0M78.2 547.2h0M56.3 594.3h0M44.2 603.6h0M50.2 617.0h0M36.3 573.3h0M50.1 582.8h0M77.1 622.8h0M60.4 555.5h0M53.4 610.5h0M103.1 579.3h0M31.5 609.7h0M41.8 626.7h0M53.4 572.0h0M58.9 562.7h0M97.8 536.8h0M59.6 615.6h0M70.9 605.1h0M50.3 576.1h0M55.8 620.2h0M42.0 569.2h0M81.1 569.0h0M65.1 570.1h0M76.5 614.4h0M78.3 592.0h0M57.7 550.3h0M62.2 576.0h0M67.0 536.1h0M55.6 604.8h0M42.8 623.6h0M96.8 542.7h0M68.4 574.5h0M63.2 561.2h0M66.9 569.1h0M84.0 533.3h0M58.0 541.2h0M41.2 580.6h0M100.1 527.9h0M45.3 612.5h0M82.0 535.5h0M66.0 553.3h0M73.9 584.9h0M87.6 535.3h0M99.5 526.4h0M58.3 560.2h0M47.3 621.3h0M57.4 605.4h0M56.6 593.4h0M39.3 604.8h0M32.9 615.1h0M104.9 571.2h0M42.0 584.3h0M51.1 581.0h0M50.2 586.1h0M64.7 559.9h0M28.5 571.8h0M63.6 626.2h0M59.1 618.5h0M86.2 557.1h0M49.4 609.1h0M50.5 592.2h0M84.5 531.7h0M70.2 586.4h0M64.0 573.7h0M57.9 543.5h0M96.6 562.9h0M42.8 553.8h0M58.1 549.8h0M48.1 609.3h0M48.9 616.4h0M84.0 536.6h0M79.7 586.4h0M46.6 619.9h0M76.6 569.7h0M67.8 536.5h0M38.4 567.1h0M64.9 582.0h0M66.9 551.9h0M43.9 585.2h0M60.5 565.8h0M44.5 575.4h0M53.3 565.5h0M34.4 618.0h0M34.1 628.6h0M52.3 566.3h0M77.0 589.2h0M72.6 534.5h0M53.1 601.2h0M28.1 623.5h0M74.1 582.4h0M57.6 584.5h0M58.2 616.8h0M27.7 571.6h0M93.9 590.9h0M96.2 528.7h0M42.9 578.6h0M47.3 602.8h0M78.6 600.8h0M26.1 557.0h0M29.0 618.9h0M30.5 607.0h0M93.6 563.7h0M58.5 613.9h0M36.5 629.5h0M46.0 560.5h0M91.2 535.8h0M96.3 530.3h0M58.4 547.9h0M55.0 564.1h0M95.9 536.0h0M78.4 620.9h0M68.0 630.3h0M79.2 590.1h0M61.5 619.7h0M59.9 543.2h0M99.9 527.3h0M85.1 524.1h0M50.8 574.6h0M45.7 546.2h0M74.0 617.2h0M103.0 530.3h0M60.6 622.1h0M68.2 584.3h0M55.4 555.9h0M44.4 590.4h0M94.4 533.7h0M46.2 591.0h0M79.1 623.3h0M123.1 594.0h0M45.1 602.7h0M85.9 584.5h0M76.4 551.9h0M44.3 610.7h0M52.8 579.3h0M82.1 608.0h0M65.0 583.9h0M74.4 560.9h0M101.1 526.4h0M85.0 541.0h0M97.8 531.8h0M82.6 597.6h0M68.4 540.3h0M75.9 607.9h0M53.5 593.3h0M62.2 630.6h0M32.1 629.4h0M28.2 557.1h0M73.6 589.3h0M43.6 558.2h0M80.6 535.9h0M40.9 577.9h0M58.2 626.1h0M32.5 603.7h0M71.6 602.4h0M36.5 557.2h0M68.8 541.5h0M48.7 601.9h0M45.6 614.0h0M73.9 593.1h0M56.7 545.6h0M50.1 613.1h0M32.4 579.8h0M83.6 570.2h0M49.0 551.7h0M59.1 573.5h0M59.5 588.6h0M50.9 621.3h0M43.6 580.8h0M85.4 523.4h0M40.5 573.8h0M42.5 624.9h0M89.6 545.3h0M69.8 601.7h0M45.8 593.6h0M83.0 533.6h0M72.6 537.6h0M54.5 609.8h0M54.7 606.6h0M103.1 532.7h0M76.9 545.0h0M83.5 532.4h0M56.3 537.3h0M71.2 592.0h0M89.3 530.3h0M63.2 555.8h0M56.1 588.5h0M107.5 558.1h0M73.9 604.4h0M55.1 578.2h0M32.1 570.0h0M67.7 586.5h0M52.6 584.6h0M65.2 610.8h0M89.2 590.4h0M54.5 545.8h0M54.8 542.1h0M33.9 581.5h0M97.3 533.5h0M74.2 565.3h0M37.1 548.6h0M50.9 561.4h0M76.5 539.2h0M96.5 533.0h0M83.4 533.3h0M86.9 600.8h0M35.2 589.4h0M43.6 566.6h0M28.8 627.2h0M74.5 570.9h0M104.3 529.8h0M71.6 589.6h0M66.9 609.5h0M36.1 557.2h0M60.2 603.9h0M92.5 563.2h0M57.5 597.0h0M42.4 578.1h0M42.1 569.8h0M94.2 538.6h0M85.9 531.7h0M55.9 595.9h0M48.6 566.6h0M52.9 575.4h0M28.9 612.7h0M69.2 533.6h0M77.8 578.9h0M74.8 564.1h0M48.1 562.6h0M79.5 532.8h0M53.0 575.4h0M92.7 529.1h0M94.1 543.0h0M98.0 525.5h0M50.4 634.9h0M43.0 580.8h0M59.8 585.0h0M56.4 593.3h0M86.6 531.7h0M30.6 617.6h0M105.9 532.8h0M63.4 595.5h0M78.0 550.9h0M45.5 576.0h0M33.9 632.7h0M34.2 631.6h0M71.7 540.0h0M43.4 570.3h0M78.8 594.7h0M32.4 617.2h0M35.3 573.8h0M54.3 616.0h0M78.4 577.0h0M47.8 573.3h0M73.8 606.7h0M80.5 569.9h0M60.0 534.7h0M59.9 554.8h0M34.2 606.5h0M93.8 524.6h0M86.3 555.3h0M67.2 558.9h0M57.4 553.0h0M45.4 564.8h0M75.2 611.1h0M58.9 577.3h0M71.7 542.9h0M59.1 596.8h0M45.4 582.3h0M77.0 554.8h0M36.3 585.7h0M42.3 610.9h0M85.4 600.0h0M50.3 625.4h0M79.7 527.9h0M83.6 537.1h0M87.1 536.6h0M72.4 573.0h0M48.7 558.1h0M94.5 533.2h0M49.7 625.0h0M76.7 550.7h0M95.8 529.4h0M72.7 532.0h0M56.7 565.7h0M45.0 563.6h0M71.2 591.2h0M94.2 603.2h0M68.2 568.1h0M72.8 558.5h0M78.4 583.5h0M67.8 532.4h0M63.0 547.4h0M61.9 604.2h0M87.2 588.4h0M77.2 592.2h0M39.6 560.2h0M97.1 523.0h0M59.3 598.7h0M58.6 616.3h0M77.0 539.1h0M26.2 556.1h0M39.0 611.3h0M64.0 548.8h0M91.9 524.9h0M46.1 568.5h0M86.3 532.4h0M68.7 564.3h0M29.6 614.8h0M49.1 622.0h0M34.4 628.7h0M81.4 542.3h0M35.8 577.9h0M97.0 540.1h0M76.8 555.9h0M49.2 613.1h0M60.2 547.9h0M108.9 535.6h0M98.1 538.2h0M40.0 567.5h0M81.1 556.9h0M38.6 618.0h0M66.5 568.4h0M97.0 528.5h0M103.8 610.3h0M86.2 569.9h0M96.3 522.8h0M37.6 581.6h0M46.9 567.5h0M95.0 544.0h0M29.1 615.1h0M63.3 606.6h0M38.6 585.5h0M27.9 629.4h0M64.4 570.2h0M33.4 581.3h0M62.1 615.9h0M60.1 639.6h0M58.7 591.0h0M64.0 612.5h0M73.1 598.1h0M100.5 542.3h0M54.3 571.5h0M71.6 600.2h0M53.6 538.3h0M73.0 600.5h0M63.3 615.0h0M51.0 618.1h0M88.3 540.5h0" stroke="rgb(45, 114, 142)" stroke-opacity="0.52" stroke-width="1.6" stroke-linecap="round" fill="none"/>
<path d="M120.6 533.8h0M101.2 567.3h0M86.7 526.8h0M67.8 610.7h0M111.0 621.3h0M61.0 550.7h0M59.9 602.3h0M72.2 592.7h0M60.6 627.0h0M61.2 583.8h0M83.7 569.2h0M46.7 619.1h0M47.7 574.9h0M126.8 593.1h0M54.3 543.3h0M70.5 543.3h0M34.6 581.4h0M64.4 590.7h0M53.0 569.9h0M50.1 555.9h0M58.2 596.2h0M91.3 579.1h0M50.3 623.2h0M79.2 580.4h0M76.8 609.6h0M61.3 591.0h0M36.7 590.1h0M27.2 619.5h0M44.8 613.0h0M74.8 623.1h0M56.9 617.4h0M93.7 533.2h0M127.1 594.7h0M54.5 560.7h0M88.3 541.4h0M56.4 549.4h0M87.6 551.9h0M68.4 594.6h0M77.7 618.0h0M98.0 602.2h0M50.5 566.4h0M28.3 618.6h0M55.7 548.9h0M43.1 620.6h0M55.5 621.7h0M55.9 561.2h0M63.0 590.5h0M70.7 568.8h0M81.4 536.1h0M54.0 613.9h0M62.0 547.5h0M83.3 565.2h0M74.4 562.0h0M30.7 628.7h0M45.3 560.4h0M58.4 624.8h0M69.2 579.4h0M100.1 607.6h0M51.0 613.0h0M67.0 596.6h0M79.7 563.1h0M53.9 620.3h0M41.0 578.7h0M68.6 572.6h0M69.2 606.4h0M62.8 595.4h0M80.4 545.9h0M72.0 575.0h0M79.9 557.6h0M65.1 613.8h0M86.9 570.0h0M47.4 584.8h0M49.4 593.2h0M73.9 616.4h0M62.3 561.6h0M45.0 587.1h0M80.7 574.3h0M74.5 548.5h0M93.1 571.5h0M68.9 533.4h0M61.9 606.3h0M56.5 614.0h0M69.1 604.8h0M80.3 565.1h0M50.8 582.7h0M103.5 602.8h0M85.8 565.1h0M101.7 526.7h0M76.4 541.0h0M88.1 553.9h0M80.7 542.6h0M52.6 604.7h0M94.6 546.7h0M31.1 605.2h0M35.0 628.9h0M78.4 532.8h0M47.6 627.4h0M67.6 531.3h0M72.8 571.3h0M63.9 606.8h0M90.0 579.4h0M87.1 586.7h0M33.7 577.9h0M55.1 623.8h0M103.4 574.6h0M90.5 590.2h0M83.3 587.4h0M58.6 624.2h0M51.9 609.6h0M79.2 564.4h0M48.3 595.0h0M60.6 546.8h0M86.8 588.7h0M72.7 606.4h0M71.1 560.1h0M26.7 624.5h0M86.4 569.2h0M43.2 617.4h0M95.7 556.8h0M66.5 585.2h0M40.1 628.0h0M92.1 556.1h0M60.8 539.4h0M97.5 537.7h0M90.8 585.3h0M80.1 550.3h0M52.2 592.7h0M74.8 571.8h0M67.4 553.5h0M54.2 547.5h0M92.7 528.1h0M87.9 573.7h0M58.5 553.5h0M104.8 529.8h0M62.3 577.2h0M66.5 560.0h0M90.7 561.3h0M39.5 630.3h0M63.1 572.8h0M78.1 604.5h0M69.1 624.0h0M86.0 534.9h0M59.7 633.0h0M66.2 558.9h0M52.3 614.8h0M106.9 546.3h0M61.2 593.7h0M53.3 571.8h0M42.7 601.7h0M78.0 536.3h0M44.4 603.0h0M98.3 554.5h0M99.5 533.7h0M36.9 614.1h0M60.7 596.0h0M48.0 557.7h0M81.6 605.1h0M81.8 541.9h0M67.2 550.5h0M85.2 604.0h0M128.5 596.8h0M69.4 570.8h0M63.6 615.6h0M63.1 565.2h0M79.1 605.1h0M67.1 552.4h0M56.4 569.1h0M36.2 569.5h0M39.9 562.7h0M58.3 540.4h0M101.2 537.3h0M92.5 554.4h0M34.6 629.1h0M92.2 581.8h0M38.3 602.9h0M75.9 549.3h0M108.9 533.8h0M84.0 557.3h0M65.9 604.2h0M87.4 528.1h0M66.5 557.6h0M39.9 607.9h0M100.9 534.1h0M82.2 535.8h0M71.8 585.9h0M85.7 588.7h0M83.7 577.3h0M88.9 538.2h0M100.7 564.2h0M51.3 571.4h0M61.8 631.5h0M63.3 598.4h0M79.4 555.8h0M47.4 573.0h0M62.5 568.0h0M91.4 586.6h0M79.4 531.5h0M81.4 551.4h0M92.2 541.6h0M76.0 533.1h0M78.9 560.6h0M68.8 613.2h0M88.7 560.1h0M98.6 586.4h0M83.5 543.4h0M74.0 601.7h0M67.9 579.2h0M103.1 530.4h0M49.0 589.3h0M117.8 615.0h0M54.4 594.7h0M60.2 582.9h0M26.9 627.1h0M76.7 611.8h0M83.1 565.4h0M60.5 547.8h0M51.8 621.3h0M58.2 619.2h0M41.6 575.3h0M87.0 547.0h0M81.4 586.3h0M96.8 542.5h0M33.8 570.8h0M84.8 579.4h0M73.6 589.4h0M91.0 565.5h0M66.0 553.0h0M44.2 588.7h0M47.3 547.0h0M107.7 532.4h0M84.3 540.0h0M82.0 574.3h0M52.4 578.8h0M50.6 559.1h0M47.7 546.5h0M92.1 593.9h0M49.2 606.5h0M70.2 605.5h0M91.6 566.6h0M59.9 606.2h0M50.5 556.6h0M93.0 570.9h0M74.6 538.7h0M101.3 597.1h0M57.7 570.1h0M77.9 552.9h0M54.4 608.6h0M79.6 600.8h0M51.9 576.9h0M93.6 606.4h0M69.0 560.3h0M41.7 563.0h0M65.8 542.2h0M53.7 591.6h0M108.2 546.2h0M75.2 604.5h0M57.5 604.5h0M92.1 551.1h0M37.8 554.8h0M45.8 578.7h0M96.6 527.5h0M30.9 632.6h0M62.5 552.5h0M102.0 597.2h0M81.6 615.3h0M104.0 537.6h0M104.5 528.1h0M62.1 600.9h0M73.4 572.1h0M97.1 541.7h0M75.3 531.7h0M100.2 532.2h0M57.8 616.0h0M72.8 583.3h0M68.3 594.4h0M73.8 595.6h0M57.5 622.1h0M83.5 540.9h0M94.9 530.7h0M68.2 583.7h0M44.9 569.2h0M77.8 600.2h0M95.6 557.5h0M54.6 585.1h0M70.6 549.2h0M71.7 588.2h0M47.9 603.2h0M46.9 553.8h0M27.5 620.9h0M61.0 593.2h0M59.7 620.4h0M83.3 559.1h0M88.7 557.3h0M60.8 633.4h0M37.0 627.2h0M84.8 540.0h0M64.6 622.1h0M98.9 558.1h0M79.5 580.8h0M64.5 616.8h0M41.2 615.0h0M76.7 609.4h0M72.2 590.2h0M81.1 565.8h0M35.2 589.8h0M61.1 636.7h0M103.1 570.8h0M76.7 530.2h0M115.1 571.3h0M128.1 596.6h0M35.2 626.2h0M54.4 591.2h0M59.8 580.1h0M89.8 552.7h0M27.3 626.8h0M60.7 562.2h0M84.0 537.8h0M65.0 584.7h0M40.9 628.8h0M94.4 530.6h0M102.7 597.4h0M41.4 582.3h0M89.1 556.8h0M51.7 586.9h0M47.4 562.4h0M55.0 610.1h0M94.5 549.2h0M67.5 630.0h0M73.3 622.0h0M63.0 569.7h0M62.2 626.3h0M55.8 586.6h0M44.9 561.7h0M82.1 569.4h0M44.3 566.9h0M40.2 625.4h0M107.5 544.4h0M65.8 536.1h0M84.2 540.7h0M51.0 573.4h0M90.8 594.1h0M44.9 607.4h0M79.5 534.7h0M102.9 532.5h0M83.8 532.1h0M60.5 563.4h0M82.7 562.4h0M124.1 588.5h0M65.2 572.6h0M88.2 579.5h0M78.0 572.6h0M67.0 561.9h0M73.2 575.3h0M51.9 580.7h0M32.9 603.3h0M50.4 608.1h0M114.1 585.5h0M83.3 620.4h0M67.6 622.6h0M115.7 623.7h0M61.6 565.9h0M55.1 619.1h0M36.6 577.5h0M124.1 592.9h0M80.0 563.9h0M98.0 547.7h0M40.9 577.8h0M81.7 620.8h0M69.8 573.0h0M62.2 623.9h0M65.3 630.6h0M75.2 577.0h0M76.3 551.9h0M32.6 577.3h0M84.5 551.5h0M76.3 556.2h0M47.7 569.0h0M69.4 623.6h0M42.9 604.6h0M77.3 560.0h0M79.1 591.6h0M99.8 577.7h0M75.6 544.1h0M105.9 550.7h0M55.5 592.3h0M93.5 561.6h0M32.9 607.3h0M71.8 588.5h0M126.0 591.7h0M60.1 552.8h0M69.7 575.2h0M57.3 583.1h0M42.0 589.0h0M103.9 584.7h0M51.8 549.2h0M100.3 605.6h0M60.7 621.9h0M31.1 625.6h0M26.9 626.4h0M54.1 583.6h0M48.8 630.4h0M116.5 533.3h0M56.1 589.1h0M46.7 571.3h0M50.3 624.2h0M92.8 585.1h0M91.1 527.9h0M94.0 561.4h0M99.9 590.8h0M76.6 580.8h0M44.9 574.2h0M71.4 624.7h0M47.5 558.6h0M38.6 582.0h0M81.1 599.4h0M100.5 561.7h0M65.7 536.6h0M85.8 574.8h0M49.5 624.4h0M72.2 559.0h0M75.2 596.2h0M91.6 536.6h0M75.8 607.4h0M105.9 606.2h0M89.7 546.8h0M76.7 625.0h0M66.7 605.1h0M90.7 527.9h0M49.5 572.2h0M50.7 569.2h0M64.9 551.9h0M58.4 560.1h0M96.4 534.9h0M102.7 531.3h0M83.8 574.1h0M53.5 594.7h0M46.9 586.5h0M72.9 559.3h0M77.9 535.6h0M41.3 592.0h0M79.6 604.9h0M72.1 615.7h0M28.1 626.7h0M115.0 613.0h0M102.9 532.5h0M77.0 624.6h0M97.6 611.8h0M102.8 541.5h0M44.5 580.9h0M103.7 578.6h0M71.7 629.0h0M61.9 618.0h0M66.8 540.6h0M89.0 550.8h0M42.2 620.2h0M41.3 565.8h0M95.5 594.6h0M48.7 579.4h0M89.0 565.2h0M100.2 544.0h0M65.0 613.7h0M41.4 565.1h0M64.8 582.3h0M50.6 586.1h0M82.2 566.1h0M80.9 539.6h0M51.0 609.0h0M130.3 535.4h0M80.5 535.7h0M76.0 580.8h0M92.7 547.1h0M96.0 525.4h0M61.8 615.4h0M33.6 627.2h0M77.1 601.7h0M66.7 618.9h0M68.3 606.5h0M65.8 618.4h0M67.5 624.8h0M66.8 608.0h0M52.6 615.6h0M36.6 629.3h0M63.5 541.8h0M75.0 615.7h0M86.3 584.2h0M57.9 625.7h0M66.2 561.8h0M103.8 527.9h0M50.0 577.4h0M75.1 587.6h0M33.2 627.8h0M103.5 547.0h0M59.4 549.6h0M96.5 533.9h0M49.3 621.8h0M62.3 590.9h0M67.8 572.4h0M29.3 602.0h0M82.0 616.1h0M74.8 540.2h0M100.9 577.2h0M81.6 533.7h0M75.4 583.0h0M101.2 571.1h0M80.5 549.0h0M67.7 552.2h0M83.3 550.7h0M49.0 577.9h0M101.6 592.7h0M78.5 576.9h0M41.6 551.2h0M104.2 585.6h0M68.7 572.0h0M116.3 627.2h0M71.0 560.7h0M70.7 593.3h0M125.6 595.5h0M80.6 633.1h0M76.9 577.5h0M41.4 584.1h0M91.0 539.3h0M83.8 585.4h0M94.4 561.3h0M53.4 617.1h0M27.0 622.5h0M88.0 563.8h0M52.5 594.6h0M44.9 607.8h0M73.5 585.0h0M62.5 631.4h0M58.1 621.6h0M51.6 557.1h0M27.8 624.7h0M29.2 619.5h0M44.5 565.6h0M35.1 617.2h0M58.7 597.3h0M53.0 623.3h0M115.4 568.3h0M44.8 618.7h0M85.4 533.8h0M70.0 595.8h0M90.5 551.3h0M32.7 603.8h0M62.5 625.8h0M46.8 593.1h0M90.7 573.8h0M44.0 612.6h0M28.6 627.0h0M94.9 589.3h0M35.0 611.5h0M95.9 529.4h0M95.7 542.6h0M89.1 599.1h0M37.8 610.8h0M83.5 543.4h0M52.3 607.0h0M101.5 596.3h0M27.5 613.3h0M58.7 595.9h0M64.4 561.4h0M77.7 584.5h0M76.2 552.7h0M92.7 550.6h0M69.1 565.7h0M66.9 585.3h0M72.8 552.2h0M82.7 525.6h0M64.7 598.3h0M59.1 584.3h0M43.1 566.8h0M69.8 549.4h0M52.9 603.6h0M79.3 548.8h0M96.6 584.3h0M50.7 568.0h0M81.4 526.3h0M101.7 529.6h0M33.4 612.7h0M62.3 615.9h0M55.9 620.2h0M101.3 532.8h0M90.6 530.1h0M82.3 587.1h0M48.3 566.0h0M83.6 568.7h0M41.6 623.5h0M57.6 608.2h0M87.2 609.6h0M96.7 540.1h0M74.7 579.2h0M57.2 616.0h0M40.6 624.9h0M66.9 550.4h0M102.9 568.1h0M101.8 543.2h0M106.7 585.7h0M87.1 558.8h0M46.8 617.6h0M39.4 560.6h0M93.3 529.2h0M79.2 547.5h0M44.9 574.9h0M71.4 568.8h0M63.1 618.1h0M65.0 615.7h0M80.0 594.7h0M87.8 561.5h0M124.8 582.0h0M53.6 603.0h0M96.8 576.1h0M80.9 529.5h0M86.2 534.2h0M64.3 571.1h0M56.8 585.1h0M92.1 558.6h0M93.7 551.7h0M44.0 575.0h0M43.0 566.5h0M98.6 531.9h0M78.0 614.5h0M66.5 533.3h0M103.9 566.6h0M62.8 577.5h0M94.4 530.9h0M37.2 565.8h0M80.2 617.1h0M61.0 627.1h0M57.3 608.4h0M44.4 565.2h0M41.7 623.7h0M119.4 581.8h0" stroke="rgb(37, 134, 141)" stroke-opacity="0.52" stroke-width="1.6" stroke-linecap="round" fill="none"/>
<path d="M89.1 550.2h0M74.3 601.5h0M69.5 630.2h0M87.5 593.1h0M64.0 592.1h0M43.5 606.6h0M102.8 615.1h0M79.5 535.6h0M90.1 565.9h0M98.9 526.6h0M99.9 547.7h0M40.2 630.3h0M84.0 588.8h0M47.9 627.9h0M90.3 573.6h0M40.0 621.1h0M69.5 570.3h0M70.7 575.9h0M124.6 548.5h0M62.6 539.6h0M81.6 566.3h0M87.5 587.6h0M35.0 630.3h0M102.5 527.9h0M90.9 566.0h0M78.4 584.5h0M77.6 555.0h0M45.5 582.1h0M94.1 524.6h0M76.6 590.7h0M50.3 622.0h0M33.1 616.9h0M104.0 616.7h0M92.7 579.2h0M57.6 616.9h0M107.4 555.2h0M106.4 544.5h0M79.0 599.9h0M88.5 568.2h0M56.2 551.1h0M50.3 623.1h0M90.7 588.2h0M84.6 570.5h0M89.0 545.7h0M97.1 610.4h0M55.7 614.8h0M100.9 534.2h0M120.3 565.0h0M58.2 617.7h0M53.7 637.6h0M62.7 630.3h0M93.7 597.4h0M73.9 601.5h0M80.9 565.3h0M71.5 557.2h0M73.1 569.6h0M73.7 633.2h0M62.8 581.9h0M106.8 571.5h0M86.8 586.2h0M79.1 542.5h0M59.8 603.8h0M44.2 603.7h0M108.1 580.1h0M96.9 525.5h0M98.4 588.4h0M77.2 576.5h0M54.2 601.4h0M102.0 590.1h0M92.3 587.3h0M49.0 613.7h0M77.0 601.9h0M116.4 586.9h0M68.8 566.4h0M106.8 570.1h0M110.2 592.5h0M123.2 570.9h0M65.5 631.5h0M114.4 575.4h0M32.5 619.8h0M55.8 605.8h0M82.3 612.1h0M84.4 564.5h0M63.7 582.7h0M103.2 536.0h0M56.3 561.9h0M50.7 609.6h0M57.0 617.4h0M60.7 637.8h0M82.9 591.8h0M58.3 618.5h0M74.5 578.5h0M31.5 630.0h0M109.0 542.1h0M67.7 575.2h0M67.5 627.6h0M88.3 592.8h0M71.7 610.8h0M71.7 554.6h0M48.8 562.8h0M69.7 566.3h0M64.6 583.1h0M97.8 537.5h0M101.0 564.1h0M75.3 540.7h0M81.9 542.3h0M127.8 595.5h0M80.8 635.7h0M77.0 594.9h0M66.2 572.1h0M91.8 582.0h0M104.0 532.4h0M71.6 635.5h0M64.7 573.2h0M94.1 547.4h0M77.6 571.9h0M91.7 551.6h0M80.5 632.1h0M42.7 588.5h0M59.4 638.1h0M67.7 615.1h0M66.4 589.2h0M65.4 595.4h0M87.9 566.8h0M68.2 616.6h0M82.7 580.5h0M111.0 625.9h0M68.3 585.5h0M89.5 565.3h0M78.1 570.8h0M41.7 620.0h0M51.2 624.8h0M68.5 581.3h0M49.8 579.4h0M40.6 589.7h0M72.5 595.4h0M62.5 630.0h0M82.3 525.3h0M100.7 527.9h0M111.2 596.6h0M101.4 587.1h0M38.8 623.6h0M98.4 548.8h0M57.1 629.4h0M62.4 613.1h0M27.7 612.4h0M80.5 611.4h0M125.4 595.8h0M77.7 539.7h0M115.2 625.3h0M61.1 616.0h0M84.1 578.8h0M53.7 623.0h0M121.8 591.1h0M70.9 590.1h0M66.9 548.0h0M73.0 563.6h0M93.1 540.0h0M67.6 591.3h0M95.7 566.5h0M100.4 536.1h0M80.6 566.5h0M104.1 605.7h0M97.6 567.4h0M85.3 540.0h0M124.6 591.5h0M107.4 533.3h0M45.3 607.4h0M91.2 526.5h0M47.7 616.3h0M63.8 601.0h0M66.0 591.7h0M93.5 606.1h0M93.6 548.0h0M64.8 563.9h0M81.6 594.2h0M95.3 582.9h0M98.8 602.9h0M98.7 539.6h0M73.2 615.6h0M118.7 577.6h0M70.8 568.0h0M86.2 549.2h0M99.8 570.0h0M58.5 618.5h0M87.6 579.5h0M86.8 567.1h0M75.2 621.8h0M66.5 593.7h0M74.0 590.3h0M87.7 589.2h0M84.2 596.2h0M48.5 591.9h0M96.5 591.9h0M66.6 571.3h0M120.1 592.1h0M106.1 611.8h0M95.2 532.8h0M63.7 600.9h0M67.4 629.1h0M66.5 615.2h0M126.9 530.5h0M38.3 623.1h0M88.0 541.2h0M70.2 584.3h0M88.1 588.2h0M32.2 627.0h0M111.0 529.6h0M84.0 602.3h0M84.7 556.2h0M110.3 531.7h0M71.5 560.0h0M70.0 559.6h0M61.2 634.5h0M70.3 583.0h0M106.6 568.8h0M104.3 593.2h0M109.5 557.0h0M95.0 609.8h0M54.8 619.7h0M57.5 607.0h0M96.3 555.1h0M40.1 622.3h0M96.8 522.8h0M118.9 593.2h0M99.7 561.5h0M69.9 595.4h0M76.8 574.5h0M103.3 577.0h0M68.6 629.5h0M102.3 528.1h0M91.2 526.9h0M49.7 616.5h0M92.7 588.0h0M116.0 593.2h0M77.9 626.5h0M83.3 587.1h0M104.6 541.6h0M67.7 620.6h0M72.6 554.3h0M37.8 627.3h0M74.5 542.3h0M102.5 570.5h0M62.9 585.6h0M102.1 560.2h0M123.8 591.5h0M86.4 583.7h0M51.1 574.0h0M64.6 590.7h0M81.1 588.9h0M70.1 598.0h0M53.4 616.5h0M85.7 575.6h0M88.5 569.6h0M65.4 559.6h0M53.5 619.0h0M90.3 595.3h0M109.9 550.4h0M102.0 537.2h0M39.1 623.7h0M51.7 585.1h0M79.9 532.8h0M81.8 615.7h0M89.9 558.4h0M69.1 627.7h0M88.7 585.9h0M86.7 551.1h0M89.5 528.3h0M69.2 618.6h0M71.1 541.0h0M99.6 569.5h0M75.0 608.4h0M80.3 596.3h0M64.2 612.4h0M57.9 584.7h0M40.7 624.3h0M64.6 591.5h0M86.2 536.3h0M98.9 565.9h0M80.5 535.2h0M105.9 579.3h0M93.3 577.8h0M79.5 609.5h0M84.9 540.4h0M100.2 550.4h0M93.2 602.1h0M67.0 591.7h0M92.4 584.9h0M93.1 575.5h0M39.8 607.1h0M87.1 604.1h0M78.7 573.8h0M111.2 576.8h0M117.3 615.8h0M34.5 632.4h0M108.3 547.9h0M67.6 594.1h0M68.6 535.9h0M83.5 563.4h0M113.7 565.6h0M95.0 523.4h0M75.1 599.4h0M103.7 528.0h0M76.6 535.4h0M64.1 590.9h0M107.3 544.1h0M87.5 559.0h0M72.6 599.0h0M93.9 573.7h0M63.9 583.8h0M63.5 593.1h0M105.7 529.7h0M68.9 629.7h0M84.4 549.7h0M72.5 538.1h0M98.3 548.4h0M75.7 553.6h0M65.2 601.0h0M63.8 594.6h0M68.0 614.2h0M60.9 564.6h0M55.9 548.5h0M105.7 563.3h0M91.6 568.4h0M90.3 587.1h0M77.2 605.7h0M106.8 580.9h0M81.8 587.4h0M38.8 626.6h0M75.1 582.4h0M87.6 580.9h0M63.9 616.0h0M79.2 576.4h0M77.8 563.3h0M78.5 586.0h0M90.9 600.1h0M103.8 540.8h0M82.2 560.3h0M54.7 590.8h0M78.3 539.8h0M103.4 537.9h0M98.4 530.4h0M27.7 619.2h0M98.9 526.9h0M35.2 619.7h0M85.7 587.8h0M89.7 560.7h0M111.1 583.1h0M98.4 554.5h0M30.4 624.0h0M70.4 620.7h0M69.8 565.7h0M101.7 562.7h0M97.8 532.4h0M82.2 556.1h0M86.5 604.3h0M85.9 596.8h0M125.1 576.4h0M98.3 558.8h0M77.9 623.4h0M61.1 614.2h0M86.1 577.8h0M87.6 582.5h0M52.9 621.4h0M68.6 626.8h0M47.2 616.6h0M88.3 542.7h0M57.5 639.1h0M88.9 564.2h0M87.3 552.1h0M101.2 593.1h0M56.6 554.6h0M88.8 589.2h0M68.0 578.8h0M57.7 608.3h0M94.6 584.6h0M77.4 590.7h0M87.6 584.7h0M111.1 534.6h0M62.4 583.9h0M89.5 534.2h0M75.8 612.2h0M120.7 541.8h0M72.9 623.8h0M106.8 536.7h0M108.0 543.7h0M79.3 564.8h0M116.2 602.8h0M59.6 565.3h0M90.0 538.8h0M65.1 613.1h0M107.9 540.2h0M91.5 607.0h0M105.2 592.9h0M95.6 536.2h0M76.8 567.8h0M67.8 593.2h0M74.7 620.5h0M56.5 606.2h0M81.1 581.8h0M39.8 616.2h0M59.4 620.1h0M105.3 616.1h0M49.1 631.7h0M106.7 533.2h0M34.6 622.2h0M86.3 588.3h0M30.6 618.2h0M108.6 564.0h0M61.4 546.9h0M69.4 625.5h0M27.6 621.8h0M123.1 596.2h0M68.5 589.9h0M51.3 613.0h0M97.0 528.4h0M106.6 542.9h0M101.7 549.4h0M60.0 594.6h0M54.0 610.5h0M50.7 626.8h0M53.1 610.5h0M105.6 611.6h0M98.1 570.9h0M106.3 535.0h0M71.6 612.6h0M78.0 576.6h0M34.0 616.6h0M40.3 583.6h0M52.0 590.0h0M74.2 617.0h0M79.8 550.1h0M48.9 621.3h0M102.4 530.6h0M103.2 534.6h0M50.9 626.7h0M93.8 547.3h0M73.6 617.6h0M65.0 580.8h0M87.6 593.6h0M100.5 613.4h0M69.8 622.2h0M65.3 633.5h0M52.9 632.6h0M81.6 623.6h0M50.7 611.5h0M112.3 580.6h0M86.6 583.1h0M105.7 619.8h0M46.9 563.3h0M122.2 591.3h0M88.1 588.7h0M81.2 569.1h0M67.2 561.2h0M90.0 594.2h0M71.7 552.4h0M103.2 584.2h0M76.9 550.6h0M101.3 583.8h0M60.9 559.1h0M59.0 575.5h0M62.7 615.3h0M116.8 546.8h0M61.8 583.1h0M58.9 588.6h0M99.3 583.6h0M83.8 559.8h0M78.6 575.4h0M76.3 610.9h0M87.3 566.3h0M105.0 570.2h0M80.3 571.4h0M81.0 615.9h0M59.1 585.7h0M76.5 569.3h0M92.0 537.7h0M86.0 555.6h0M93.0 544.0h0M68.5 585.1h0M74.8 575.9h0M107.9 564.9h0M68.4 602.3h0M59.6 606.9h0M83.8 609.0h0M75.2 548.2h0M69.1 581.2h0M65.5 632.5h0M74.3 609.5h0M66.4 595.7h0M106.3 579.6h0M72.4 594.8h0M75.6 546.5h0M108.5 556.0h0M105.5 617.3h0M72.6 571.9h0M99.9 539.2h0M47.4 613.5h0M81.5 614.4h0M97.5 579.9h0M49.8 607.5h0M121.5 568.0h0M66.8 561.2h0M72.9 555.5h0M89.2 542.4h0M100.2 533.6h0M60.1 603.6h0M72.0 634.7h0M82.3 559.1h0M94.8 547.9h0M84.6 608.5h0M83.8 547.3h0M97.3 529.0h0M73.5 599.4h0M106.9 594.4h0M109.3 555.0h0M82.0 600.9h0M44.5 603.8h0M100.4 540.3h0M98.8 571.9h0M60.9 552.3h0M84.2 545.6h0M55.8 611.2h0M80.6 535.2h0M86.7 583.6h0M70.3 614.4h0M82.6 602.3h0M83.7 571.0h0M90.0 534.4h0M116.4 584.2h0M68.8 631.8h0M103.5 529.8h0M102.8 532.2h0M99.0 525.4h0M83.7 608.2h0M95.3 583.6h0M92.6 590.6h0M90.5 606.7h0M98.7 579.2h0M76.4 559.7h0M95.8 581.4h0M128.7 593.6h0M90.8 541.6h0M66.7 562.3h0M105.1 564.1h0M33.4 632.3h0M78.6 621.7h0M70.5 597.4h0M60.0 620.1h0M83.3 550.4h0M104.3 616.8h0M103.7 573.8h0M60.7 556.2h0M76.5 614.8h0M95.7 578.8h0" stroke="rgb(32, 154, 138)" stroke-opacity="0.52" stroke-width="1.6" stroke-linecap="round" fill="none"/>
<path d="M119.9 590.1h0M112.5 587.7h0M81.0 636.0h0M118.7 601.6h0M103.5 559.8h0M78.4 621.3h0M119.3 589.0h0M123.1 526.4h0M101.4 533.0h0M93.8 553.5h0M67.4 628.3h0M129.2 589.6h0M75.1 632.9h0M76.4 621.4h0M109.4 553.7h0M108.4 556.7h0M116.9 530.8h0M117.8 590.1h0M86.3 590.1h0M80.8 583.8h0M75.3 586.2h0M35.1 614.8h0M120.8 568.3h0M108.6 545.2h0M118.6 524.2h0M111.6 571.5h0M70.1 634.5h0M74.1 594.6h0M106.2 599.5h0M32.9 616.5h0M87.3 607.3h0M38.6 622.1h0M50.9 630.0h0M124.6 595.2h0M85.7 571.5h0M109.9 570.0h0M90.7 606.2h0M49.2 632.2h0M57.0 625.5h0M100.5 588.1h0M28.4 628.2h0M72.4 561.3h0M108.4 570.1h0M125.6 595.6h0M79.8 570.4h0M77.5 610.0h0M51.1 628.8h0M86.2 547.4h0M72.3 580.6h0M114.3 585.0h0M98.9 590.6h0M75.3 612.7h0M87.1 585.6h0M73.1 564.4h0M69.5 567.0h0M69.2 623.2h0M77.2 543.4h0M58.0 613.7h0M68.2 560.0h0M128.5 598.0h0M92.8 589.6h0M101.3 597.2h0M73.5 614.1h0M64.7 559.8h0M129.2 595.7h0M85.4 551.0h0M71.7 556.6h0M106.7 619.6h0M74.7 580.5h0M101.6 612.8h0M97.5 552.3h0M72.7 621.9h0M101.9 579.2h0M105.8 568.9h0M27.5 621.8h0M86.5 589.8h0M108.1 548.3h0M111.5 596.8h0M107.8 566.4h0M116.1 562.9h0M82.9 606.8h0M76.0 569.5h0M131.5 537.1h0M88.8 547.5h0M93.8 581.8h0M101.4 543.2h0M124.8 592.9h0M110.7 544.5h0M112.0 615.2h0M65.7 591.8h0M121.8 537.9h0M65.4 566.5h0M84.7 589.6h0M122.8 519.9h0M113.7 563.7h0M83.6 564.1h0M73.5 577.9h0M88.9 571.2h0M93.2 552.5h0M119.3 582.5h0M91.1 593.6h0M92.6 565.3h0M97.1 549.5h0M65.9 603.6h0M120.2 586.7h0M118.1 574.0h0M101.9 569.9h0M86.0 529.0h0M73.1 551.6h0M101.2 570.0h0M105.1 534.7h0M117.7 595.4h0M86.8 551.5h0M98.9 591.1h0M74.5 613.7h0M79.5 619.3h0M70.5 571.6h0M32.9 618.5h0M89.0 541.1h0M91.3 606.2h0M101.4 585.7h0M109.8 585.2h0M30.1 623.8h0M106.6 565.7h0M61.1 625.3h0M80.3 562.1h0M84.2 600.8h0M45.4 587.7h0M90.2 596.8h0M75.0 617.4h0M52.9 638.3h0M125.5 579.7h0M92.4 603.8h0M78.8 569.3h0M100.7 558.7h0M89.7 565.5h0M95.1 591.7h0M84.9 590.2h0M67.3 616.0h0M104.8 582.7h0M89.5 594.5h0M114.6 586.3h0M116.3 534.3h0M104.7 620.7h0M93.5 592.9h0M88.2 548.2h0M73.1 599.1h0M88.9 602.1h0M124.6 590.7h0M79.6 571.5h0M76.8 617.0h0M73.6 570.0h0M127.5 546.4h0M114.8 605.4h0M89.9 552.3h0M77.6 585.5h0M49.7 633.9h0M88.3 581.1h0M114.4 529.3h0M87.8 588.3h0M111.9 624.9h0M103.4 617.8h0M90.4 539.0h0M93.7 576.9h0M108.8 558.8h0M77.6 617.2h0M88.5 601.8h0M72.2 614.7h0M116.8 574.6h0M100.3 595.1h0M84.5 604.0h0M63.8 548.3h0M74.4 621.5h0M130.5 592.8h0M78.5 588.0h0M100.2 537.3h0M120.0 592.2h0M83.0 603.3h0M80.5 631.0h0M61.4 611.5h0M91.8 605.7h0M105.9 529.1h0M62.5 610.5h0M115.0 630.9h0M83.8 541.3h0M115.9 601.8h0M124.2 590.6h0M51.5 634.2h0M129.2 590.1h0M110.7 582.4h0M104.8 598.8h0M94.0 565.2h0M78.5 573.6h0M71.5 594.8h0M108.3 560.2h0M102.5 579.6h0M112.7 622.4h0M74.6 618.9h0M81.7 594.0h0M97.8 562.7h0M78.8 581.8h0M49.0 630.6h0M89.7 568.8h0M107.8 575.0h0M109.6 585.6h0M96.3 573.9h0M83.2 604.5h0M99.2 545.9h0M125.2 533.0h0M89.9 550.1h0M105.1 579.4h0M87.6 543.8h0M53.4 608.4h0M59.0 537.0h0M121.0 593.1h0M80.4 588.3h0M110.9 598.0h0M55.6 628.7h0M99.6 570.1h0M113.7 556.3h0M66.7 617.5h0M76.1 596.3h0M105.3 588.9h0M113.1 551.6h0M99.5 607.4h0M34.9 620.5h0M87.8 569.7h0M92.8 595.8h0M105.7 551.9h0M65.7 616.0h0M104.1 565.5h0M81.2 619.8h0M100.5 603.3h0M101.9 591.6h0M103.0 566.4h0M94.5 532.1h0M89.9 608.6h0M85.1 570.7h0M90.6 561.8h0M52.7 611.2h0M80.5 601.6h0M80.6 585.0h0M102.0 603.7h0M78.0 589.9h0M59.0 633.7h0M115.5 607.9h0M84.9 604.1h0M105.9 569.8h0M67.9 573.6h0M96.7 583.9h0M112.3 576.2h0M73.4 623.1h0M37.9 621.0h0M71.2 601.0h0M90.2 556.6h0M70.0 616.5h0M33.0 617.5h0M71.1 617.5h0M88.6 528.4h0M82.8 567.1h0M78.7 591.5h0M106.0 578.7h0M72.7 577.2h0M62.8 593.6h0M124.6 586.2h0M86.7 585.6h0M99.4 607.4h0M131.2 589.3h0M85.1 588.0h0M64.7 610.4h0M101.2 574.4h0M84.7 579.6h0M116.7 588.2h0M69.3 605.3h0M99.5 554.4h0M57.2 558.7h0M67.9 632.4h0M66.0 608.4h0M90.9 574.3h0M70.1 599.1h0M54.9 626.4h0M116.9 575.5h0M123.0 544.0h0M89.9 588.6h0M113.7 595.0h0M112.3 549.8h0M105.2 554.8h0M83.1 581.8h0M104.3 541.4h0M80.3 547.6h0M58.4 635.3h0M58.1 596.8h0M112.7 589.8h0M93.2 592.1h0M81.9 575.4h0M105.7 544.7h0M65.4 563.5h0M75.6 578.1h0M97.7 524.4h0M80.9 570.5h0M129.4 569.4h0M110.5 595.1h0M78.2 579.0h0M133.1 562.8h0M117.6 565.3h0M61.5 596.0h0M78.8 564.8h0M102.1 537.4h0M79.3 556.7h0M80.0 579.8h0M72.0 610.1h0M55.1 616.1h0M99.9 560.7h0M109.1 537.5h0M80.6 616.3h0M89.6 600.6h0M36.7 628.4h0M127.5 552.6h0M96.4 601.5h0M81.1 537.6h0M87.7 588.9h0M86.5 604.9h0M71.4 588.6h0M67.3 595.5h0M101.1 549.2h0M41.0 630.0h0M72.8 619.2h0M107.2 580.6h0M59.6 600.0h0M91.3 545.5h0M104.5 566.7h0M98.6 604.0h0M83.9 603.0h0M111.7 577.5h0M109.7 611.0h0M58.2 619.7h0M106.5 616.6h0M78.9 588.8h0M104.1 540.9h0M100.4 615.9h0M69.7 609.9h0M40.5 629.8h0M55.1 628.6h0M100.1 612.6h0M92.4 591.4h0M90.5 556.4h0M82.3 582.0h0M88.4 582.0h0M74.8 580.5h0M104.6 569.3h0M80.6 583.7h0M116.9 568.8h0M102.2 587.3h0M74.2 623.3h0M98.1 602.9h0M64.7 603.3h0M98.7 604.0h0M76.4 539.3h0M92.4 605.3h0M94.6 552.8h0M109.5 546.5h0M62.6 561.1h0M81.3 586.2h0M92.2 582.1h0M80.6 609.0h0M64.6 616.4h0M76.4 570.8h0M107.0 597.4h0M77.8 620.0h0M111.0 542.7h0M112.7 625.2h0M76.7 575.0h0M101.4 581.2h0M59.1 596.7h0M85.2 591.9h0M102.5 592.4h0M113.4 574.6h0M89.6 558.0h0M74.5 614.4h0M95.0 564.7h0M94.1 589.8h0M93.5 606.5h0M106.6 546.2h0M122.6 591.0h0M77.2 559.3h0M101.0 558.3h0M98.4 573.4h0M113.2 536.4h0M130.2 574.2h0M35.3 613.7h0M83.7 601.0h0M105.7 539.3h0M78.5 594.8h0M86.3 563.7h0M81.0 636.8h0M82.6 621.4h0M64.3 615.1h0M91.9 565.7h0M109.6 554.5h0M87.5 575.8h0M64.5 618.0h0M87.0 567.2h0M105.1 568.9h0M108.2 573.6h0M50.2 634.0h0M52.5 620.1h0M70.2 628.3h0M102.4 530.9h0M85.8 549.6h0M59.5 603.6h0M95.3 557.6h0M86.3 568.4h0M82.4 623.3h0M91.0 588.7h0M104.6 537.7h0M73.4 560.3h0M78.3 546.3h0M68.5 630.0h0M81.0 529.1h0M65.2 632.4h0M77.7 620.8h0M70.8 635.8h0M88.9 588.3h0M90.4 550.0h0M87.3 584.9h0M34.2 628.0h0M71.7 630.6h0M72.7 609.0h0M93.9 596.1h0M118.9 559.5h0M105.5 591.2h0M88.8 556.0h0M64.3 633.3h0M56.6 629.8h0M98.3 561.4h0M90.0 558.7h0M106.0 606.3h0M80.6 572.3h0M112.5 584.4h0M104.3 579.1h0M87.4 590.8h0M74.1 603.9h0M82.6 628.6h0M88.9 559.7h0M90.3 591.1h0M84.6 551.5h0M76.5 535.8h0M77.9 561.1h0M124.7 534.4h0M120.4 592.6h0M59.3 634.3h0M87.0 610.2h0M130.1 583.3h0M95.6 556.1h0M98.7 583.1h0M96.5 591.5h0M124.0 564.7h0M115.7 554.4h0M85.9 572.3h0M71.5 622.4h0M86.5 539.9h0M68.0 595.1h0M108.5 539.3h0M67.0 597.4h0M106.1 552.8h0M81.0 553.3h0M85.1 549.2h0M36.4 618.0h0M101.6 591.1h0M95.6 566.0h0M105.7 586.1h0M78.5 578.2h0M90.2 586.6h0M104.6 536.4h0M72.8 581.8h0M107.8 588.1h0M92.5 534.3h0M89.2 569.0h0M98.4 551.1h0M91.8 567.9h0M90.6 573.8h0M90.1 571.8h0M112.1 615.1h0M115.9 629.9h0M94.5 609.1h0M83.3 570.9h0M70.9 613.8h0M95.3 536.7h0M70.5 619.7h0M92.9 579.9h0M101.0 551.1h0M98.1 570.6h0M119.3 591.3h0M97.6 592.6h0M59.8 607.2h0M67.7 560.6h0M102.1 530.5h0M86.1 560.5h0M103.7 532.7h0M97.4 567.1h0M97.4 608.0h0M119.6 603.0h0M118.6 567.0h0M92.6 565.2h0M97.0 611.1h0M125.2 575.1h0M78.7 543.3h0M72.2 630.6h0M67.3 617.8h0M48.5 554.1h0M127.9 582.6h0M60.7 623.0h0M91.0 547.3h0M86.0 585.8h0M33.3 621.6h0M32.1 620.5h0M79.6 582.5h0M89.0 592.0h0M120.5 524.1h0M73.3 596.6h0M110.3 576.1h0M61.3 614.5h0M93.0 574.6h0M118.7 578.4h0M108.4 624.0h0M93.5 555.9h0M110.1 568.2h0M127.4 583.2h0M84.4 566.0h0M84.3 580.3h0M95.1 572.2h0M93.0 608.9h0M109.0 565.1h0M84.7 554.6h0M81.4 597.6h0M78.2 562.2h0M116.8 534.2h0M89.4 596.5h0M111.2 599.6h0M59.2 573.2h0M87.9 536.1h0" stroke="rgb(45, 174, 127)" stroke-opacity="0.52" stroke-width="1.6" stroke-linecap="round" fill="none"/>
<path d="M120.4 527.7h0M122.2 598.4h0M126.6 597.4h0M107.5 550.4h0M117.0 524.0h0M100.1 581.9h0M94.0 581.1h0M48.4 619.9h0M75.2 605.5h0M99.0 565.0h0M113.3 555.3h0M108.6 555.4h0M109.5 535.7h0M62.2 567.4h0M110.8 529.2h0M77.2 623.6h0M68.1 557.2h0M104.4 539.0h0M78.0 590.1h0M54.6 633.6h0M76.5 634.7h0M121.0 526.5h0M116.4 622.5h0M109.9 568.3h0M126.5 534.3h0M110.6 567.3h0M106.4 598.3h0M79.3 614.8h0M31.8 618.8h0M74.6 595.0h0M98.0 604.7h0M37.1 626.2h0M114.4 588.8h0M115.4 594.9h0M120.8 586.5h0M72.8 591.2h0M110.9 600.8h0M79.2 632.6h0M123.4 568.5h0M105.9 529.2h0M80.1 584.8h0M94.8 574.5h0M74.6 625.3h0M106.2 607.4h0M119.6 600.9h0M71.4 626.1h0M121.6 532.6h0M113.1 566.2h0M116.4 535.0h0M114.5 597.0h0M100.2 601.7h0M51.5 635.3h0M120.8 604.2h0M97.0 597.4h0M52.2 630.1h0M117.3 594.0h0M92.5 589.1h0M89.4 568.7h0M91.8 607.2h0M121.5 602.1h0M110.9 555.4h0M122.4 544.9h0M124.8 597.9h0M93.3 593.0h0M104.8 571.3h0M108.7 616.5h0M80.9 612.1h0M122.1 601.7h0M99.6 557.5h0M107.4 585.9h0M109.5 577.9h0M126.9 540.2h0M100.3 551.8h0M80.9 622.2h0M108.9 611.6h0M68.2 629.3h0M121.9 545.2h0M97.8 569.0h0M92.5 552.8h0M76.0 620.5h0M106.6 543.7h0M109.5 589.3h0M80.7 633.0h0M99.7 588.6h0M56.8 553.3h0M108.7 611.2h0M68.1 610.4h0M73.7 596.8h0M108.7 553.6h0M138.9 582.3h0M124.2 590.0h0M110.7 573.9h0M111.8 583.0h0M114.3 595.0h0M71.2 568.0h0M76.2 600.2h0M42.7 613.5h0M101.8 599.5h0M113.5 577.9h0M103.6 586.8h0M86.6 594.3h0M98.0 605.7h0M111.3 543.0h0M87.3 546.9h0M114.6 545.4h0M91.0 574.2h0M114.9 604.4h0M85.0 591.5h0M90.5 554.9h0M112.3 574.7h0M119.6 539.7h0M126.3 598.8h0M38.8 624.0h0M120.6 543.6h0M108.5 575.3h0M98.1 607.1h0M79.9 614.5h0M111.9 580.7h0M94.8 550.8h0M118.5 577.5h0M97.1 600.4h0M121.5 607.5h0M54.6 622.4h0M60.7 553.1h0M110.4 616.4h0M69.3 628.5h0M114.3 553.8h0M66.6 575.2h0M113.0 603.1h0M129.2 550.7h0M89.5 591.2h0M54.4 635.2h0M120.1 574.2h0M107.9 572.9h0M118.6 608.8h0M82.1 579.7h0M117.8 526.9h0M55.3 634.6h0M112.3 544.7h0M110.5 551.7h0M115.4 529.1h0M96.1 596.8h0M102.8 556.0h0M60.3 626.3h0M135.0 570.3h0M124.6 533.9h0M94.8 551.0h0M79.3 588.3h0M107.3 600.7h0M81.6 538.3h0M97.3 594.9h0M53.3 637.1h0M104.2 567.5h0M109.2 594.0h0M122.8 579.1h0M59.8 632.4h0M28.7 624.9h0M110.3 606.0h0M63.9 632.5h0M77.7 624.5h0M68.3 588.6h0M83.2 614.4h0M117.3 593.3h0M79.3 624.0h0M93.9 557.2h0M107.7 619.6h0M99.1 583.6h0M82.5 575.2h0M101.3 566.9h0M86.7 550.0h0M69.7 594.1h0M100.4 578.1h0M104.0 553.4h0M75.8 558.2h0M121.9 521.7h0M82.2 595.9h0M54.5 630.1h0M123.4 532.2h0M104.8 567.7h0M103.3 613.1h0M77.1 556.1h0M107.5 559.6h0M84.8 567.0h0M99.7 552.0h0M126.4 600.5h0M131.1 568.6h0M109.5 534.5h0M94.9 552.1h0M90.8 556.0h0M109.6 552.3h0M103.8 557.2h0M56.9 625.7h0M103.3 581.7h0M100.2 583.7h0M69.7 620.6h0M48.0 628.6h0M67.8 566.6h0M113.0 618.8h0M78.6 630.3h0M120.4 594.4h0M102.8 601.2h0M112.2 615.4h0M109.2 555.8h0M108.8 597.1h0M115.9 627.7h0M84.0 596.8h0M30.7 626.6h0M84.1 535.1h0M119.1 594.6h0M78.1 563.6h0M74.3 619.8h0M101.6 577.5h0M118.6 548.8h0M94.8 609.5h0M119.9 546.2h0M133.4 582.8h0M79.3 612.7h0M138.8 542.8h0M64.2 614.1h0M69.9 572.3h0M115.4 539.4h0M112.4 603.2h0M85.8 596.9h0M135.1 571.3h0M101.7 596.5h0M141.3 578.2h0M67.7 588.2h0M117.2 540.0h0M94.0 584.8h0M81.0 548.9h0M111.2 535.7h0M95.1 596.3h0M72.0 558.7h0M91.3 543.0h0M87.7 568.8h0M99.2 565.7h0M113.0 547.7h0M90.4 607.2h0M108.4 623.5h0M118.4 559.2h0M72.6 626.0h0M110.5 554.8h0M88.8 593.2h0M91.8 556.6h0M83.3 603.5h0M115.4 590.8h0M114.2 574.0h0M121.2 547.4h0M101.4 603.7h0M102.8 594.0h0M106.1 616.3h0M119.7 571.9h0M61.4 618.8h0M104.1 548.9h0M94.1 588.4h0M118.2 606.9h0M97.1 605.4h0M85.9 581.0h0M74.7 589.5h0M117.3 607.3h0M132.1 567.2h0M139.4 565.2h0M112.3 607.9h0M83.1 583.8h0M109.1 610.3h0M33.6 618.0h0M122.2 570.6h0M101.3 592.8h0M71.5 604.1h0M104.4 533.8h0M121.6 531.8h0M73.2 623.8h0M102.8 593.6h0M120.4 532.3h0M103.6 543.3h0M107.6 548.9h0M81.1 589.1h0M97.6 576.8h0M38.9 620.1h0M110.5 590.7h0M98.4 610.0h0M114.3 586.2h0M128.6 575.1h0M118.4 587.9h0M57.5 638.0h0M55.0 610.1h0M100.4 584.1h0M122.6 565.7h0M99.2 534.2h0M104.5 569.9h0M112.3 621.2h0M98.7 547.1h0M49.9 627.6h0M111.9 573.0h0M95.5 575.7h0M102.7 552.7h0M108.8 558.9h0M118.2 593.5h0M107.5 589.3h0M92.3 546.7h0M118.1 542.0h0M122.0 566.2h0M131.4 568.5h0M86.6 559.6h0M127.1 597.4h0M103.0 554.5h0M122.1 541.1h0M106.9 600.0h0M110.9 594.0h0M73.3 563.1h0M104.3 552.1h0M114.3 603.5h0M106.5 612.7h0M74.1 633.6h0M80.6 598.6h0M71.3 629.4h0M134.5 540.5h0M80.8 598.8h0M88.1 551.8h0M113.7 536.0h0M124.0 605.4h0M104.1 539.8h0M78.7 577.1h0M110.8 624.7h0M69.4 625.4h0M104.4 555.1h0M132.5 572.2h0M99.3 570.1h0M112.0 608.8h0M79.1 577.2h0M70.7 588.5h0M115.4 620.4h0M65.0 603.1h0M118.3 585.3h0M99.6 590.9h0M79.9 635.3h0M107.0 595.0h0M78.5 585.5h0M65.4 625.3h0M119.2 603.4h0M89.3 576.6h0M112.5 600.6h0M126.0 532.7h0M97.5 574.3h0M93.0 574.4h0M126.8 555.1h0M109.3 608.4h0M105.9 544.9h0M74.2 600.9h0M113.0 596.9h0M109.7 536.8h0M137.2 582.1h0M84.1 585.9h0M117.2 531.2h0M99.8 556.3h0M77.1 560.9h0M57.1 613.9h0M55.2 632.1h0M72.0 605.8h0M94.2 556.4h0M97.1 598.2h0M83.7 610.3h0M100.0 615.4h0M119.7 590.0h0M72.8 610.9h0M128.7 538.5h0M115.0 597.8h0M82.5 616.6h0M75.4 611.0h0M99.8 571.9h0M132.4 579.1h0M98.4 590.4h0M74.3 570.8h0M81.5 632.5h0M52.1 633.8h0M108.6 607.7h0M86.8 610.5h0M81.8 614.8h0M134.7 572.6h0M70.2 603.7h0M123.4 579.7h0M94.8 607.5h0M80.0 610.0h0M119.0 580.3h0M110.2 622.0h0M84.4 583.4h0M102.1 598.4h0M76.3 582.8h0M104.0 545.2h0M83.1 606.3h0M95.4 568.8h0M96.6 569.6h0M78.4 624.9h0M74.4 595.3h0M116.6 551.9h0M91.3 603.4h0M97.9 554.0h0M69.3 608.6h0M108.9 570.6h0M93.7 556.3h0M103.4 550.3h0M100.5 589.8h0M82.7 579.6h0M127.7 538.9h0M108.2 581.4h0M111.0 582.6h0M128.5 568.2h0M94.5 575.5h0M80.9 627.5h0M85.0 531.6h0M111.7 571.3h0M116.9 567.9h0M116.3 585.7h0M77.3 608.8h0M114.6 543.6h0M83.6 542.8h0M118.7 572.6h0M91.2 590.1h0M123.6 578.4h0M74.4 601.7h0M106.1 573.7h0M127.4 568.2h0M106.8 588.0h0M77.5 600.2h0M124.3 564.2h0M112.3 614.1h0M89.4 601.4h0M53.6 634.7h0M97.6 580.8h0M117.0 603.4h0M132.6 546.4h0M89.3 579.0h0M109.4 603.5h0M102.3 611.7h0M108.8 574.6h0M95.0 549.5h0M112.5 602.9h0M82.6 611.8h0M124.9 588.0h0M107.9 545.8h0M139.7 553.3h0M99.2 555.6h0M84.8 603.0h0M119.6 549.4h0M99.9 580.1h0M109.4 594.4h0M105.1 596.7h0M91.1 605.6h0M111.6 539.0h0M114.0 629.3h0M142.2 570.2h0M67.9 549.7h0M122.9 573.2h0M93.8 556.1h0M109.2 623.0h0M101.6 593.2h0M122.9 591.5h0M84.0 610.9h0M90.2 548.3h0M81.8 599.4h0M57.5 629.6h0M103.2 589.0h0M92.1 586.9h0M98.9 556.1h0M68.3 620.9h0M88.3 547.1h0M118.1 608.0h0M70.6 628.0h0M78.3 581.0h0M82.8 600.7h0M78.7 607.1h0M102.2 573.1h0M100.8 590.6h0M112.7 611.6h0M84.7 583.0h0M96.8 576.3h0M106.0 595.7h0M76.8 579.6h0M105.9 581.2h0M126.2 597.5h0M110.1 588.5h0M124.1 590.1h0M126.1 600.5h0M61.9 561.0h0M96.1 559.5h0M103.1 606.4h0M114.8 587.9h0M69.9 635.2h0M80.1 625.1h0M99.1 608.6h0M105.9 566.5h0M123.0 601.8h0M68.9 604.3h0M110.5 535.4h0M72.8 613.8h0M114.0 589.6h0" stroke="rgb(74, 191, 109)" stroke-opacity="0.52" stroke-width="1.6" stroke-linecap="round" fill="none"/>
<path d="M126.7 574.3h0M92.4 585.9h0M81.8 606.4h0M36.3 623.7h0M117.1 607.4h0M133.0 559.1h0M126.2 572.8h0M81.1 609.2h0M74.4 576.3h0M121.1 592.9h0M98.0 595.7h0M99.1 600.2h0M133.1 584.7h0M105.1 557.3h0M115.2 561.6h0M114.6 538.8h0M127.0 553.1h0M125.3 544.8h0M116.7 594.8h0M78.2 625.1h0M106.8 533.4h0M111.7 578.2h0M84.6 580.5h0M103.1 543.9h0M120.9 594.1h0M96.8 565.5h0M124.4 528.0h0M108.8 570.9h0M112.7 560.3h0M110.8 594.7h0M127.6 565.6h0M122.1 572.6h0M127.6 533.8h0M99.2 601.2h0M125.4 544.5h0M108.2 535.9h0M79.6 575.2h0M116.6 623.6h0M117.2 618.0h0M108.9 567.5h0M33.2 627.6h0M114.5 564.6h0M94.1 605.7h0M134.6 536.4h0M81.0 592.0h0M127.1 582.4h0M107.0 558.3h0M111.3 594.8h0M119.5 600.1h0M111.4 574.5h0M118.4 543.5h0M134.2 550.7h0M129.9 554.9h0M97.0 575.4h0M106.9 588.3h0M109.1 624.7h0M117.2 610.7h0M33.5 623.7h0M109.5 529.5h0M124.7 534.5h0M120.3 604.0h0M114.4 536.6h0M115.8 562.2h0M110.9 597.1h0M111.1 617.4h0M119.4 591.0h0M129.7 537.8h0M120.0 567.1h0M107.5 623.3h0M35.2 623.0h0M113.9 563.7h0M136.3 542.3h0M96.7 600.0h0M137.9 583.3h0M121.2 563.9h0M102.5 600.6h0M123.2 586.4h0M114.8 568.2h0M99.4 602.0h0M127.5 532.6h0M66.4 633.3h0M133.6 584.1h0M78.0 621.4h0M124.6 536.1h0M121.7 528.9h0M115.4 544.9h0M116.6 613.3h0M109.8 576.7h0M116.0 590.4h0M110.8 595.3h0M111.1 610.8h0M138.0 571.4h0M122.2 599.9h0M138.5 573.2h0M133.9 564.8h0M127.4 589.6h0M128.7 528.1h0M76.6 629.3h0M108.5 540.3h0M84.4 613.4h0M118.7 573.4h0M132.6 588.8h0M134.4 565.6h0M104.5 548.0h0M114.3 528.4h0M122.6 579.2h0M136.6 573.0h0M130.6 580.5h0M113.7 622.1h0M136.5 571.6h0M108.9 569.0h0M104.2 617.2h0M122.3 528.2h0M114.5 608.5h0M101.7 614.3h0M103.3 562.8h0M125.8 566.6h0M62.5 615.0h0M135.8 569.2h0M82.0 563.5h0M106.5 609.9h0M111.6 539.5h0M102.4 602.1h0M118.0 573.6h0M135.1 571.3h0M100.7 605.8h0M112.8 542.8h0M93.4 597.5h0M33.1 588.9h0M103.7 573.3h0M97.0 570.5h0M130.9 571.9h0M53.6 628.8h0M110.2 559.0h0M103.2 580.7h0M108.5 574.4h0M73.3 628.9h0M129.2 538.3h0M96.7 558.2h0M114.7 569.2h0M119.1 570.6h0M124.6 540.0h0M95.8 555.1h0M123.1 569.7h0M133.4 542.9h0M128.1 528.6h0M107.4 592.3h0M93.4 561.7h0M127.5 588.2h0M123.4 570.0h0M112.5 617.3h0M120.1 528.0h0M123.3 582.5h0M115.4 594.5h0M106.3 579.4h0M82.1 549.8h0M68.2 630.9h0M107.4 586.6h0M107.2 573.3h0M110.9 528.4h0M108.1 621.6h0M113.5 596.4h0M121.7 570.0h0M83.4 623.9h0M133.8 587.6h0M76.2 629.1h0M127.7 526.8h0M106.8 555.7h0M125.7 526.7h0M57.6 633.8h0M86.3 557.4h0M130.7 582.3h0M34.1 622.2h0M59.0 567.9h0M121.2 582.4h0M119.6 569.4h0M102.1 602.0h0M91.9 595.6h0M114.9 571.0h0M94.9 588.1h0M55.1 635.5h0M123.8 546.1h0M99.0 601.4h0M112.5 577.3h0M96.3 608.4h0M92.9 608.4h0M117.6 612.6h0M118.5 531.8h0M124.6 533.1h0M127.0 550.5h0M123.4 605.5h0M68.0 564.7h0M123.1 594.9h0M113.6 602.6h0M132.9 577.7h0M129.2 596.3h0M97.3 610.1h0M122.8 552.4h0M126.9 532.3h0M107.1 577.7h0M96.2 547.5h0M131.6 563.2h0M123.6 522.1h0M77.6 631.7h0M90.9 555.3h0M111.7 577.1h0M106.1 542.4h0M126.0 545.8h0M115.9 577.3h0M119.8 603.2h0M105.4 534.0h0M112.2 571.1h0M83.1 572.6h0M101.1 582.0h0M72.9 616.2h0M105.0 616.7h0M101.7 570.9h0M140.0 556.2h0M115.4 543.0h0M119.9 521.3h0M112.5 563.0h0M115.4 560.1h0M74.2 635.1h0M108.6 608.4h0M79.7 545.3h0M118.8 592.2h0M114.5 557.8h0M75.3 629.3h0M91.9 597.7h0M114.5 586.1h0M129.4 586.7h0M107.3 552.2h0M75.1 613.9h0M124.7 526.4h0M121.5 579.0h0M119.7 576.1h0M104.7 602.6h0M115.0 546.6h0M127.8 567.5h0M116.4 581.8h0M107.9 561.6h0M123.6 543.6h0M135.4 577.4h0M116.2 569.5h0M129.7 574.0h0M106.8 558.8h0M110.0 598.2h0M103.5 557.1h0M94.5 563.0h0M126.1 556.7h0M118.4 562.6h0M127.3 570.9h0M114.4 556.7h0M122.2 602.4h0M118.0 597.2h0M116.5 608.1h0M74.2 585.3h0M117.9 564.7h0M119.2 593.9h0M73.5 631.2h0M122.8 530.3h0M123.7 540.6h0M92.8 563.7h0M130.1 568.9h0M95.7 559.9h0M134.1 562.1h0M126.8 579.6h0M111.4 612.5h0M113.2 609.0h0M95.0 609.0h0M116.5 582.5h0M124.1 571.8h0M121.2 551.2h0M64.1 611.3h0M113.9 554.2h0M128.8 599.0h0M76.5 570.3h0M94.2 553.4h0M130.7 551.1h0M102.7 606.4h0M112.8 586.8h0M97.9 546.1h0M135.1 558.1h0M119.8 572.5h0M107.3 595.0h0M127.8 567.9h0M96.7 552.6h0M117.1 589.7h0M115.8 624.9h0M118.9 569.7h0M101.1 592.8h0M102.3 608.0h0M79.7 572.2h0M128.3 538.5h0M126.9 590.3h0M114.0 622.0h0M80.8 613.5h0M76.0 626.1h0M140.6 579.5h0M112.6 547.4h0M130.8 552.0h0M124.4 596.9h0M97.6 605.4h0M90.0 589.7h0M76.7 628.1h0M112.1 598.6h0M105.4 580.9h0M83.0 597.4h0M117.4 525.1h0M88.9 582.0h0M127.0 580.1h0M88.9 597.7h0M132.1 580.8h0M112.8 592.1h0M112.8 531.3h0M54.3 623.2h0M115.8 546.3h0M125.1 568.3h0M117.5 545.8h0M126.1 552.5h0M125.6 527.5h0M112.4 570.4h0M93.8 550.1h0M121.3 530.2h0M115.3 526.3h0M124.7 580.9h0M133.8 572.5h0M115.2 534.6h0M108.9 624.8h0M83.0 599.6h0M40.4 615.5h0M105.5 568.5h0M136.5 576.2h0M118.8 555.2h0M100.2 564.0h0M56.0 630.5h0M95.5 596.5h0M129.3 587.3h0M121.8 548.4h0M137.5 584.5h0M88.3 578.4h0M78.6 616.5h0M111.4 607.6h0M70.7 630.7h0M77.3 630.3h0M93.4 580.1h0M112.3 590.3h0M108.8 593.2h0M93.2 591.1h0M105.3 577.0h0M120.2 548.0h0M137.0 553.0h0M110.0 532.5h0M113.4 541.9h0M104.2 609.4h0M126.1 586.1h0M105.0 582.0h0M113.1 579.7h0M124.7 548.3h0M85.7 590.7h0M68.6 601.2h0M69.5 600.5h0M99.6 609.4h0M95.6 587.7h0M109.5 556.5h0M128.3 526.8h0M131.9 540.0h0M87.5 592.8h0M130.8 553.6h0M105.1 541.7h0M76.1 629.4h0M115.4 580.5h0M132.5 566.9h0M116.0 591.1h0M109.5 624.1h0M101.5 550.8h0M127.7 526.1h0M116.9 552.1h0M97.2 584.9h0M94.9 564.3h0M108.9 596.3h0M102.1 533.9h0M127.7 590.9h0M124.7 560.3h0M137.4 576.6h0M133.3 576.2h0M119.4 525.1h0M120.0 596.7h0M115.6 575.5h0M115.2 537.2h0M110.6 550.5h0M119.3 558.0h0M133.3 547.3h0M87.3 602.1h0M131.6 547.1h0M127.0 533.0h0M86.1 587.7h0M118.9 560.9h0M127.9 580.6h0M81.4 602.0h0M72.4 632.8h0M111.7 569.2h0M121.1 536.9h0M66.7 621.3h0M103.2 586.2h0M89.6 543.9h0M104.7 585.4h0M102.8 549.0h0M107.8 621.8h0M104.7 540.8h0M111.6 600.9h0M130.0 570.8h0M140.2 557.9h0M107.7 584.4h0M104.5 546.2h0M87.3 541.4h0M111.2 566.3h0M129.0 581.1h0M82.4 628.0h0M117.8 617.8h0M139.0 562.3h0M99.9 604.7h0M132.0 583.9h0M120.5 559.6h0M134.0 559.9h0M57.9 636.2h0M103.8 613.3h0M106.6 598.9h0M116.5 618.9h0M91.3 572.3h0" stroke="rgb(118, 207, 83)" stroke-opacity="0.52" stroke-width="1.6" stroke-linecap="round" fill="none"/>
<path d="M99.8 585.6h0M110.9 602.6h0M120.1 553.1h0M139.5 556.0h0M109.2 560.5h0M114.8 548.9h0M133.9 576.6h0M119.6 600.1h0M125.9 602.6h0M131.5 588.6h0M134.0 584.7h0M128.5 528.2h0M50.2 634.8h0M108.2 555.9h0M120.5 548.5h0M110.5 622.2h0M134.9 586.5h0M124.5 578.9h0M124.9 578.5h0M109.8 555.7h0M111.0 622.9h0M133.4 580.3h0M129.6 577.8h0M118.9 575.7h0M127.6 549.2h0M133.6 575.5h0M118.8 529.4h0M105.8 599.4h0M81.1 594.7h0M115.0 525.3h0M96.1 582.6h0M107.7 582.0h0M139.5 574.7h0M127.9 597.0h0M121.9 580.2h0M118.4 541.1h0M131.4 573.5h0M122.7 569.6h0M132.4 559.2h0M114.2 541.1h0M74.0 626.2h0M132.9 533.3h0M112.8 562.3h0M124.0 570.8h0M117.8 621.7h0M123.2 534.6h0M134.5 577.9h0M130.1 528.2h0M113.9 592.5h0M118.8 577.2h0M128.1 538.6h0M58.2 633.8h0M117.3 542.6h0M121.7 525.6h0M123.7 541.3h0M139.1 559.5h0M55.6 636.4h0M122.6 581.4h0M116.7 579.9h0M123.4 570.0h0M121.5 562.9h0M127.6 564.6h0M118.4 587.5h0M139.8 573.6h0M114.4 583.7h0M120.9 524.8h0M66.6 611.8h0M113.3 627.0h0M136.2 572.5h0M137.9 549.2h0M98.8 593.9h0M128.8 585.0h0M91.9 602.7h0M113.9 530.1h0M128.1 559.0h0M115.4 533.0h0M111.1 544.8h0M140.3 581.2h0M118.0 529.4h0M126.4 571.6h0M99.9 553.5h0M129.5 556.4h0M112.8 608.2h0M86.3 556.6h0M118.7 611.1h0M101.2 608.4h0M111.0 561.5h0M109.7 545.3h0M114.7 557.5h0M119.0 551.2h0M121.1 576.6h0M129.3 530.7h0M110.5 614.7h0M142.0 578.2h0M113.2 536.1h0M131.6 574.3h0M124.0 578.8h0M140.5 579.4h0M123.9 569.5h0M130.8 544.8h0M116.0 565.5h0M116.7 629.8h0M110.5 531.4h0M124.2 561.6h0M113.7 556.9h0M136.0 548.7h0M122.7 549.3h0M98.7 603.6h0M116.0 605.0h0M119.7 573.3h0M126.4 601.8h0M136.3 557.9h0M116.8 524.0h0M133.3 570.5h0M134.6 584.7h0M98.0 577.9h0M118.0 601.3h0M121.1 581.2h0M126.1 589.4h0M99.6 605.5h0M120.6 604.7h0M115.3 539.2h0M124.9 563.3h0M134.2 586.5h0M130.0 556.0h0M117.3 593.8h0M120.9 566.7h0M133.9 553.3h0M48.3 629.7h0M111.2 558.2h0M109.5 604.3h0M132.5 559.7h0M142.0 573.1h0M115.6 580.2h0M74.4 636.4h0M70.7 632.4h0M122.5 599.9h0M123.4 540.7h0M128.7 542.2h0M130.6 568.9h0M115.8 609.5h0M141.0 569.4h0M101.2 572.6h0M116.8 545.1h0M64.3 583.9h0M109.2 620.8h0M84.5 593.8h0M119.5 585.4h0M96.9 577.2h0M119.7 604.3h0M115.8 630.5h0M97.8 585.6h0M111.3 596.6h0M129.3 545.7h0M132.8 535.5h0M135.3 541.2h0M97.3 590.8h0M131.5 587.6h0M113.4 547.2h0M87.5 594.9h0M122.1 577.8h0M123.6 551.3h0M52.4 632.8h0M139.1 545.0h0M113.6 552.1h0M95.1 559.4h0M129.5 597.1h0M94.7 575.5h0M76.0 624.7h0M124.3 539.0h0M124.3 583.7h0M122.4 603.4h0M112.6 596.7h0M112.8 601.5h0M127.1 530.6h0M117.7 588.7h0M123.0 601.6h0M71.3 635.1h0M114.6 564.7h0M128.7 565.3h0M111.4 592.2h0M78.7 601.5h0M110.4 534.9h0M97.3 610.3h0M129.1 540.9h0M124.0 532.2h0M122.3 519.6h0M106.4 577.3h0M131.0 572.4h0M135.2 580.4h0M110.8 567.6h0M113.1 600.7h0M83.4 584.1h0M134.7 545.2h0M139.9 571.2h0M111.7 623.6h0M70.6 631.5h0M125.9 555.9h0M121.6 588.6h0M122.8 547.2h0M126.7 550.9h0M114.4 551.0h0M126.4 572.0h0M126.8 588.4h0M80.9 627.8h0M95.2 580.4h0M117.7 595.3h0M121.2 534.2h0M118.3 610.2h0M125.3 553.2h0M104.1 593.0h0M128.2 587.3h0M125.8 525.7h0M122.7 556.1h0M125.7 526.1h0M130.7 569.7h0M89.0 572.9h0M140.7 562.3h0M134.1 578.4h0M105.5 602.9h0M96.1 608.0h0M120.5 590.2h0M125.9 572.9h0M117.6 624.4h0M125.0 567.4h0M133.9 538.1h0M132.4 544.5h0M115.7 564.3h0M110.8 622.3h0M33.1 622.9h0M74.8 556.4h0M120.7 524.8h0M106.8 559.0h0M125.1 537.7h0M114.3 575.2h0M133.2 539.8h0M92.6 594.5h0M117.9 529.8h0M119.8 563.1h0M123.6 555.9h0M120.5 559.2h0M106.5 587.1h0M135.1 568.2h0M100.6 593.6h0M131.4 565.9h0M119.8 527.1h0M118.8 541.1h0M111.9 593.6h0M107.2 567.8h0M127.1 580.5h0M131.7 573.9h0M107.9 597.5h0M131.4 572.5h0M102.1 586.7h0M107.1 588.9h0M130.6 583.3h0M125.9 581.6h0M112.2 568.8h0M125.3 520.9h0M136.3 544.2h0M132.3 550.8h0M115.9 560.4h0M106.2 596.6h0M115.4 606.6h0M133.2 534.8h0M125.3 538.9h0M119.2 562.8h0M120.8 601.4h0M96.3 605.2h0M120.7 586.3h0M92.0 573.2h0M111.5 578.3h0M95.4 595.7h0M99.5 614.0h0M120.7 567.8h0M121.4 565.5h0M106.1 556.4h0M130.7 591.7h0M125.7 530.5h0M127.5 545.8h0M122.5 584.2h0M115.8 527.7h0M121.1 541.5h0M74.7 594.6h0M84.1 588.4h0M128.1 537.7h0M117.2 538.9h0M127.1 526.3h0M132.0 576.0h0M129.3 541.2h0M83.7 605.0h0M133.4 534.8h0M113.3 565.0h0M139.6 576.5h0M77.7 628.5h0M119.3 542.6h0M115.2 612.2h0M137.2 564.1h0M125.0 559.7h0M59.5 635.1h0M130.7 547.5h0M119.9 553.4h0M124.4 580.4h0M112.1 536.9h0M117.7 521.3h0M82.8 562.2h0M118.9 554.8h0M132.0 562.9h0M134.8 582.6h0M126.9 562.1h0M133.8 552.2h0M75.9 623.3h0M114.6 533.0h0M112.5 535.7h0M129.8 589.4h0M116.2 624.0h0M125.6 565.7h0M98.0 577.1h0M121.6 535.5h0M133.4 542.8h0M89.9 597.9h0M133.1 533.7h0M114.4 615.8h0M129.6 539.0h0M114.4 530.8h0M142.8 572.1h0M117.3 565.5h0M96.1 605.1h0M127.6 580.4h0M117.6 549.0h0M131.6 547.4h0M117.1 546.5h0M121.6 554.2h0M102.1 573.7h0M122.7 533.7h0M107.6 580.1h0M130.0 552.5h0M129.9 552.3h0M113.2 621.3h0" stroke="rgb(171, 220, 50)" stroke-opacity="0.52" stroke-width="1.6" stroke-linecap="round" fill="none"/>
<path d="M127.3 555.0h0M124.7 604.7h0M131.7 556.4h0M120.3 592.5h0M134.3 584.2h0M137.2 550.4h0M112.0 623.6h0M121.8 544.5h0M129.5 566.5h0M113.1 576.7h0M121.4 528.7h0M114.7 535.0h0M131.9 560.6h0M88.6 554.9h0M128.7 557.2h0M120.2 603.2h0M124.3 557.3h0M133.7 543.4h0M114.0 552.7h0M137.2 565.6h0M109.5 613.6h0M102.5 614.5h0M107.1 581.1h0M128.2 555.4h0M137.4 561.0h0M32.7 624.7h0M124.3 579.8h0M122.2 599.5h0M111.2 528.6h0M127.8 562.5h0M132.7 553.9h0M116.6 600.5h0M117.6 619.4h0M128.6 547.8h0M96.1 573.3h0M128.5 556.8h0M121.9 564.5h0M122.9 575.4h0M132.4 552.6h0M141.7 578.5h0M125.4 537.4h0M130.9 563.6h0M134.0 578.3h0M117.2 605.6h0M123.1 524.1h0M113.4 554.3h0M130.5 545.5h0M137.9 554.2h0M111.6 618.0h0M125.8 524.0h0M114.5 628.9h0M133.1 589.1h0M127.0 524.6h0M130.0 543.2h0M124.3 530.7h0M110.3 624.7h0M133.1 561.9h0M134.8 570.8h0M127.9 561.0h0M136.4 541.6h0M137.1 548.0h0M114.0 554.7h0M120.7 549.1h0M132.3 542.3h0M113.5 533.0h0M130.0 585.2h0M127.7 546.9h0M122.6 551.7h0M114.5 564.7h0M140.8 556.9h0M126.7 553.4h0M140.4 574.5h0M111.8 621.7h0M129.3 527.5h0M126.0 539.1h0M133.3 564.3h0M135.2 546.7h0M137.4 542.0h0M135.7 546.8h0M114.2 543.9h0M129.0 529.0h0M126.2 603.5h0M115.7 536.9h0M136.6 545.1h0M129.7 527.8h0M123.7 523.0h0M135.7 540.0h0M104.7 618.7h0M129.3 570.1h0M110.9 528.8h0M113.8 534.4h0M141.7 577.8h0M133.6 540.8h0M131.5 560.2h0M132.2 539.0h0M124.2 562.0h0M129.4 579.8h0M121.4 556.2h0M122.9 599.9h0M122.2 543.6h0M34.6 620.9h0M123.7 522.4h0M118.8 539.2h0M115.6 529.5h0M132.0 539.8h0M121.7 520.5h0M89.4 607.1h0M120.2 556.3h0M135.9 541.7h0M132.2 550.1h0M114.9 573.8h0M130.7 574.7h0M114.9 575.3h0M127.9 573.1h0M132.6 572.2h0M116.9 621.4h0M121.7 606.5h0M113.1 550.5h0M115.2 607.9h0M132.8 576.4h0M123.7 525.7h0M113.0 563.1h0M128.9 526.1h0M106.2 585.2h0M95.0 609.2h0M128.1 532.3h0M124.0 605.6h0M138.9 556.9h0M134.8 561.2h0M132.5 541.0h0M121.8 562.5h0M122.3 542.6h0M76.2 633.0h0M135.3 564.8h0M133.2 586.2h0M130.9 548.9h0M132.3 543.5h0M138.9 554.5h0M116.9 531.5h0M103.0 559.0h0M131.8 550.2h0M113.5 538.0h0M137.5 548.2h0M118.8 559.3h0M125.1 532.3h0M121.3 543.5h0M120.3 604.5h0M110.9 574.8h0M119.1 577.6h0M137.5 579.0h0M109.8 613.5h0M130.0 546.3h0M138.4 556.7h0M123.0 578.9h0M137.4 563.7h0M135.9 574.6h0M128.4 546.1h0M118.8 524.3h0M134.8 566.2h0M109.0 618.7h0M115.4 622.2h0M98.6 580.6h0M75.2 630.7h0M131.2 538.5h0M139.0 542.9h0M123.6 536.9h0M129.9 561.6h0M101.8 613.4h0M123.3 541.4h0M117.6 526.6h0M115.2 559.4h0M107.7 562.4h0M134.6 579.0h0M125.4 550.2h0M119.0 532.1h0M136.8 583.8h0M141.8 552.3h0M134.3 587.0h0M137.1 538.8h0M131.6 537.0h0M122.0 557.3h0M113.0 535.1h0M117.5 579.0h0M131.9 583.0h0M88.7 595.5h0M133.5 562.4h0M55.0 636.1h0M123.7 565.0h0M119.7 527.6h0M124.1 560.3h0M117.9 557.7h0M130.5 586.6h0M132.3 549.3h0M138.0 544.7h0M108.5 610.5h0M114.5 563.9h0M122.2 528.6h0M128.2 569.8h0M120.6 540.7h0M126.2 572.6h0M117.1 591.2h0M54.0 631.6h0M113.3 625.7h0M106.0 600.7h0M124.2 544.4h0M115.8 630.4h0M136.8 563.2h0M127.4 535.5h0M103.9 577.9h0M131.6 536.8h0M127.0 548.8h0M132.3 538.5h0M93.1 549.9h0M114.2 560.2h0M126.0 535.7h0M132.3 561.5h0M124.8 548.1h0M136.1 558.4h0M135.6 557.3h0M110.2 534.6h0M115.6 557.2h0M141.0 559.9h0M134.0 582.1h0M137.6 559.4h0M113.1 552.9h0M34.4 624.5h0M125.4 520.8h0M133.8 576.6h0M119.4 609.1h0M137.8 561.2h0M135.5 542.7h0M140.5 558.6h0M115.7 537.2h0M124.3 550.1h0M52.9 632.9h0M113.1 573.3h0M112.5 571.1h0M115.8 609.6h0M131.4 549.3h0M122.4 534.0h0M117.5 626.0h0M139.1 571.2h0M138.3 559.1h0M132.0 565.8h0M133.5 561.4h0M116.6 561.3h0M123.1 521.6h0M113.1 552.3h0M132.2 532.6h0M125.9 528.3h0M135.8 551.3h0M124.3 583.6h0M113.2 551.9h0M127.5 540.3h0M100.7 610.2h0M105.6 605.5h0M120.3 556.5h0M135.0 583.3h0M139.0 543.6h0M129.1 563.6h0M72.4 632.5h0M133.2 580.1h0M122.5 601.5h0M119.8 601.6h0M133.0 574.8h0M118.1 562.8h0M134.6 580.7h0M128.5 555.9h0M117.1 573.4h0M120.5 575.9h0M139.1 542.4h0M31.3 623.2h0M125.2 529.9h0M141.7 574.1h0M140.1 580.4h0M137.7 562.9h0M52.3 634.1h0M114.3 561.7h0M117.5 561.2h0M137.9 556.6h0M54.2 632.1h0M124.1 563.0h0M124.8 560.1h0M112.7 628.1h0M124.1 553.6h0M130.9 531.0h0M52.5 636.4h0M123.4 534.7h0M123.7 556.1h0M129.1 564.4h0M110.1 531.6h0M116.3 626.6h0M118.7 537.3h0M111.3 542.9h0M133.7 539.4h0M124.9 520.5h0M122.2 562.6h0M124.8 530.2h0M104.5 542.0h0M128.0 560.5h0M110.3 538.5h0M138.4 578.4h0M115.2 563.5h0M131.0 585.0h0M119.6 587.7h0M112.9 612.1h0M123.4 548.0h0M125.6 522.0h0M123.8 542.6h0M114.7 539.4h0M117.0 562.2h0M133.3 560.3h0M129.5 577.4h0M133.5 551.5h0M134.8 560.3h0M134.4 568.5h0M131.3 548.6h0M114.4 547.6h0M118.9 554.5h0M120.8 600.9h0M126.4 536.7h0M117.9 532.7h0M115.4 551.4h0M132.6 589.4h0M132.2 556.8h0M138.6 563.0h0M118.9 560.8h0M126.8 547.2h0M133.4 534.7h0M120.4 523.1h0M131.4 563.9h0M118.1 554.2h0M131.8 551.6h0M80.2 633.2h0M135.0 538.3h0M125.0 541.6h0M113.1 528.6h0M141.6 567.8h0M134.4 544.7h0M105.5 574.9h0M129.5 581.4h0M111.0 615.7h0M126.2 548.3h0M136.4 569.4h0M117.0 531.5h0M107.6 559.0h0M112.8 582.6h0M141.5 557.6h0M120.3 585.6h0M135.4 559.0h0M114.2 619.8h0M137.8 564.5h0M134.8 557.4h0M125.2 555.2h0M123.4 552.2h0M129.9 540.3h0M118.7 549.3h0M130.6 562.9h0M137.4 559.1h0M108.5 584.5h0M126.2 558.7h0M121.2 585.8h0M99.3 612.8h0M126.9 543.0h0M117.0 543.0h0M130.8 551.4h0M135.8 542.2h0M122.9 522.8h0M135.0 552.0h0M127.1 574.4h0M74.0 626.0h0" stroke="rgb(226, 228, 40)" stroke-opacity="0.52" stroke-width="1.6" stroke-linecap="round" fill="none"/>
<path d="M117.7 550.1L132.7 554.3L144.5 556.2M90.9 568.7L93.0 569.7L95.1 571.0L101.5 576.4L104.6 578.3L108.0 579.5L115.0 581.0L116.7 581.6L118.3 582.4M62.6 577.2L66.8 582.3L69.4 584.7L72.5 586.6L79.1 589.4L81.6 591.1L83.7 593.2L86.0 596.7M27.0 562.9L26.5 562.6L27.0 562.9L26.5 562.6L27.0 562.9L26.4 562.7L27.0 563.0L26.4 562.9L27.0 563.0L26.4 563.2L27.0 563.0L26.6 563.5L27.0 563.0L26.9 563.6L27.0 563.0L27.5 562.7L29.0 561.8L30.7 561.1L32.5 560.8L34.9 560.8L38.4 561.7L45.6 564.7L48.4 565.6M49.0 611.8L52.0 618.3L54.8 626.2L58.3 634.5L59.3 638.0L59.7 641.0M61.1 571.5L63.3 572.6L65.2 574.0L66.8 575.8L70.1 580.1L72.4 582.0L75.6 583.6L83.0 586.0L85.1 587.1L86.5 588.2M65.7 586.4L68.4 588.8L75.1 593.9L82.5 600.9L89.9 606.1M29.1 556.9L30.0 555.4L31.6 553.5L35.9 549.4L37.9 547.2L43.1 539.1L45.0 536.8L47.1 534.6M116.9 534.5L122.2 533.6L131.2 533.0L135.3 532.1M63.8 531.2L74.6 530.8L78.1 530.2L82.8 529.0M58.4 618.2L59.6 620.3L60.7 623.1L64.2 635.2M72.8 540.8L82.3 535.7L85.1 534.6L87.4 533.9L89.7 533.4L92.1 533.2L99.3 533.4L102.3 533.2M44.9 576.4L46.8 579.5L48.3 581.3L50.0 583.0L55.5 587.6L57.1 589.4L58.6 591.3L59.8 593.3L60.7 595.6L62.1 601.4M70.8 562.5L80.9 566.2L90.0 569.3M98.1 587.1L102.6 591.0L106.4 593.9L119.2 601.8L121.5 603.7L123.1 605.5M33.2 584.7L33.1 589.4L33.9 595.4L34.0 597.8L33.8 600.2L32.7 606.1L32.6 608.5L32.9 611.4L34.2 615.4M124.7 549.4L128.8 550.3L132.4 550.6L135.4 550.4L141.3 549.5L144.3 549.3M35.2 591.2L36.3 595.8L36.7 598.8L36.5 601.2L35.3 607.1L35.3 610.1L35.6 612.4L37.4 618.8L37.6 621.8M126.5 560.0L128.8 561.9L134.2 567.5L136.6 569.4L138.6 570.6L140.3 571.3L142.6 572.0L145.0 572.4M95.8 577.9L99.2 580.3L101.8 581.8L104.0 582.9L110.1 585.2L112.7 586.8L115.3 589.3L120.4 595.9M121.4 566.5L126.1 569.0L133.2 573.6L135.8 575.1L139.1 576.5L144.2 578.1M110.7 537.7L114.8 537.1L117.8 537.1L120.8 537.5L127.2 538.9L130.2 539.4L133.8 539.5L139.8 539.1M61.4 547.1L70.3 548.0L79.3 548.0L82.3 548.2L86.3 549.3L91.8 551.8M45.6 562.6L49.0 563.6L52.0 564.0L55.0 563.9L62.2 563.4L66.4 563.7L68.7 564.2L71.0 565.0L73.1 566.0L75.7 567.6M94.6 546.1L98.9 548.1L102.4 549.1L105.3 549.4L113.1 549.8L116.7 550.3M102.4 540.6L110.2 540.2L113.8 540.5L117.2 541.5L123.2 544.2L126.1 545.3L129.0 545.9L132.6 546.0M69.9 558.4L74.5 559.8L78.6 560.5L82.2 560.5L89.4 559.9L93.0 560.1L96.5 560.9L100.3 562.7M47.2 568.7L51.0 570.5L58.2 573.6L60.3 574.8L62.2 576.3M49.4 565.8L53.6 566.5L62.0 566.6L64.3 566.8L66.1 567.2M64.9 609.6L67.3 613.0L68.9 616.3L69.6 619.2L70.4 626.3L71.3 629.2L73.1 632.3L77.4 637.3M103.3 613.5L105.2 619.2L107.0 622.3L109.6 624.8L114.1 627.7L116.0 629.2L117.1 630.6L118.3 632.7M101.2 563.8L103.5 565.8L107.7 570.0L110.6 572.1L114.0 573.4L121.0 574.9M97.4 557.2L120.4 565.9M63.6 617.6L64.9 621.0L66.1 628.1L66.7 630.4L67.8 633.2L69.9 637.5M106.1 580.0L113.6 581.9L115.9 582.8L117.4 583.8L119.5 585.9L123.0 591.5L124.9 593.8L127.1 595.8L130.1 597.8M41.6 595.3L43.2 598.5L44.1 601.3L45.3 609.6L47.5 618.4L48.2 625.5M78.3 534.5L84.3 531.8L87.1 530.8L89.5 530.3L93.7 530.1L100.2 530.7L102.6 530.7L105.6 530.4L108.5 529.7M41.5 549.6L42.8 548.4L44.4 546.7L49.9 539.5L51.6 537.8L53.4 536.3L56.5 534.4L59.2 533.2L62.1 532.5L65.7 532.1M78.1 583.5L82.1 584.6L84.4 585.4L86.4 586.6L88.3 588.2L90.4 591.1L94.5 599.0L96.3 601.5L99.1 604.6M108.5 558.5L118.1 559.2L120.4 559.7L122.7 560.5L124.3 561.4L126.2 562.8L132.9 568.8L135.8 571.0M64.8 601.5L65.5 603.9L66.4 606.1L69.6 611.8L70.9 614.5L71.8 618.0L72.4 623.4L72.8 625.7L73.6 628.0L75.3 630.5M74.1 608.7L76.1 611.7L77.2 613.8L78.2 616.0L79.6 620.6L80.6 622.8L81.6 624.3L83.2 626.1M74.4 597.3L77.2 600.4L80.0 602.7L82.5 604.3L88.3 607.6L90.7 609.2M28.1 561.0L29.5 559.1L31.3 557.5L32.8 556.6L35.1 556.0L38.7 555.8L47.7 556.3L54.9 556.0M88.7 562.9L92.8 563.3L95.1 564.0L96.8 564.7L99.7 566.7L104.7 571.9L107.6 574.1L110.9 575.5L115.6 576.4M92.6 538.3L97.9 538.9L100.9 539.0L104.5 538.7L109.2 537.8M117.0 535.4L121.2 535.1L130.8 535.5L133.8 535.2L136.7 534.5M37.8 566.3L41.5 568.3L44.8 570.8L51.0 576.5L57.0 581.6L61.5 586.3M120.2 570.9L124.2 572.3L126.9 573.5L135.1 578.6L142.0 582.1M70.1 571.6L74.0 576.2L76.2 578.3L77.7 579.2L79.4 579.9L85.7 581.8L89.0 583.2L91.9 585.3L95.2 588.8M37.8 583.8L38.4 586.7L39.3 588.9L40.6 591.0L43.9 595.2L45.6 597.7L47.0 600.4L49.7 607.1L52.2 611.2M133.6 546.2L139.6 545.5L143.2 545.4M40.0 614.3L40.7 618.4L40.8 621.4L40.4 623.8L39.0 630.2L38.8 633.8M47.4 548.1L52.4 543.9L54.4 542.5L56.6 541.4L59.9 540.2L69.2 537.7L75.3 535.2M109.8 529.5L113.1 528.0L122.8 523.3L125.7 522.3L128.6 521.7M47.9 614.0L49.3 618.6L51.0 626.8L52.1 629.6L55.7 636.6L56.6 639.4L56.9 641.8M115.1 586.6L116.7 588.4L119.7 592.9L121.5 595.3L129.3 602.8M116.8 521.8L123.5 519.3L126.4 518.5M89.7 579.0L91.8 580.1L94.3 581.7L100.1 586.0L107.5 591.1L115.1 597.0M67.3 545.7L72.1 545.2L80.2 543.2L83.8 542.9L86.2 543.1L88.5 543.7L93.4 546.0M61.8 548.7L72.8 551.8L76.4 552.3L85.4 552.9L88.9 553.6L92.3 554.6M41.0 552.6L43.2 551.8L45.4 550.8L52.0 546.6L55.3 545.1L58.7 544.0L65.8 542.8L69.8 541.7M25.2 614.3L27.8 621.7L28.4 624.6L28.4 628.2L27.8 633.0M72.7 564.3L91.6 573.4L94.7 575.3L100.0 579.2M29.5 560.5L32.2 559.2L34.0 558.8L35.8 558.8L39.3 559.5L44.9 561.5M100.2 602.5L104.2 606.2L106.5 608.9L108.2 611.4L110.8 616.2L112.6 618.5L114.9 620.5L119.0 622.9M113.0 590.1L118.2 596.0L124.7 602.2L127.2 605.6M67.3 586.2L69.8 588.0L75.4 591.4L77.8 593.1L80.0 595.2L85.4 600.9L91.4 605.8M88.4 565.4L92.5 566.4L95.7 567.9L98.1 569.7L103.3 574.7L106.4 576.6L109.8 577.8L115.7 578.8M64.9 591.8L67.3 596.0L70.6 603.7L73.0 607.8M39.9 586.0L40.6 587.6L42.0 589.5L46.7 594.2L48.6 596.5L49.9 598.5L52.7 603.8L54.0 605.9L55.9 608.2L58.4 610.8M26.6 565.0L26.8 566.8L27.4 568.5L31.1 574.7L32.0 577.5L32.2 580.5L31.4 586.4L31.2 589.4M117.1 579.0L119.9 580.0L122.4 581.6L124.1 583.3L127.3 587.7L128.9 589.5L130.7 591.0L133.3 592.5M43.7 585.3L45.3 587.0L50.4 591.2L52.9 593.8L54.7 596.9L57.0 602.4L58.1 604.6L59.7 607.1L62.1 609.8M104.9 610.9L107.6 617.6L109.5 620.6L110.8 621.9L112.2 623.0L116.8 625.7L118.8 627.2M63.0 587.4L68.4 593.8L72.9 600.9L75.1 603.8L78.1 606.7L83.3 610.8M116.3 551.7L119.2 552.1L122.2 552.9L128.9 555.3L133.8 557.6L143.1 563.2M81.4 545.1L84.4 545.4L87.2 546.3L89.4 547.3L96.2 551.1L100.7 552.8L103.0 553.3L105.4 553.5L110.8 553.2M99.4 605.5L101.9 608.9L103.4 612.1M52.7 601.0L54.3 604.2L56.0 606.6L58.0 608.9L62.7 613.5L64.8 616.5L65.6 618.1L66.3 620.4L67.3 627.5M85.0 525.9L90.3 524.8L94.5 524.5L97.4 524.9L103.3 526.3L106.3 526.6M37.1 569.4L39.4 571.3L41.3 573.6L42.4 575.7L44.6 580.7L46.2 583.2L48.3 585.3L53.9 589.8L55.5 591.6L56.6 593.1M98.9 554.7L102.3 555.7L105.9 556.2L108.9 556.3L116.1 555.8L120.2 556.2L122.6 556.8L124.8 557.7L126.9 558.9L128.8 560.4M30.7 567.0L36.2 570.7L37.5 571.9L38.6 573.3L39.9 576.0L41.4 581.8L42.6 584.6M42.1 602.1L42.1 609.9L43.4 618.2L43.4 621.8M116.9 576.9L121.0 577.9L124.2 579.5L126.4 581.5L131.4 586.7L133.2 588.2L135.3 589.5M44.3 548.4L51.1 540.8L53.3 538.8L55.8 537.2L58.0 536.2L60.9 535.3L70.4 534.0M72.2 567.7L74.6 569.5L79.0 573.5L80.9 574.9L83.6 576.3L88.7 578.2M80.5 524.1L84.0 523.4L92.1 521.2L95.1 520.8L97.5 520.9M121.7 575.5L124.5 576.6L126.5 577.8L133.5 583.6L136.9 586.0M62.0 551.5L70.8 555.4L73.0 556.1L75.4 556.7L79.6 556.9L87.9 556.5L92.1 556.9M115.1 533.4L123.5 530.4L132.9 528.2M88.7 585.9L90.5 587.5L91.9 589.4L95.9 596.2L98.4 599.5L101.0 602.0L107.0 607.0L109.1 609.1M48.0 566.9L52.6 568.2L61.5 569.7L64.9 570.9L66.4 571.9L67.8 573.0L71.9 578.2L73.1 579.5L74.6 580.6M114.1 553.9L117.6 553.9L120.6 554.4L124.1 555.4L126.8 556.6L128.9 557.8L130.8 559.2L137.2 565.5L139.2 567.0L140.7 567.9M52.2 560.1L58.8 559.8L61.8 559.9L65.4 560.4L70.0 561.6M95.5 589.7L99.5 595.0L102.7 597.8L106.3 599.9L112.4 602.3M30.1 568.1L34.1 571.7L35.3 573.1L36.3 574.6L36.9 576.3L37.3 578.0L37.6 582.8M38.3 554.1L44.2 553.0L52.7 550.1L56.2 549.5L58.6 549.6L61.6 550.2L64.4 551.1L68.3 552.8M128.2 572.5L135.9 577.2L143.6 580.5M52.2 573.5L56.3 576.1L59.2 578.3L65.6 585.4M96.0 558.1L99.4 559.3L102.7 560.7L106.4 562.7L114.0 567.5L116.8 568.7L120.1 570.0M72.3 608.4L74.2 611.5L75.4 614.3L76.1 616.5L77.3 621.8L78.1 624.1L79.7 626.6L82.8 629.4M56.0 556.4L59.0 556.6L62.0 557.1L73.4 560.7L78.6 561.9M75.4 631.6L79.2 635.5L81.2 638.4M29.8 610.4L30.6 613.3L33.1 619.4L33.7 622.3L33.6 625.9L31.6 634.7M26.4 607.8L26.7 610.8L27.2 613.1L30.2 620.4L30.9 623.3L30.9 626.9L29.9 632.2M25.4 561.7L21.5 560.3M94.6 591.7L97.9 596.7L100.8 599.7L104.2 602.2L113.6 607.5L116.0 609.3L118.2 611.3M74.5 542.7L80.6 540.2L84.1 539.2L87.7 538.8L91.9 539.0M72.8 613.9L73.7 617.3L74.7 623.8L75.5 626.1L76.3 627.7L77.5 629.1L81.9 633.1M41.3 585.1L42.2 586.6L43.3 588.0L49.1 593.2L51.1 595.5L52.7 598.0L56.3 605.0L58.0 607.4L60.1 609.6M39.4 554.8L45.4 554.5L53.7 553.2L56.7 553.2L59.1 553.5L61.4 554.2L68.6 557.2M51.5 613.3L54.3 617.9L56.1 621.7L59.7 631.2L61.4 637.0M113.6 602.8L116.3 604.1L118.3 605.3L120.2 606.9L122.2 609.0M109.9 609.7L115.2 616.2L116.9 617.8L119.4 619.6M52.9 608.7L59.4 615.7L60.9 617.6L61.8 619.2L63.0 622.5L65.0 631.3L66.6 635.8M73.4 561.7L76.9 562.6L80.4 563.4L89.4 564.1L91.8 564.4L94.7 565.2L97.3 566.7M104.3 600.7L106.9 602.1L113.0 604.7L115.6 606.1L118.6 608.2L121.1 610.8M89.2 536.6L99.4 536.9L101.8 536.7L104.2 536.3L107.1 535.5L109.9 534.4L119.1 530.0M67.5 567.4L69.7 568.5L71.6 569.9L76.6 575.1L78.4 576.6L81.1 578.0L85.6 579.5M49.8 578.1L57.8 585.3L60.2 588.0L62.4 590.8L64.0 593.4L65.0 595.6L67.3 603.0M34.4 557.9L36.2 557.8L38.5 558.1L46.0 560.3L49.6 561.0L53.2 561.1L59.7 560.6M122.2 539.7L126.7 541.3L130.3 542.0L133.2 542.1L141.0 541.8M36.8 590.7L39.0 596.3L39.6 599.2L39.7 602.2L38.8 609.4L39.3 613.5M77.0 568.2L83.0 572.2L91.1 576.0L94.7 578.2M119.5 582.9L121.5 585.1L124.8 590.1L126.3 592.0L128.6 594.0L131.7 595.8M29.8 562.5L33.3 562.6L36.8 563.4L40.7 565.0L46.7 567.9M47.3 625.2L47.6 628.2L48.3 630.5L49.4 632.6L52.5 637.7L53.5 640.0L53.9 641.7M56.3 594.2L57.3 596.3L59.1 602.1L60.3 604.8L61.8 607.4L65.6 612.1L66.9 614.1M30.0 592.0L30.2 597.4L29.4 605.8L29.5 609.4M25.7 564.6L25.0 566.9L24.8 569.3L25.1 571.7L26.1 576.4M31.2 555.5L33.5 553.7L38.3 551.2L40.4 549.9M98.1 534.7L102.9 534.3L107.5 533.0L111.9 531.0L121.9 525.6L124.7 524.5L127.0 523.7M95.5 580.6L100.5 584.0L107.3 587.7L109.8 589.4L120.3 599.3M75.7 526.8L79.9 526.5L84.1 525.8M86.9 592.7L89.4 597.5L91.0 600.1L92.8 602.4L96.8 606.9L98.9 609.8L100.4 613.1L102.1 618.2M40.2 548.5L42.5 545.8L47.0 538.7L50.7 534.8M106.7 604.6L110.2 606.8L113.1 609.0L120.0 615.6M98.1 560.1L100.8 561.4L103.4 562.9L109.8 568.3L112.9 570.2L115.6 571.4L122.0 573.1L125.4 574.3M92.5 540.0L99.6 541.4L102.6 541.6L109.8 541.8L112.1 542.1L114.5 542.7M65.2 614.1L66.7 616.7L67.4 619.0L68.5 626.7L69.4 630.1L71.1 633.3L74.9 638.7M85.9 528.2L89.4 527.5L93.0 527.2L96.0 527.4L102.5 528.5L106.1 528.5L108.4 528.2L110.8 527.6L116.3 525.3M69.3 596.9L71.5 601.2L73.1 603.7L74.9 606.1L80.9 612.9L84.4 618.4M26.6 561.6L25.2 559.0L23.3 556.6M66.4 578.9L68.7 581.7L71.0 583.6L73.7 585.0L79.9 587.2L82.1 588.2L84.0 589.6L86.0 591.9M93.0 552.2L98.0 554.3M27.1 560.3L27.6 551.9M89.5 542.0L92.3 542.9L97.9 545.2L100.7 546.1L104.3 546.7L112.6 547.7L119.6 549.6M37.5 622.9L36.9 625.8L35.4 631.6L34.9 634.6M32.7 572.4L34.3 574.9L35.2 577.8L35.4 580.2L35.2 586.2L35.8 590.3M47.4 546.9L52.6 541.9L55.0 540.2L57.1 539.1L60.5 537.9L69.3 536.0L74.5 534.4M129.7 554.5L143.8 559.5M87.4 540.4L90.9 540.9L100.8 543.6L111.5 545.0L114.4 545.8L117.7 547.0M92.3 606.4L95.7 609.8L97.9 613.4M121.0 546.1L126.0 548.0L130.2 548.7L133.8 548.6L140.3 547.6L143.9 547.3M127.5 566.3L132.7 570.5L136.2 572.8L140.0 574.4L144.7 575.5M67.9 604.1L69.1 606.8L72.3 612.6M101.6 557.8L108.0 559.5L116.3 561.0L119.2 561.8L123.0 563.4L126.5 565.8M120.0 529.2L125.6 526.9L131.4 525.4M74.7 600.6L76.8 602.8L79.1 604.7L88.3 610.3M46.0 551.6L51.4 549.0L54.2 547.9L57.1 547.3L60.1 547.2M70.5 543.1L73.9 541.8L82.5 537.7L85.4 536.8L88.3 536.2M86.0 598.0L89.1 601.7L95.5 608.0L97.9 611.5M56.6 586.3L59.4 589.4L61.7 592.9L63.1 596.2L64.1 600.3M34.3 616.5L35.4 620.0L35.6 621.7L35.6 623.5L35.2 625.9L33.7 631.7L33.1 634.7M53.9 567.6L60.5 568.0L63.5 568.5L66.3 569.4L68.8 571.0M43.8 593.3L45.8 595.5L47.5 598.0L51.0 604.9L52.6 607.5M126.3 575.3L128.8 576.8L134.7 581.0L139.8 584.2M126.9 555.5L129.6 556.9L132.1 558.5L140.0 565.0L142.0 566.2L143.7 566.9M115.5 543.0L120.4 545.3M28.1 563.7L36.2 567.6L39.3 569.5L42.0 571.8L44.5 575.2M42.5 595.0L44.0 597.6L45.0 599.7L47.3 607.8L48.3 610.6M65.4 548.6L72.5 549.9L80.9 550.5L84.4 551.0L88.5 552.2L95.8 554.9M130.1 552.7L134.9 553.3L142.7 553.3L145.1 553.5M60.4 582.8L64.4 587.3L70.3 593.3L73.4 596.9M66.8 546.8L71.6 546.7L80.5 545.8M36.1 556.7L39.1 556.9L48.5 558.6L51.5 558.7L59.3 558.5L61.7 558.8L64.7 559.3M92.3 583.8L95.0 586.2L101.3 592.7L104.0 595.0L107.6 597.2L114.6 600.5L117.3 601.9M52.8 611.8L57.3 617.5M115.3 539.3L118.2 540.0L125.4 542.9L128.9 543.8L133.1 544.1L142.1 543.6M26.0 567.3L26.7 570.2L28.6 574.6L29.4 576.8L29.7 579.2L29.6 582.2M80.2 609.5L82.9 612.0L85.3 614.6M36.7 564.8L39.4 566.0L42.6 567.7L51.1 573.3M25.1 563.8L23.3 565.4L21.3 567.6M100.9 579.6L104.7 581.5L112.1 583.9L113.7 584.7L115.2 585.7M69.4 552.9L72.9 554.0L76.4 554.7L85.4 554.8L89.6 555.2M61.9 602.7L63.0 605.4L64.9 608.5M37.9 567.4L40.9 569.3L43.2 571.2L45.3 573.4L48.6 577.7M98.4 550.9L101.3 551.8L104.3 552.2L115.0 551.9M76.1 608.8L79.6 613.6L83.9 621.5" stroke="#000" stroke-opacity="0.88" stroke-width="0.55" fill="none"/>
<path d="M131.6 554.1L130.0 554.4L130.4 553.0ZM104.2 578.1L102.5 578.0L103.2 576.7ZM74.9 587.6L73.2 587.7L73.8 586.3ZM34.4 560.8L32.9 561.5L32.9 560.0ZM55.1 626.9L53.9 625.8L55.3 625.3ZM73.0 582.5L71.3 582.2L72.2 581.0ZM78.3 596.9L76.7 596.4L77.7 595.3ZM39.1 545.6L38.8 547.3L37.6 546.4ZM127.1 533.3L125.7 534.2L125.6 532.7ZM74.1 530.9L72.7 531.8L72.6 530.3ZM61.9 627.3L60.8 626.0L62.3 625.6ZM87.5 533.8L86.2 534.9L85.8 533.5ZM56.0 588.2L54.4 587.7L55.5 586.6ZM81.0 566.2L79.4 566.4L79.9 565.0ZM111.1 596.9L109.4 596.8L110.2 595.5ZM33.7 600.9L33.2 599.3L34.7 599.5ZM135.5 550.4L134.1 551.3L134.0 549.8ZM35.3 607.2L34.8 605.6L36.3 605.8ZM135.2 568.4L133.6 568.0L134.6 566.9ZM110.3 585.3L108.6 585.4L109.2 584.0ZM133.3 573.7L131.6 573.5L132.5 572.2ZM126.2 538.7L124.6 539.1L124.9 537.6ZM77.7 548.0L76.2 548.8L76.1 547.3ZM61.7 563.4L60.3 564.2L60.2 562.7ZM106.1 549.5L104.5 550.1L104.6 548.6ZM118.5 542.0L116.8 542.1L117.4 540.7ZM86.0 560.2L84.6 561.1L84.4 559.6ZM55.6 572.4L53.9 572.5L54.5 571.2ZM58.5 566.6L57.0 567.3L57.0 565.8ZM70.1 624.7L69.2 623.3L70.7 623.2ZM109.7 624.9L108.0 624.5L109.0 623.4ZM110.7 572.2L109.1 572.1L109.8 570.8ZM109.9 561.9L108.2 562.0L108.8 560.6ZM66.3 628.8L65.3 627.5L66.7 627.2ZM120.3 587.0L118.8 586.2L120.0 585.3ZM45.6 611.0L44.6 609.7L46.0 609.3ZM93.8 530.1L92.3 530.8L92.3 529.3ZM52.1 537.3L51.5 538.9L50.5 537.7ZM91.0 592.2L89.7 591.3L91.0 590.6ZM124.4 561.5L122.7 561.4L123.5 560.1ZM71.5 616.4L70.4 615.2L71.8 614.7ZM78.9 618.4L77.8 617.2L79.2 616.8ZM82.6 604.4L81.0 604.3L81.7 603.0ZM41.3 555.9L39.7 556.5L39.8 555.0ZM102.8 569.8L101.2 569.2L102.3 568.2ZM101.7 539.0L100.2 539.8L100.2 538.3ZM128.0 535.5L126.4 536.1L126.5 534.6ZM50.7 576.2L49.1 575.7L50.1 574.6ZM132.1 576.7L130.5 576.5L131.3 575.3ZM83.0 581.0L81.3 581.3L81.7 579.9ZM45.7 597.9L44.3 597.0L45.5 596.2ZM139.1 545.5L137.7 546.5L137.6 545.0ZM40.2 625.1L39.7 623.5L41.2 623.8ZM61.2 539.8L60.0 541.0L59.6 539.5ZM119.7 524.8L118.7 526.1L118.0 524.8ZM51.9 629.2L50.7 628.1L52.1 627.5ZM122.0 595.8L120.5 595.2L121.6 594.2ZM122.5 519.6L121.4 520.8L120.8 519.4ZM103.2 588.1L101.5 587.9L102.4 586.6ZM81.6 543.0L80.2 543.9L80.0 542.4ZM77.7 552.4L76.2 553.0L76.3 551.5ZM55.4 545.0L54.3 546.3L53.7 544.9ZM28.4 624.2L27.3 622.8L28.8 622.5ZM87.4 571.4L85.7 571.5L86.3 570.1ZM38.3 559.2L36.7 559.6L37.0 558.2ZM109.7 614.2L108.3 613.2L109.7 612.5ZM120.9 598.6L119.3 598.1L120.3 597.0ZM80.6 595.7L79.0 595.2L80.1 594.1ZM102.1 573.6L100.5 573.1L101.5 572.0ZM69.2 600.6L67.9 599.4L69.3 598.9ZM50.0 598.7L48.6 597.8L49.8 597.0ZM32.1 577.6L31.0 576.4L32.5 576.0ZM126.0 585.9L124.5 585.1L125.7 584.2ZM54.8 597.0L53.5 596.0L54.8 595.3ZM110.4 621.6L108.9 621.0L110.0 620.0ZM72.6 600.6L71.2 599.7L72.5 598.9ZM131.3 556.3L129.6 556.4L130.2 555.0ZM96.3 551.2L94.6 551.2L95.3 549.8ZM62.8 613.6L61.3 613.0L62.4 612.0ZM96.4 524.7L94.8 525.3L95.0 523.8ZM45.9 582.9L44.5 582.0L45.7 581.2ZM115.0 555.9L113.6 556.7L113.5 555.2ZM39.6 575.0L38.2 574.1L39.5 573.3ZM42.5 613.0L41.5 611.6L43.0 611.4ZM127.4 582.5L125.8 581.9L126.9 580.9ZM56.0 537.1L55.0 538.5L54.3 537.2ZM80.5 574.7L78.9 574.4L79.8 573.2ZM89.9 521.7L88.7 522.8L88.3 521.4ZM130.4 580.9L128.8 580.5L129.7 579.4ZM77.3 556.9L75.7 557.5L75.9 556.0ZM124.8 530.0L123.6 531.1L123.2 529.7ZM98.1 599.2L96.6 598.5L97.7 597.6ZM64.0 570.4L62.3 570.6L62.8 569.2ZM129.5 558.2L127.8 558.0L128.7 556.8ZM62.0 559.9L60.4 560.5L60.5 559.0ZM103.3 598.2L101.6 597.9L102.5 596.7ZM36.6 575.3L35.2 574.3L36.6 573.6ZM54.0 549.8L52.7 550.9L52.4 549.4ZM136.6 577.5L134.9 577.5L135.6 576.1ZM60.1 579.2L58.5 578.7L59.6 577.7ZM109.1 564.4L107.4 564.2L108.2 563.0ZM76.9 620.2L75.9 618.9L77.4 618.6ZM68.4 559.1L66.7 559.3L67.2 557.9ZM79.3 635.6L77.7 635.0L78.8 634.0ZM33.8 623.1L32.9 621.7L34.4 621.5ZM30.2 620.5L29.0 619.4L30.4 618.8ZM105.9 603.1L104.2 603.0L105.0 601.7ZM83.7 539.3L82.4 540.4L82.0 539.0ZM75.3 625.7L74.1 624.5L75.5 624.1ZM52.2 597.1L50.8 596.2L52.0 595.4ZM55.0 553.1L53.6 554.0L53.5 552.5ZM57.7 625.7L56.4 624.6L57.9 624.1ZM118.9 605.8L117.3 605.5L118.1 604.3ZM114.8 615.9L113.3 615.3L114.4 614.3ZM62.7 621.5L61.5 620.4L62.9 619.9ZM86.6 563.9L85.0 564.6L85.1 563.1ZM114.2 605.3L112.5 605.3L113.2 604.0ZM105.5 536.0L104.2 537.1L103.9 535.6ZM76.7 575.2L75.1 574.7L76.2 573.6ZM61.5 589.5L59.9 588.8L61.1 587.9ZM47.9 560.7L46.3 561.1L46.6 559.7ZM132.2 542.1L130.7 542.8L130.7 541.3ZM39.6 603.0L39.0 601.4L40.5 601.5ZM86.3 573.9L84.6 573.9L85.3 572.6ZM125.3 590.7L123.8 590.0L125.0 589.1ZM39.2 564.3L37.6 564.4L38.1 563.0ZM50.5 634.3L49.0 633.4L50.3 632.6ZM60.6 605.5L59.2 604.5L60.6 603.8ZM29.8 601.7L29.2 600.2L30.7 600.3ZM25.0 571.2L24.0 569.8L25.5 569.7ZM36.3 552.2L35.3 553.6L34.6 552.2ZM113.6 530.1L112.6 531.5L111.9 530.1ZM109.4 589.1L107.8 588.9L108.6 587.7ZM80.7 526.4L79.3 527.4L79.1 525.9ZM95.7 605.7L94.2 605.1L95.3 604.0ZM45.7 540.6L45.5 542.2L44.3 541.4ZM114.5 610.3L112.9 609.9L113.9 608.7ZM111.4 569.4L109.8 569.2L110.6 567.9ZM104.5 541.7L103.0 542.4L103.0 540.9ZM68.7 628.0L67.7 626.7L69.2 626.4ZM102.0 528.5L100.4 529.0L100.7 527.5ZM77.0 608.5L75.4 607.9L76.5 606.8ZM76.6 586.1L75.0 586.3L75.4 584.9ZM27.4 555.4L28.1 556.9L26.6 556.8ZM105.0 546.8L103.4 547.4L103.6 545.9ZM35.9 629.4L35.6 627.8L37.1 628.2ZM35.3 582.1L34.6 580.6L36.1 580.6ZM60.7 537.8L59.5 539.0L59.0 537.5ZM137.8 557.3L136.1 557.5L136.6 556.1ZM103.3 543.9L101.7 544.5L101.9 543.0ZM96.1 610.4L94.6 609.7L95.8 608.8ZM133.3 548.6L131.9 549.4L131.8 547.9ZM136.3 572.9L134.6 572.8L135.4 571.5ZM70.4 609.1L69.0 608.1L70.3 607.4ZM115.2 560.8L113.6 561.3L113.9 559.8ZM126.3 526.7L125.1 527.8L124.6 526.4ZM81.7 606.4L80.0 606.2L80.8 604.9ZM53.7 548.0L52.6 549.2L52.1 547.8ZM79.9 538.9L78.9 540.2L78.3 538.9ZM92.7 605.1L91.0 604.7L92.1 603.6ZM62.1 593.5L60.7 592.6L62.0 591.9ZM35.1 626.6L34.7 625.0L36.1 625.3ZM62.5 568.2L60.9 568.8L61.1 567.3ZM49.0 600.8L47.7 599.8L49.0 599.1ZM133.8 580.5L132.2 580.2L133.0 579.0ZM135.9 561.6L134.3 561.2L135.3 560.1ZM38.0 568.5L36.3 568.4L37.0 567.1ZM46.1 603.3L45.0 602.1L46.5 601.7ZM81.6 550.6L80.1 551.2L80.2 549.7ZM138.6 553.4L137.2 554.2L137.1 552.7ZM67.4 590.4L65.8 589.9L66.9 588.8ZM74.7 546.4L73.3 547.3L73.1 545.8ZM51.1 558.7L49.6 559.4L49.6 557.9ZM104.1 595.1L102.5 594.7L103.4 593.5ZM129.1 543.9L127.4 544.3L127.7 542.8ZM28.9 575.2L27.6 574.2L29.0 573.6ZM44.8 569.0L43.1 568.8L43.9 567.6ZM108.9 582.8L107.2 583.1L107.6 581.6ZM80.1 554.8L78.6 555.6L78.6 554.1ZM44.6 572.6L43.0 572.1L44.1 571.0ZM107.4 552.3L105.9 553.0L105.9 551.5ZM80.9 615.8L79.5 614.8L80.8 614.1Z" fill="#000" fill-opacity="0.88"/></g>
<text x="82.50" y="656.60" font-size="10.8" text-anchor="middle" fill="#2e2e2e" textLength="162.40" lengthAdjust="spacingAndGlyphs">Proportion of cancer cell-derived</text>
<text x="82.80" y="666.20" font-size="10.8" text-anchor="middle" fill="#2e2e2e" textLength="117.20" lengthAdjust="spacingAndGlyphs">cCREs in synthetic cells</text>
<rect x="29.30" y="670.80" width="106.40" height="6.90" fill="url(#vir)" stroke="#333" stroke-width="0.8"/>
<line x1="71.90" y1="677.70" x2="71.90" y2="680.80" stroke="#444" stroke-width="0.9"/>
<text x="71.90" y="691.80" font-size="9.6" text-anchor="middle" fill="#2e2e2e">0.4</text>
<line x1="114.50" y1="677.70" x2="114.50" y2="680.80" stroke="#444" stroke-width="0.9"/>
<text x="114.50" y="691.80" font-size="9.6" text-anchor="middle" fill="#2e2e2e">0.8</text>
<use href="#fblob" transform="translate(175.70,223.05) scale(0.571)"/>
<line x1="224.10" y1="550.60" x2="226.18" y2="534.65" stroke="#000" stroke-width="2.0"/>
<path d="M226.90,529.10 L228.26,534.92 L224.09,534.38Z" fill="#000"/>
<use href="#fblob" transform="translate(266.40,223.05) scale(0.571)"/>
<line x1="314.80" y1="551.00" x2="301.90" y2="550.72" stroke="#000" stroke-width="2.0"/>
<path d="M296.30,550.60 L301.94,548.62 L301.85,552.82Z" fill="#000"/>
<use href="#fblob" transform="translate(175.70,316.65) scale(0.571)"/>
<line x1="223.40" y1="644.90" x2="210.94" y2="643.03" stroke="#000" stroke-width="2.0"/>
<path d="M205.40,642.20 L211.25,640.95 L210.63,645.11Z" fill="#000"/>
<use href="#fblob" transform="translate(266.40,316.65) scale(0.571)"/>
<line x1="314.80" y1="645.20" x2="302.25" y2="643.54" stroke="#000" stroke-width="2.0"/>
<path d="M296.70,642.80 L302.53,641.45 L301.98,645.62Z" fill="#000"/>
<text x="223.70" y="516.40" font-size="10.5" dx="0 0 0 0 -0.88" text-anchor="middle" fill="#2e2e2e" font-style="italic">ABCC1</text>
<text x="314.40" y="516.40" font-size="10.5" text-anchor="middle" fill="#2e2e2e" font-style="italic">EGLN3</text>
<text x="223.70" y="609.60" font-size="10.5" text-anchor="middle" fill="#2e2e2e" font-style="italic">VEGFA</text>
<text x="314.10" y="609.60" font-size="11" text-anchor="middle" fill="#2e2e2e">Group</text>
</svg>
</body></html>
